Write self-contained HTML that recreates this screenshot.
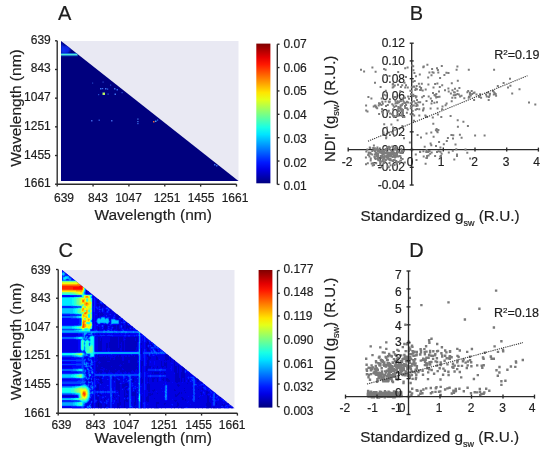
<!DOCTYPE html><html><head><meta charset="utf-8"><style>html,body{margin:0;padding:0;background:#fff;width:550px;height:452px;overflow:hidden}svg{display:block;filter:blur(0.4px)}text{font-family:"Liberation Sans",sans-serif;fill:#1e1e1e;stroke:#1e1e1e;stroke-width:0.2px}</style></head><body>
<svg width="550" height="452" viewBox="0 0 550 452">
<defs><linearGradient id="jet" x1="0" y1="0" x2="0" y2="1"><stop offset="0.00" stop-color="#7f0000"/><stop offset="0.05" stop-color="#b20000"/><stop offset="0.10" stop-color="#e50000"/><stop offset="0.15" stop-color="#ff1900"/><stop offset="0.20" stop-color="#ff4c00"/><stop offset="0.25" stop-color="#ff7f00"/><stop offset="0.30" stop-color="#ffb200"/><stop offset="0.35" stop-color="#ffe500"/><stop offset="0.40" stop-color="#e5ff19"/><stop offset="0.45" stop-color="#b2ff4c"/><stop offset="0.50" stop-color="#7fff7f"/><stop offset="0.55" stop-color="#4cffb2"/><stop offset="0.60" stop-color="#19ffe5"/><stop offset="0.65" stop-color="#00e5ff"/><stop offset="0.70" stop-color="#00b2ff"/><stop offset="0.75" stop-color="#007fff"/><stop offset="0.80" stop-color="#004cff"/><stop offset="0.85" stop-color="#0019ff"/><stop offset="0.90" stop-color="#0000e5"/><stop offset="0.95" stop-color="#0000b2"/><stop offset="1.00" stop-color="#00007f"/></linearGradient><filter id="bl" x="-5%" y="-5%" width="110%" height="110%"><feGaussianBlur stdDeviation="1"/></filter></defs>
<rect x="61" y="41" width="177.5" height="140" fill="#e9e9f3"/>
<polygon points="61,41 61,181 238.5,181" fill="#00007e"/>
<defs><clipPath id="atri"><polygon points="61,41 61,181 238.5,181"/></clipPath></defs><g clip-path="url(#atri)">
<g filter="url(#bl)">
<ellipse cx="65.5" cy="49.5" rx="5" ry="4" fill="#0828e8"/>
<polygon points="61,42 61,53.5 67,53.5" fill="#0a30f0"/>
</g>
<rect x="61" y="53.8" width="16.5" height="1.8" fill="#50e8d8"/>
<rect x="61" y="53.2" width="17" height="0.6" fill="#1890ff"/><rect x="61" y="55.6" width="17" height="0.6" fill="#1070e0"/>
<g>
<rect x="102.5" y="92.5" width="2.5" height="2.5" fill="#a0f070"/>
<rect x="103.2" y="93.2" width="1.2" height="1.2" fill="#f0f040"/>
<rect x="100" y="88" width="1.5" height="1.5" fill="#3a70f0"/>
<rect x="102" y="88" width="1.2" height="1.2" fill="#3a70f0"/>
<rect x="105" y="88" width="1.5" height="1.5" fill="#3a70f0"/>
<rect x="107" y="88.5" width="1.2" height="1.2" fill="#3060f0"/>
<rect x="114" y="88" width="1.5" height="1.5" fill="#3a70f0"/>
<rect x="116.5" y="89" width="1.5" height="1.5" fill="#3060f0"/>
<rect x="110" y="84.5" width="1.2" height="1.2" fill="#2848d0"/>
<rect x="102.5" y="81.5" width="1.2" height="1.2" fill="#2848d0"/>
<rect x="92" y="82.5" width="1.2" height="1.2" fill="#2040c0"/>
<rect x="114.5" y="93.5" width="1.5" height="1.5" fill="#3a70f0"/>
<rect x="107.5" y="93.5" width="1.2" height="1.2" fill="#3060e0"/>
<rect x="121.5" y="92" width="1.2" height="1.2" fill="#2850d0"/>
<rect x="98" y="94" width="1.2" height="1.2" fill="#2850d0"/>
<rect x="91" y="120" width="1.5" height="1.5" fill="#3a60e0"/>
<rect x="98.5" y="119.5" width="1.5" height="1.5" fill="#2848d0"/>
<rect x="111" y="120" width="1.5" height="1.5" fill="#3a60e0"/>
<rect x="137.3" y="118.5" width="1.2" height="1.2" fill="#4a80f0"/>
<rect x="137.3" y="121" width="1.2" height="1.2" fill="#4a80f0"/>
<rect x="137.3" y="123" width="1.2" height="1.2" fill="#3a70f0"/>
<rect x="153" y="121" width="1.5" height="1.5" fill="#e06040"/>
<rect x="155" y="120.5" width="1.5" height="1.5" fill="#40a0f0"/>
<rect x="157" y="119.5" width="1.2" height="1.2" fill="#3070f0"/>
<rect x="214" y="164" width="1.5" height="1.5" fill="#3a70f0"/>
<rect x="216" y="165" width="1.5" height="1.5" fill="#3060e0"/>
</g></g>
<line x1="57.2" y1="40.8" x2="57.2" y2="184.2" stroke="#2a2a2a" stroke-width="1.35" />
<line x1="57.2" y1="184.2" x2="236.5" y2="184.2" stroke="#2a2a2a" stroke-width="1.35" />
<line x1="55.0" y1="40.8" x2="57.2" y2="40.8" stroke="#2a2a2a" stroke-width="1.35" />
<line x1="57.2" y1="184.2" x2="57.2" y2="186.6" stroke="#2a2a2a" stroke-width="1.35" />
<line x1="55.0" y1="69.47999999999999" x2="57.2" y2="69.47999999999999" stroke="#2a2a2a" stroke-width="1.35" />
<line x1="93.06" y1="184.2" x2="93.06" y2="186.6" stroke="#2a2a2a" stroke-width="1.35" />
<line x1="55.0" y1="98.16" x2="57.2" y2="98.16" stroke="#2a2a2a" stroke-width="1.35" />
<line x1="128.92000000000002" y1="184.2" x2="128.92000000000002" y2="186.6" stroke="#2a2a2a" stroke-width="1.35" />
<line x1="55.0" y1="126.83999999999999" x2="57.2" y2="126.83999999999999" stroke="#2a2a2a" stroke-width="1.35" />
<line x1="164.78000000000003" y1="184.2" x2="164.78000000000003" y2="186.6" stroke="#2a2a2a" stroke-width="1.35" />
<line x1="55.0" y1="155.51999999999998" x2="57.2" y2="155.51999999999998" stroke="#2a2a2a" stroke-width="1.35" />
<line x1="200.64" y1="184.2" x2="200.64" y2="186.6" stroke="#2a2a2a" stroke-width="1.35" />
<line x1="55.0" y1="184.2" x2="57.2" y2="184.2" stroke="#2a2a2a" stroke-width="1.35" />
<line x1="236.5" y1="184.2" x2="236.5" y2="186.6" stroke="#2a2a2a" stroke-width="1.35" />
<text x="50.8" y="43.6" font-size="12" text-anchor="end" >639</text>
<text x="64" y="202.1" font-size="12" text-anchor="middle" >639</text>
<text x="50.8" y="72.39999999999999" font-size="12" text-anchor="end" >843</text>
<text x="98" y="202.1" font-size="12" text-anchor="middle" >843</text>
<text x="50.8" y="101.1" font-size="12" text-anchor="end" >1047</text>
<text x="128.5" y="202.1" font-size="12" text-anchor="middle" >1047</text>
<text x="50.8" y="129.8" font-size="12" text-anchor="end" >1251</text>
<text x="167" y="202.1" font-size="12" text-anchor="middle" >1251</text>
<text x="50.8" y="158.7" font-size="12" text-anchor="end" >1455</text>
<text x="201" y="202.1" font-size="12" text-anchor="middle" >1455</text>
<text x="50.8" y="187.1" font-size="12" text-anchor="end" >1661</text>
<text x="235" y="202.1" font-size="12" text-anchor="middle" >1661</text>
<text x="94.4" y="220" font-size="15.5" text-anchor="start" >Wavelength (nm)</text>
<text x="0" y="0" font-size="15.5" text-anchor="middle" transform="translate(21.3,108) rotate(-90)">Wavelength (nm)</text>
<text x="58" y="20.1" font-size="20" text-anchor="start" >A</text>
<rect x="256.3" y="43.6" width="14.099999999999966" height="139.70000000000002" fill="url(#jet)"/>
<line x1="277.3" y1="44.2" x2="277.3" y2="184.4" stroke="#2a2a2a" stroke-width="1.35" />
<line x1="277.3" y1="44.2" x2="279.5" y2="44.2" stroke="#2a2a2a" stroke-width="1.35" />
<text x="283.4" y="48.0" font-size="12" text-anchor="start" >0.07</text>
<line x1="277.3" y1="67.56666666666666" x2="279.5" y2="67.56666666666666" stroke="#2a2a2a" stroke-width="1.35" />
<text x="283.4" y="71.69999999999999" font-size="12" text-anchor="start" >0.06</text>
<line x1="277.3" y1="90.93333333333334" x2="279.5" y2="90.93333333333334" stroke="#2a2a2a" stroke-width="1.35" />
<text x="283.4" y="95.39999999999999" font-size="12" text-anchor="start" >0.05</text>
<line x1="277.3" y1="114.3" x2="279.5" y2="114.3" stroke="#2a2a2a" stroke-width="1.35" />
<text x="283.4" y="119.1" font-size="12" text-anchor="start" >0.04</text>
<line x1="277.3" y1="137.66666666666666" x2="279.5" y2="137.66666666666666" stroke="#2a2a2a" stroke-width="1.35" />
<text x="283.4" y="142.79999999999998" font-size="12" text-anchor="start" >0.03</text>
<line x1="277.3" y1="161.03333333333333" x2="279.5" y2="161.03333333333333" stroke="#2a2a2a" stroke-width="1.35" />
<text x="283.4" y="166.5" font-size="12" text-anchor="start" >0.02</text>
<line x1="277.3" y1="184.39999999999998" x2="279.5" y2="184.39999999999998" stroke="#2a2a2a" stroke-width="1.35" />
<text x="283.4" y="190.2" font-size="12" text-anchor="start" >0.01</text>
<rect x="62" y="270" width="172.5" height="138.2" fill="#e9e9f3"/>
<defs><clipPath id="ctri"><polygon points="62,270 62,408.2 234.5,408.2"/></clipPath></defs>
<g clip-path="url(#ctri)"><g>
<rect x="62" y="270" width="173" height="139" fill="#0000e2"/><path fill="#0004ff" d="M62 270h14v1h-14zM84 270h1v1h-1zM128 270h1v1h-1zM197 270h1v1h-1zM221 270h1v1h-1zM62 271h1v1h-1zM64 271h12v1h-12zM84 271h1v1h-1zM200 271h1v1h-1zM65 272h11v1h-11zM84 272h1v1h-1zM146 272h1v1h-1zM155 272h1v1h-1zM172 272h1v1h-1zM66 273h10v1h-10zM84 273h1v1h-1zM103 273h1v1h-1zM172 273h1v1h-1zM200 273h1v1h-1zM218 273h2v1h-2zM66 274h10v1h-10zM84 274h1v1h-1zM111 274h1v1h-1zM145 274h1v1h-1zM171 274h2v1h-2zM200 274h1v1h-1zM69 275h7v1h-7zM84 275h1v1h-1zM132 275h1v1h-1zM209 275h1v1h-1zM229 275h1v1h-1zM70 276h6v1h-6zM84 276h1v1h-1zM123 276h1v1h-1zM172 276h1v1h-1zM220 276h1v1h-1zM225 276h1v1h-1zM71 277h5v1h-5zM84 277h1v1h-1zM101 277h1v1h-1zM110 277h1v1h-1zM118 277h1v1h-1zM141 277h2v1h-2zM146 277h1v1h-1zM171 277h2v1h-2zM72 278h4v1h-4zM84 278h1v1h-1zM146 278h1v1h-1zM171 278h2v1h-2zM176 278h1v1h-1zM203 278h2v1h-2zM72 279h4v1h-4zM84 279h1v1h-1zM95 279h1v1h-1zM142 279h1v1h-1zM171 279h2v1h-2zM142 280h1v1h-1zM146 280h1v1h-1zM171 280h2v1h-2zM142 281h1v1h-1zM171 281h2v1h-2zM196 281h2v1h-2zM142 282h1v1h-1zM160 282h1v1h-1zM170 282h2v1h-2zM197 282h1v1h-1zM210 282h1v1h-1zM142 283h1v1h-1zM160 283h1v1h-1zM171 283h1v1h-1zM210 283h1v1h-1zM229 283h1v1h-1zM142 284h1v1h-1zM160 284h1v1h-1zM210 284h1v1h-1zM86 285h1v1h-1zM160 285h1v1h-1zM199 285h2v1h-2zM86 286h1v1h-1zM160 286h1v1h-1zM200 286h2v1h-2zM142 287h2v1h-2zM160 287h1v1h-1zM171 287h1v1h-1zM220 287h1v1h-1zM88 288h1v1h-1zM135 288h1v1h-1zM142 288h1v1h-1zM171 288h1v1h-1zM190 288h1v1h-1zM88 289h1v1h-1zM144 289h1v1h-1zM155 289h1v1h-1zM171 289h1v1h-1zM190 289h1v1h-1zM204 289h1v1h-1zM234 289h1v1h-1zM88 290h1v1h-1zM190 290h1v1h-1zM204 290h1v1h-1zM233 290h2v1h-2zM88 291h1v1h-1zM158 291h1v1h-1zM190 291h1v1h-1zM204 291h1v1h-1zM234 291h1v1h-1zM88 292h1v1h-1zM185 292h1v1h-1zM190 292h1v1h-1zM204 292h1v1h-1zM173 293h1v1h-1zM190 293h1v1h-1zM234 293h1v1h-1zM190 294h1v1h-1zM193 294h1v1h-1zM233 294h2v1h-2zM62 295h8v1h-8zM138 295h2v1h-2zM190 295h1v1h-1zM234 295h1v1h-1zM62 296h12v1h-12zM92 296h1v1h-1zM97 296h1v1h-1zM99 296h1v1h-1zM115 296h1v1h-1zM134 296h1v1h-1zM190 296h1v1h-1zM217 296h1v1h-1zM92 297h1v1h-1zM94 297h1v1h-1zM97 297h1v1h-1zM190 297h1v1h-1zM192 297h1v1h-1zM226 297h1v1h-1zM111 298h1v1h-1zM134 298h1v1h-1zM190 298h1v1h-1zM95 299h1v1h-1zM115 299h1v1h-1zM190 299h1v1h-1zM95 300h1v1h-1zM100 300h1v1h-1zM103 300h2v1h-2zM111 300h1v1h-1zM95 301h1v1h-1zM101 301h2v1h-2zM105 301h1v1h-1zM108 301h3v1h-3zM124 301h1v1h-1zM138 301h1v1h-1zM95 302h1v1h-1zM102 302h2v1h-2zM108 302h1v1h-1zM110 302h2v1h-2zM137 302h1v1h-1zM139 302h1v1h-1zM196 302h1v1h-1zM210 302h1v1h-1zM95 303h1v1h-1zM100 303h1v1h-1zM102 303h1v1h-1zM108 303h1v1h-1zM110 303h2v1h-2zM121 303h1v1h-1zM126 303h1v1h-1zM138 303h1v1h-1zM196 303h2v1h-2zM95 304h1v1h-1zM108 304h1v1h-1zM110 304h1v1h-1zM114 304h1v1h-1zM127 304h1v1h-1zM130 304h1v1h-1zM196 304h1v1h-1zM95 305h1v1h-1zM109 305h1v1h-1zM113 305h1v1h-1zM122 305h1v1h-1zM134 305h1v1h-1zM169 305h1v1h-1zM93 306h1v1h-1zM95 306h2v1h-2zM115 306h1v1h-1zM135 306h1v1h-1zM137 306h1v1h-1zM209 306h1v1h-1zM93 307h1v1h-1zM95 307h1v1h-1zM97 307h2v1h-2zM106 307h2v1h-2zM117 307h1v1h-1zM123 307h1v1h-1zM133 307h2v1h-2zM172 307h1v1h-1zM93 308h1v1h-1zM96 308h1v1h-1zM98 308h2v1h-2zM103 308h1v1h-1zM105 308h1v1h-1zM108 308h1v1h-1zM123 308h1v1h-1zM129 308h1v1h-1zM132 308h1v1h-1zM134 308h1v1h-1zM172 308h1v1h-1zM189 308h2v1h-2zM93 309h1v1h-1zM97 309h2v1h-2zM101 309h1v1h-1zM103 309h1v1h-1zM106 309h2v1h-2zM109 309h1v1h-1zM118 309h1v1h-1zM129 309h1v1h-1zM132 309h3v1h-3zM160 309h1v1h-1zM172 309h2v1h-2zM180 309h1v1h-1zM93 310h1v1h-1zM99 310h1v1h-1zM103 310h1v1h-1zM107 310h1v1h-1zM109 310h1v1h-1zM128 310h1v1h-1zM133 310h2v1h-2zM172 310h1v1h-1zM232 310h1v1h-1zM234 310h1v1h-1zM93 311h1v1h-1zM103 311h1v1h-1zM106 311h1v1h-1zM108 311h1v1h-1zM132 311h1v1h-1zM138 311h1v1h-1zM172 311h1v1h-1zM189 311h2v1h-2zM232 311h1v1h-1zM94 312h1v1h-1zM106 312h1v1h-1zM108 312h1v1h-1zM129 312h1v1h-1zM154 312h2v1h-2zM94 313h1v1h-1zM129 313h1v1h-1zM134 313h1v1h-1zM138 313h1v1h-1zM190 313h1v1h-1zM94 314h3v1h-3zM109 314h1v1h-1zM114 314h1v1h-1zM184 314h1v1h-1zM190 314h1v1h-1zM205 314h1v1h-1zM209 314h1v1h-1zM62 315h8v1h-8zM94 315h1v1h-1zM125 315h1v1h-1zM138 315h2v1h-2zM176 315h1v1h-1zM190 315h1v1h-1zM94 316h1v1h-1zM102 316h3v1h-3zM106 316h1v1h-1zM113 316h2v1h-2zM125 316h1v1h-1zM129 316h1v1h-1zM134 316h1v1h-1zM138 316h1v1h-1zM94 317h1v1h-1zM99 317h2v1h-2zM105 317h2v1h-2zM109 317h1v1h-1zM126 317h1v1h-1zM128 317h1v1h-1zM130 317h1v1h-1zM134 317h1v1h-1zM137 317h2v1h-2zM172 317h2v1h-2zM188 317h1v1h-1zM62 318h9v1h-9zM94 318h1v1h-1zM111 318h2v1h-2zM114 318h1v1h-1zM121 318h2v1h-2zM125 318h1v1h-1zM127 318h1v1h-1zM137 318h1v1h-1zM139 318h1v1h-1zM171 318h2v1h-2zM194 318h1v1h-1zM62 319h17v1h-17zM92 319h1v1h-1zM94 319h1v1h-1zM96 319h1v1h-1zM116 319h1v1h-1zM127 319h5v1h-5zM136 319h1v1h-1zM138 319h2v1h-2zM171 319h1v1h-1zM194 319h1v1h-1zM62 320h17v1h-17zM92 320h1v1h-1zM94 320h1v1h-1zM109 320h2v1h-2zM128 320h3v1h-3zM132 320h1v1h-1zM138 320h1v1h-1zM144 320h1v1h-1zM171 320h1v1h-1zM202 320h2v1h-2zM62 321h17v1h-17zM92 321h1v1h-1zM94 321h2v1h-2zM110 321h1v1h-1zM123 321h2v1h-2zM129 321h2v1h-2zM132 321h1v1h-1zM134 321h1v1h-1zM138 321h2v1h-2zM171 321h1v1h-1zM62 322h17v1h-17zM94 322h1v1h-1zM96 322h1v1h-1zM109 322h2v1h-2zM122 322h1v1h-1zM125 322h1v1h-1zM131 322h2v1h-2zM134 322h1v1h-1zM138 322h2v1h-2zM168 322h1v1h-1zM171 322h1v1h-1zM62 323h17v1h-17zM94 323h1v1h-1zM101 323h2v1h-2zM110 323h1v1h-1zM123 323h2v1h-2zM128 323h1v1h-1zM130 323h1v1h-1zM133 323h1v1h-1zM138 323h2v1h-2zM171 323h1v1h-1zM62 324h16v1h-16zM94 324h2v1h-2zM97 324h3v1h-3zM107 324h1v1h-1zM109 324h1v1h-1zM112 324h6v1h-6zM124 324h1v1h-1zM129 324h1v1h-1zM137 324h1v1h-1zM171 324h1v1h-1zM180 324h1v1h-1zM221 324h1v1h-1zM94 325h3v1h-3zM101 325h1v1h-1zM103 325h1v1h-1zM110 325h1v1h-1zM120 325h1v1h-1zM138 325h1v1h-1zM170 325h2v1h-2zM94 326h2v1h-2zM99 326h1v1h-1zM101 326h1v1h-1zM103 326h1v1h-1zM109 326h1v1h-1zM120 326h1v1h-1zM170 326h3v1h-3zM94 327h2v1h-2zM102 327h2v1h-2zM108 327h1v1h-1zM111 327h1v1h-1zM120 327h1v1h-1zM170 327h2v1h-2zM92 328h1v1h-1zM94 328h2v1h-2zM109 328h1v1h-1zM111 328h2v1h-2zM121 328h1v1h-1zM134 328h1v1h-1zM144 328h1v1h-1zM170 328h2v1h-2zM192 328h1v1h-1zM94 329h3v1h-3zM107 329h4v1h-4zM121 329h1v1h-1zM123 329h1v1h-1zM127 329h1v1h-1zM134 329h1v1h-1zM171 329h1v1h-1zM198 329h1v1h-1zM91 330h3v1h-3zM97 330h1v1h-1zM99 330h4v1h-4zM105 330h2v1h-2zM110 330h1v1h-1zM112 330h2v1h-2zM115 330h3v1h-3zM120 330h2v1h-2zM124 330h16v1h-16zM142 330h3v1h-3zM197 330h2v1h-2zM145 331h1v1h-1zM154 331h1v1h-1zM171 331h1v1h-1zM197 331h2v1h-2zM200 331h1v1h-1zM145 332h1v1h-1zM169 332h3v1h-3zM179 332h1v1h-1zM197 332h1v1h-1zM233 332h1v1h-1zM62 333h16v1h-16zM93 333h1v1h-1zM95 333h3v1h-3zM99 333h14v1h-14zM114 333h5v1h-5zM120 333h5v1h-5zM126 333h3v1h-3zM130 333h8v1h-8zM141 333h1v1h-1zM143 333h2v1h-2zM167 333h1v1h-1zM171 333h1v1h-1zM197 333h1v1h-1zM212 333h1v1h-1zM78 334h4v1h-4zM87 334h1v1h-1zM94 334h1v1h-1zM100 334h1v1h-1zM103 334h1v1h-1zM108 334h2v1h-2zM111 334h1v1h-1zM121 334h1v1h-1zM125 334h1v1h-1zM136 334h2v1h-2zM140 334h1v1h-1zM142 334h3v1h-3zM184 334h1v1h-1zM197 334h1v1h-1zM78 335h4v1h-4zM86 335h4v1h-4zM96 335h4v1h-4zM105 335h2v1h-2zM113 335h11v1h-11zM126 335h2v1h-2zM130 335h4v1h-4zM135 335h1v1h-1zM137 335h1v1h-1zM141 335h1v1h-1zM160 335h1v1h-1zM62 336h14v1h-14zM88 336h1v1h-1zM101 336h1v1h-1zM112 336h1v1h-1zM124 336h2v1h-2zM128 336h2v1h-2zM134 336h1v1h-1zM138 336h1v1h-1zM141 336h3v1h-3zM145 336h1v1h-1zM160 336h1v1h-1zM234 336h1v1h-1zM138 337h1v1h-1zM142 337h1v1h-1zM145 337h1v1h-1zM164 337h1v1h-1zM210 337h2v1h-2zM138 338h1v1h-1zM142 338h1v1h-1zM145 338h1v1h-1zM148 338h1v1h-1zM196 338h2v1h-2zM211 338h1v1h-1zM234 338h1v1h-1zM62 339h14v1h-14zM124 339h1v1h-1zM138 339h1v1h-1zM142 339h1v1h-1zM145 339h1v1h-1zM149 339h1v1h-1zM157 339h3v1h-3zM164 339h1v1h-1zM204 339h2v1h-2zM227 339h1v1h-1zM78 340h2v1h-2zM138 340h1v1h-1zM142 340h1v1h-1zM145 340h1v1h-1zM150 340h1v1h-1zM157 340h1v1h-1zM160 340h2v1h-2zM184 340h1v1h-1zM208 340h1v1h-1zM78 341h2v1h-2zM138 341h1v1h-1zM145 341h1v1h-1zM150 341h1v1h-1zM160 341h2v1h-2zM165 341h1v1h-1zM78 342h2v1h-2zM144 342h1v1h-1zM149 342h1v1h-1zM152 342h3v1h-3zM156 342h1v1h-1zM159 342h3v1h-3zM164 342h1v1h-1zM171 342h1v1h-1zM226 342h1v1h-1zM78 343h2v1h-2zM140 343h1v1h-1zM144 343h1v1h-1zM149 343h1v1h-1zM154 343h2v1h-2zM161 343h1v1h-1zM171 343h1v1h-1zM214 343h1v1h-1zM226 343h1v1h-1zM78 344h2v1h-2zM140 344h1v1h-1zM144 344h1v1h-1zM153 344h1v1h-1zM155 344h1v1h-1zM158 344h1v1h-1zM161 344h2v1h-2zM171 344h1v1h-1zM176 344h1v1h-1zM186 344h1v1h-1zM189 344h1v1h-1zM226 344h1v1h-1zM234 344h1v1h-1zM78 345h2v1h-2zM140 345h1v1h-1zM144 345h1v1h-1zM149 345h1v1h-1zM153 345h1v1h-1zM159 345h1v1h-1zM161 345h1v1h-1zM171 345h1v1h-1zM189 345h1v1h-1zM218 345h1v1h-1zM226 345h1v1h-1zM78 346h2v1h-2zM140 346h1v1h-1zM144 346h1v1h-1zM150 346h1v1h-1zM156 346h1v1h-1zM158 346h1v1h-1zM161 346h1v1h-1zM171 346h1v1h-1zM189 346h1v1h-1zM226 346h1v1h-1zM78 347h2v1h-2zM140 347h1v1h-1zM144 347h1v1h-1zM150 347h1v1h-1zM164 347h3v1h-3zM168 347h17v1h-17zM78 348h2v1h-2zM140 348h1v1h-1zM144 348h1v1h-1zM150 348h1v1h-1zM154 348h3v1h-3zM159 348h2v1h-2zM164 348h9v1h-9zM174 348h11v1h-11zM78 349h2v1h-2zM140 349h1v1h-1zM145 349h1v1h-1zM150 349h1v1h-1zM152 349h1v1h-1zM154 349h1v1h-1zM158 349h4v1h-4zM163 349h2v1h-2zM172 349h2v1h-2zM78 350h3v1h-3zM140 350h1v1h-1zM145 350h1v1h-1zM150 350h1v1h-1zM152 350h1v1h-1zM155 350h1v1h-1zM159 350h1v1h-1zM162 350h1v1h-1zM165 350h1v1h-1zM179 350h1v1h-1zM192 350h2v1h-2zM78 351h3v1h-3zM95 351h13v1h-13zM109 351h28v1h-28zM140 351h1v1h-1zM143 351h1v1h-1zM145 351h2v1h-2zM150 351h1v1h-1zM156 351h1v1h-1zM158 351h2v1h-2zM140 352h1v1h-1zM170 352h1v1h-1zM188 352h1v1h-1zM140 353h1v1h-1zM96 354h1v1h-1zM98 354h13v1h-13zM112 354h19v1h-19zM132 354h6v1h-6zM143 354h1v1h-1zM145 354h2v1h-2zM148 354h1v1h-1zM150 354h1v1h-1zM152 354h4v1h-4zM157 354h8v1h-8zM172 354h1v1h-1zM226 354h1v1h-1zM143 355h1v1h-1zM145 355h1v1h-1zM152 355h1v1h-1zM154 355h1v1h-1zM172 355h1v1h-1zM204 355h1v1h-1zM226 355h1v1h-1zM86 356h2v1h-2zM138 356h1v1h-1zM143 356h1v1h-1zM145 356h1v1h-1zM172 356h1v1h-1zM226 356h1v1h-1zM62 357h12v1h-12zM84 357h1v1h-1zM88 357h1v1h-1zM92 357h2v1h-2zM138 357h1v1h-1zM143 357h1v1h-1zM145 357h1v1h-1zM187 357h1v1h-1zM226 357h1v1h-1zM71 358h10v1h-10zM84 358h2v1h-2zM87 358h1v1h-1zM89 358h3v1h-3zM94 358h1v1h-1zM138 358h1v1h-1zM145 358h1v1h-1zM226 358h1v1h-1zM62 359h14v1h-14zM87 359h1v1h-1zM94 359h1v1h-1zM138 359h1v1h-1zM145 359h1v1h-1zM159 359h1v1h-1zM217 359h1v1h-1zM226 359h1v1h-1zM229 359h1v1h-1zM92 360h1v1h-1zM94 360h1v1h-1zM138 360h1v1h-1zM140 360h1v1h-1zM145 360h1v1h-1zM204 360h1v1h-1zM62 361h14v1h-14zM85 361h2v1h-2zM90 361h1v1h-1zM95 361h1v1h-1zM140 361h1v1h-1zM145 361h1v1h-1zM150 361h1v1h-1zM154 361h1v1h-1zM222 361h1v1h-1zM71 362h10v1h-10zM88 362h1v1h-1zM90 362h1v1h-1zM93 362h2v1h-2zM138 362h1v1h-1zM140 362h1v1h-1zM145 362h1v1h-1zM150 362h1v1h-1zM154 362h1v1h-1zM222 362h1v1h-1zM62 363h14v1h-14zM89 363h1v1h-1zM94 363h1v1h-1zM138 363h1v1h-1zM140 363h1v1h-1zM145 363h2v1h-2zM154 363h1v1h-1zM171 363h2v1h-2zM179 363h1v1h-1zM186 363h1v1h-1zM222 363h1v1h-1zM93 364h2v1h-2zM138 364h1v1h-1zM140 364h1v1h-1zM145 364h1v1h-1zM154 364h1v1h-1zM62 365h14v1h-14zM92 365h1v1h-1zM94 365h1v1h-1zM138 365h1v1h-1zM140 365h1v1h-1zM145 365h1v1h-1zM72 366h9v1h-9zM91 366h1v1h-1zM94 366h1v1h-1zM138 366h1v1h-1zM140 366h1v1h-1zM144 366h1v1h-1zM171 366h1v1h-1zM188 366h1v1h-1zM197 366h2v1h-2zM206 366h1v1h-1zM72 367h9v1h-9zM84 367h2v1h-2zM88 367h2v1h-2zM94 367h1v1h-1zM138 367h1v1h-1zM140 367h1v1h-1zM144 367h1v1h-1zM151 367h1v1h-1zM171 367h1v1h-1zM197 367h1v1h-1zM229 367h1v1h-1zM62 368h11v1h-11zM84 368h1v1h-1zM86 368h1v1h-1zM92 368h1v1h-1zM94 368h1v1h-1zM138 368h1v1h-1zM140 368h1v1h-1zM144 368h1v1h-1zM151 368h1v1h-1zM155 368h1v1h-1zM160 368h2v1h-2zM170 368h2v1h-2zM197 368h1v1h-1zM229 368h1v1h-1zM86 369h1v1h-1zM89 369h2v1h-2zM93 369h2v1h-2zM138 369h1v1h-1zM140 369h1v1h-1zM144 369h1v1h-1zM171 369h1v1h-1zM186 369h1v1h-1zM197 369h1v1h-1zM229 369h1v1h-1zM86 370h2v1h-2zM93 370h2v1h-2zM138 370h1v1h-1zM140 370h1v1h-1zM144 370h1v1h-1zM171 370h1v1h-1zM186 370h1v1h-1zM188 370h2v1h-2zM197 370h1v1h-1zM229 370h1v1h-1zM62 371h9v1h-9zM86 371h2v1h-2zM90 371h1v1h-1zM93 371h2v1h-2zM138 371h1v1h-1zM140 371h1v1h-1zM144 371h1v1h-1zM160 371h1v1h-1zM186 371h2v1h-2zM190 371h1v1h-1zM234 371h1v1h-1zM62 372h16v1h-16zM90 372h1v1h-1zM94 372h1v1h-1zM138 372h1v1h-1zM145 372h1v1h-1zM188 372h2v1h-2zM87 373h1v1h-1zM90 373h1v1h-1zM93 373h1v1h-1zM95 373h1v1h-1zM99 373h1v1h-1zM102 373h4v1h-4zM108 373h5v1h-5zM115 373h3v1h-3zM120 373h2v1h-2zM124 373h2v1h-2zM128 373h2v1h-2zM134 373h3v1h-3zM145 373h1v1h-1zM147 373h1v1h-1zM174 373h1v1h-1zM234 373h1v1h-1zM86 374h1v1h-1zM91 374h2v1h-2zM145 374h1v1h-1zM150 374h1v1h-1zM160 374h1v1h-1zM86 375h1v1h-1zM91 375h2v1h-2zM145 375h1v1h-1zM147 375h1v1h-1zM212 375h1v1h-1zM88 376h1v1h-1zM90 376h2v1h-2zM93 376h1v1h-1zM95 376h1v1h-1zM99 376h1v1h-1zM102 376h1v1h-1zM104 376h2v1h-2zM108 376h1v1h-1zM112 376h2v1h-2zM116 376h3v1h-3zM120 376h3v1h-3zM125 376h1v1h-1zM127 376h1v1h-1zM131 376h1v1h-1zM134 376h3v1h-3zM145 376h1v1h-1zM147 376h1v1h-1zM188 376h1v1h-1zM190 376h4v1h-4zM196 376h1v1h-1zM87 377h1v1h-1zM91 377h2v1h-2zM94 377h1v1h-1zM102 377h2v1h-2zM109 377h1v1h-1zM125 377h1v1h-1zM128 377h1v1h-1zM150 377h1v1h-1zM159 377h2v1h-2zM187 377h1v1h-1zM189 377h1v1h-1zM194 377h1v1h-1zM208 377h2v1h-2zM90 378h1v1h-1zM95 378h1v1h-1zM103 378h1v1h-1zM109 378h1v1h-1zM118 378h1v1h-1zM124 378h1v1h-1zM128 378h1v1h-1zM131 378h1v1h-1zM140 378h1v1h-1zM159 378h2v1h-2zM190 378h2v1h-2zM208 378h1v1h-1zM71 379h9v1h-9zM85 379h2v1h-2zM95 379h1v1h-1zM97 379h1v1h-1zM108 379h2v1h-2zM123 379h1v1h-1zM128 379h1v1h-1zM140 379h1v1h-1zM159 379h2v1h-2zM232 379h1v1h-1zM62 380h16v1h-16zM85 380h1v1h-1zM88 380h1v1h-1zM91 380h1v1h-1zM95 380h1v1h-1zM109 380h1v1h-1zM123 380h1v1h-1zM127 380h1v1h-1zM131 380h1v1h-1zM140 380h1v1h-1zM159 380h2v1h-2zM186 380h1v1h-1zM190 380h2v1h-2zM195 380h1v1h-1zM209 380h1v1h-1zM232 380h1v1h-1zM89 381h2v1h-2zM92 381h1v1h-1zM95 381h1v1h-1zM97 381h1v1h-1zM109 381h1v1h-1zM135 381h1v1h-1zM140 381h1v1h-1zM186 381h1v1h-1zM191 381h2v1h-2zM195 381h1v1h-1zM232 381h1v1h-1zM93 382h1v1h-1zM95 382h1v1h-1zM98 382h1v1h-1zM109 382h1v1h-1zM114 382h1v1h-1zM128 382h1v1h-1zM131 382h1v1h-1zM140 382h1v1h-1zM147 382h1v1h-1zM165 382h1v1h-1zM172 382h1v1h-1zM182 382h1v1h-1zM192 382h1v1h-1zM195 382h1v1h-1zM85 383h1v1h-1zM89 383h1v1h-1zM91 383h1v1h-1zM93 383h1v1h-1zM95 383h1v1h-1zM109 383h1v1h-1zM121 383h1v1h-1zM128 383h1v1h-1zM131 383h1v1h-1zM140 383h1v1h-1zM165 383h1v1h-1zM195 383h1v1h-1zM62 384h18v1h-18zM86 384h2v1h-2zM89 384h1v1h-1zM91 384h1v1h-1zM93 384h1v1h-1zM95 384h1v1h-1zM109 384h1v1h-1zM131 384h2v1h-2zM140 384h1v1h-1zM145 384h1v1h-1zM163 384h1v1h-1zM165 384h2v1h-2zM200 384h1v1h-1zM204 384h1v1h-1zM62 385h13v1h-13zM89 385h1v1h-1zM93 385h1v1h-1zM108 385h2v1h-2zM131 385h1v1h-1zM133 385h1v1h-1zM140 385h1v1h-1zM145 385h1v1h-1zM167 385h1v1h-1zM192 385h1v1h-1zM195 385h2v1h-2zM199 385h3v1h-3zM203 385h2v1h-2zM89 386h1v1h-1zM109 386h1v1h-1zM126 386h1v1h-1zM131 386h2v1h-2zM134 386h1v1h-1zM141 386h1v1h-1zM145 386h1v1h-1zM164 386h1v1h-1zM167 386h1v1h-1zM192 386h1v1h-1zM197 386h1v1h-1zM204 386h2v1h-2zM208 386h1v1h-1zM229 386h1v1h-1zM95 387h1v1h-1zM104 387h1v1h-1zM109 387h1v1h-1zM114 387h1v1h-1zM128 387h1v1h-1zM133 387h4v1h-4zM140 387h1v1h-1zM145 387h1v1h-1zM164 387h1v1h-1zM167 387h1v1h-1zM231 387h1v1h-1zM234 387h1v1h-1zM94 388h1v1h-1zM109 388h1v1h-1zM114 388h1v1h-1zM134 388h1v1h-1zM140 388h1v1h-1zM145 388h1v1h-1zM161 388h1v1h-1zM164 388h1v1h-1zM167 388h1v1h-1zM203 388h1v1h-1zM206 388h2v1h-2zM218 388h1v1h-1zM93 389h2v1h-2zM109 389h1v1h-1zM114 389h1v1h-1zM127 389h1v1h-1zM133 389h1v1h-1zM140 389h1v1h-1zM145 389h1v1h-1zM164 389h1v1h-1zM167 389h1v1h-1zM192 389h1v1h-1zM204 389h1v1h-1zM206 389h1v1h-1zM208 389h1v1h-1zM91 390h3v1h-3zM95 390h1v1h-1zM100 390h1v1h-1zM102 390h2v1h-2zM107 390h3v1h-3zM112 390h1v1h-1zM114 390h2v1h-2zM128 390h1v1h-1zM140 390h1v1h-1zM144 390h1v1h-1zM164 390h1v1h-1zM167 390h1v1h-1zM201 390h1v1h-1zM208 390h3v1h-3zM140 391h1v1h-1zM144 391h1v1h-1zM156 391h1v1h-1zM162 391h1v1h-1zM167 391h1v1h-1zM203 391h1v1h-1zM211 391h1v1h-1zM214 391h1v1h-1zM116 392h1v1h-1zM140 392h1v1h-1zM144 392h1v1h-1zM164 392h1v1h-1zM167 392h1v1h-1zM204 392h1v1h-1zM210 392h1v1h-1zM212 392h2v1h-2zM95 393h1v1h-1zM97 393h1v1h-1zM100 393h1v1h-1zM102 393h2v1h-2zM105 393h1v1h-1zM107 393h3v1h-3zM112 393h1v1h-1zM115 393h1v1h-1zM140 393h1v1h-1zM142 393h1v1h-1zM144 393h1v1h-1zM164 393h1v1h-1zM167 393h1v1h-1zM195 393h1v1h-1zM203 393h2v1h-2zM210 393h3v1h-3zM215 393h1v1h-1zM229 393h1v1h-1zM91 394h3v1h-3zM112 394h1v1h-1zM144 394h1v1h-1zM164 394h1v1h-1zM167 394h1v1h-1zM204 394h1v1h-1zM208 394h3v1h-3zM212 394h1v1h-1zM74 395h3v1h-3zM97 395h1v1h-1zM112 395h1v1h-1zM144 395h1v1h-1zM164 395h1v1h-1zM167 395h1v1h-1zM192 395h1v1h-1zM200 395h1v1h-1zM202 395h1v1h-1zM210 395h1v1h-1zM212 395h1v1h-1zM77 396h1v1h-1zM91 396h1v1h-1zM102 396h2v1h-2zM112 396h1v1h-1zM131 396h1v1h-1zM144 396h1v1h-1zM167 396h1v1h-1zM188 396h1v1h-1zM192 396h1v1h-1zM199 396h1v1h-1zM212 396h1v1h-1zM216 396h1v1h-1zM62 397h13v1h-13zM112 397h1v1h-1zM127 397h2v1h-2zM131 397h1v1h-1zM144 397h1v1h-1zM164 397h1v1h-1zM167 397h1v1h-1zM210 397h2v1h-2zM215 397h1v1h-1zM217 397h1v1h-1zM223 397h1v1h-1zM226 397h1v1h-1zM90 398h1v1h-1zM102 398h1v1h-1zM108 398h1v1h-1zM116 398h1v1h-1zM128 398h1v1h-1zM131 398h1v1h-1zM137 398h1v1h-1zM144 398h1v1h-1zM164 398h1v1h-1zM167 398h1v1h-1zM192 398h1v1h-1zM212 398h1v1h-1zM216 398h3v1h-3zM222 398h1v1h-1zM224 398h1v1h-1zM95 399h1v1h-1zM107 399h1v1h-1zM112 399h1v1h-1zM131 399h1v1h-1zM144 399h1v1h-1zM164 399h1v1h-1zM167 399h1v1h-1zM172 399h1v1h-1zM215 399h1v1h-1zM217 399h1v1h-1zM221 399h5v1h-5zM228 399h2v1h-2zM89 400h1v1h-1zM107 400h2v1h-2zM112 400h2v1h-2zM131 400h1v1h-1zM144 400h1v1h-1zM165 400h2v1h-2zM192 400h1v1h-1zM212 400h1v1h-1zM216 400h3v1h-3zM222 400h1v1h-1zM225 400h1v1h-1zM92 401h1v1h-1zM96 401h1v1h-1zM101 401h1v1h-1zM108 401h1v1h-1zM112 401h2v1h-2zM131 401h1v1h-1zM144 401h1v1h-1zM188 401h1v1h-1zM215 401h1v1h-1zM223 401h2v1h-2zM226 401h1v1h-1zM90 402h1v1h-1zM95 402h1v1h-1zM100 402h1v1h-1zM105 402h1v1h-1zM107 402h1v1h-1zM113 402h2v1h-2zM140 402h1v1h-1zM143 402h1v1h-1zM145 402h1v1h-1zM187 402h1v1h-1zM212 402h1v1h-1zM86 403h1v1h-1zM90 403h2v1h-2zM94 403h1v1h-1zM107 403h1v1h-1zM112 403h1v1h-1zM140 403h1v1h-1zM145 403h1v1h-1zM212 403h1v1h-1zM223 403h1v1h-1zM85 404h1v1h-1zM89 404h1v1h-1zM94 404h1v1h-1zM131 404h1v1h-1zM140 404h1v1h-1zM143 404h1v1h-1zM145 404h1v1h-1zM147 404h1v1h-1zM171 404h1v1h-1zM190 404h1v1h-1zM212 404h1v1h-1zM233 404h2v1h-2zM85 405h1v1h-1zM87 405h2v1h-2zM94 405h1v1h-1zM131 405h1v1h-1zM140 405h1v1h-1zM143 405h1v1h-1zM145 405h1v1h-1zM172 405h1v1h-1zM212 405h1v1h-1zM225 405h1v1h-1zM227 405h2v1h-2zM231 405h1v1h-1zM233 405h1v1h-1zM62 406h9v1h-9zM84 406h1v1h-1zM86 406h1v1h-1zM91 406h1v1h-1zM94 406h1v1h-1zM120 406h1v1h-1zM132 406h1v1h-1zM140 406h1v1h-1zM143 406h1v1h-1zM145 406h1v1h-1zM205 406h1v1h-1zM226 406h2v1h-2zM232 406h1v1h-1zM72 407h9v1h-9zM84 407h1v1h-1zM86 407h1v1h-1zM91 407h1v1h-1zM94 407h1v1h-1zM108 407h1v1h-1zM131 407h1v1h-1zM140 407h1v1h-1zM143 407h1v1h-1zM145 407h1v1h-1zM171 407h1v1h-1zM185 407h1v1h-1zM187 407h1v1h-1zM222 407h2v1h-2zM225 407h2v1h-2zM72 408h9v1h-9zM84 408h1v1h-1zM87 408h2v1h-2zM90 408h1v1h-1zM106 408h2v1h-2zM114 408h1v1h-1zM140 408h1v1h-1zM143 408h1v1h-1zM145 408h1v1h-1zM165 408h1v1h-1zM171 408h1v1h-1zM224 408h1v1h-1zM227 408h2v1h-2z"/><path fill="#0025ff" d="M76 270h6v1h-6zM83 270h1v1h-1zM63 271h1v1h-1zM76 271h6v1h-6zM83 271h1v1h-1zM76 272h6v1h-6zM83 272h1v1h-1zM65 273h1v1h-1zM76 273h6v1h-6zM83 273h1v1h-1zM65 274h1v1h-1zM76 274h6v1h-6zM83 274h1v1h-1zM65 275h4v1h-4zM76 275h6v1h-6zM83 275h1v1h-1zM62 276h1v1h-1zM69 276h1v1h-1zM76 276h6v1h-6zM83 276h1v1h-1zM62 277h1v1h-1zM70 277h1v1h-1zM76 277h6v1h-6zM83 277h1v1h-1zM62 278h1v1h-1zM71 278h1v1h-1zM76 278h6v1h-6zM83 278h1v1h-1zM62 279h1v1h-1zM67 279h1v1h-1zM71 279h1v1h-1zM76 279h5v1h-5zM84 280h1v1h-1zM85 281h1v1h-1zM85 282h1v1h-1zM85 283h1v1h-1zM85 292h1v1h-1zM85 293h1v1h-1zM70 295h7v1h-7zM92 295h1v1h-1zM74 296h5v1h-5zM116 296h1v1h-1zM99 297h1v1h-1zM129 297h1v1h-1zM134 297h1v1h-1zM92 298h1v1h-1zM94 298h1v1h-1zM110 298h1v1h-1zM123 298h1v1h-1zM92 299h1v1h-1zM94 299h1v1h-1zM116 299h1v1h-1zM126 299h2v1h-2zM132 299h1v1h-1zM92 300h1v1h-1zM94 300h1v1h-1zM101 300h1v1h-1zM105 300h1v1h-1zM92 301h1v1h-1zM94 301h1v1h-1zM100 301h1v1h-1zM103 301h2v1h-2zM111 301h1v1h-1zM120 301h1v1h-1zM92 302h1v1h-1zM94 302h1v1h-1zM138 302h1v1h-1zM92 303h1v1h-1zM94 303h1v1h-1zM101 303h1v1h-1zM103 303h1v1h-1zM127 303h1v1h-1zM92 304h1v1h-1zM94 304h1v1h-1zM113 304h1v1h-1zM126 304h1v1h-1zM134 304h1v1h-1zM92 305h1v1h-1zM94 305h1v1h-1zM62 306h9v1h-9zM92 306h1v1h-1zM94 306h1v1h-1zM99 306h1v1h-1zM114 306h1v1h-1zM136 306h1v1h-1zM62 307h11v1h-11zM92 307h1v1h-1zM94 307h1v1h-1zM96 307h1v1h-1zM99 307h1v1h-1zM122 307h1v1h-1zM138 307h1v1h-1zM92 308h1v1h-1zM94 308h1v1h-1zM97 308h1v1h-1zM102 308h1v1h-1zM130 308h1v1h-1zM133 308h1v1h-1zM92 309h1v1h-1zM94 309h1v1h-1zM100 309h1v1h-1zM111 309h1v1h-1zM115 309h1v1h-1zM120 309h1v1h-1zM123 309h1v1h-1zM127 309h1v1h-1zM92 310h1v1h-1zM94 310h1v1h-1zM129 310h1v1h-1zM132 310h1v1h-1zM138 310h2v1h-2zM92 311h1v1h-1zM94 311h1v1h-1zM99 311h1v1h-1zM102 311h1v1h-1zM129 311h1v1h-1zM92 312h1v1h-1zM107 312h1v1h-1zM116 312h1v1h-1zM132 312h1v1h-1zM138 312h1v1h-1zM92 313h1v1h-1zM119 313h1v1h-1zM130 313h1v1h-1zM62 314h13v1h-13zM92 314h1v1h-1zM110 314h1v1h-1zM119 314h1v1h-1zM133 314h1v1h-1zM70 315h7v1h-7zM92 315h1v1h-1zM106 315h1v1h-1zM114 315h1v1h-1zM124 315h1v1h-1zM133 315h1v1h-1zM92 316h1v1h-1zM126 316h1v1h-1zM137 316h1v1h-1zM92 317h1v1h-1zM107 317h2v1h-2zM113 317h2v1h-2zM129 317h1v1h-1zM133 317h1v1h-1zM71 318h6v1h-6zM92 318h1v1h-1zM97 318h1v1h-1zM113 318h1v1h-1zM119 318h2v1h-2zM126 318h1v1h-1zM128 318h3v1h-3zM136 318h1v1h-1zM138 318h1v1h-1zM79 319h2v1h-2zM115 319h1v1h-1zM79 320h2v1h-2zM96 320h1v1h-1zM123 320h1v1h-1zM127 320h1v1h-1zM131 320h1v1h-1zM79 321h2v1h-2zM125 321h1v1h-1zM79 322h2v1h-2zM92 322h1v1h-1zM121 322h1v1h-1zM123 322h1v1h-1zM129 322h2v1h-2zM133 322h1v1h-1zM79 323h2v1h-2zM92 323h1v1h-1zM97 323h1v1h-1zM100 323h1v1h-1zM103 323h1v1h-1zM105 323h1v1h-1zM108 323h1v1h-1zM129 323h1v1h-1zM78 324h3v1h-3zM110 324h2v1h-2zM128 324h1v1h-1zM134 324h1v1h-1zM138 324h1v1h-1zM62 325h12v1h-12zM97 325h1v1h-1zM121 325h1v1h-1zM137 325h1v1h-1zM92 326h1v1h-1zM108 326h1v1h-1zM92 327h1v1h-1zM112 327h1v1h-1zM121 327h1v1h-1zM102 328h1v1h-1zM108 328h1v1h-1zM130 328h1v1h-1zM133 328h1v1h-1zM91 329h1v1h-1zM111 329h1v1h-1zM122 329h1v1h-1zM135 329h1v1h-1zM94 330h2v1h-2zM103 330h1v1h-1zM109 330h1v1h-1zM111 330h1v1h-1zM114 330h1v1h-1zM122 330h1v1h-1zM78 333h4v1h-4zM87 333h3v1h-3zM92 333h1v1h-1zM94 333h1v1h-1zM125 333h1v1h-1zM138 333h1v1h-1zM140 333h1v1h-1zM142 333h1v1h-1zM82 334h1v1h-1zM86 334h1v1h-1zM92 334h1v1h-1zM138 334h1v1h-1zM82 335h1v1h-1zM85 335h1v1h-1zM90 335h1v1h-1zM93 335h3v1h-3zM100 335h5v1h-5zM107 335h6v1h-6zM124 335h2v1h-2zM128 335h2v1h-2zM134 335h1v1h-1zM136 335h1v1h-1zM142 335h3v1h-3zM76 336h4v1h-4zM85 336h1v1h-1zM89 336h1v1h-1zM140 336h1v1h-1zM144 336h1v1h-1zM87 337h2v1h-2zM140 337h1v1h-1zM144 337h1v1h-1zM234 337h1v1h-1zM140 338h1v1h-1zM144 338h1v1h-1zM76 339h4v1h-4zM140 339h1v1h-1zM144 339h1v1h-1zM80 340h1v1h-1zM140 340h1v1h-1zM144 340h1v1h-1zM159 340h1v1h-1zM162 340h2v1h-2zM165 340h1v1h-1zM140 341h1v1h-1zM144 341h1v1h-1zM149 341h1v1h-1zM152 341h2v1h-2zM163 341h1v1h-1zM138 342h1v1h-1zM140 342h1v1h-1zM155 342h1v1h-1zM158 342h1v1h-1zM162 342h2v1h-2zM138 343h1v1h-1zM152 343h2v1h-2zM158 343h2v1h-2zM162 343h2v1h-2zM138 344h1v1h-1zM159 344h1v1h-1zM163 344h1v1h-1zM138 345h1v1h-1zM148 345h1v1h-1zM150 345h1v1h-1zM138 346h1v1h-1zM148 346h1v1h-1zM154 346h1v1h-1zM159 346h2v1h-2zM138 347h1v1h-1zM153 347h4v1h-4zM159 347h3v1h-3zM163 347h1v1h-1zM167 347h1v1h-1zM138 348h1v1h-1zM151 348h3v1h-3zM157 348h2v1h-2zM161 348h1v1h-1zM163 348h1v1h-1zM173 348h1v1h-1zM80 349h1v1h-1zM138 349h1v1h-1zM144 349h1v1h-1zM138 350h1v1h-1zM144 350h1v1h-1zM151 350h1v1h-1zM158 350h1v1h-1zM160 350h2v1h-2zM163 350h2v1h-2zM81 351h1v1h-1zM83 351h2v1h-2zM108 351h1v1h-1zM137 351h1v1h-1zM144 351h1v1h-1zM152 351h2v1h-2zM160 351h2v1h-2zM163 351h3v1h-3zM62 352h14v1h-14zM84 352h1v1h-1zM143 352h1v1h-1zM165 353h1v1h-1zM88 354h1v1h-1zM95 354h1v1h-1zM97 354h1v1h-1zM111 354h1v1h-1zM131 354h1v1h-1zM140 354h1v1h-1zM144 354h1v1h-1zM156 354h1v1h-1zM88 355h2v1h-2zM138 355h1v1h-1zM140 355h1v1h-1zM144 355h1v1h-1zM149 355h1v1h-1zM153 355h1v1h-1zM84 356h2v1h-2zM88 356h1v1h-1zM140 356h1v1h-1zM144 356h1v1h-1zM74 357h5v1h-5zM89 357h1v1h-1zM94 357h1v1h-1zM140 357h1v1h-1zM144 357h1v1h-1zM81 358h1v1h-1zM83 358h1v1h-1zM140 358h1v1h-1zM144 358h1v1h-1zM76 359h6v1h-6zM83 359h1v1h-1zM89 359h1v1h-1zM91 359h1v1h-1zM140 359h1v1h-1zM144 359h1v1h-1zM85 360h1v1h-1zM88 360h1v1h-1zM90 360h1v1h-1zM144 360h1v1h-1zM76 361h6v1h-6zM92 361h1v1h-1zM94 361h1v1h-1zM138 361h1v1h-1zM144 361h1v1h-1zM81 362h1v1h-1zM85 362h1v1h-1zM87 362h1v1h-1zM144 362h1v1h-1zM76 363h6v1h-6zM92 363h1v1h-1zM144 363h1v1h-1zM87 364h2v1h-2zM90 364h1v1h-1zM144 364h1v1h-1zM76 365h6v1h-6zM83 365h2v1h-2zM87 365h1v1h-1zM89 365h1v1h-1zM91 365h1v1h-1zM144 365h1v1h-1zM81 366h1v1h-1zM83 366h2v1h-2zM81 367h1v1h-1zM83 367h1v1h-1zM86 367h2v1h-2zM73 368h5v1h-5zM88 368h1v1h-1zM90 368h1v1h-1zM84 369h2v1h-2zM91 369h1v1h-1zM148 369h7v1h-7zM156 369h3v1h-3zM162 369h4v1h-4zM90 370h1v1h-1zM92 370h1v1h-1zM148 370h7v1h-7zM156 370h3v1h-3zM161 370h5v1h-5zM185 370h1v1h-1zM71 371h6v1h-6zM89 371h1v1h-1zM188 371h2v1h-2zM78 372h4v1h-4zM85 372h1v1h-1zM93 372h1v1h-1zM140 372h1v1h-1zM144 372h1v1h-1zM185 372h1v1h-1zM234 372h1v1h-1zM62 373h12v1h-12zM85 373h1v1h-1zM89 373h1v1h-1zM91 373h1v1h-1zM94 373h1v1h-1zM138 373h1v1h-1zM140 373h1v1h-1zM144 373h1v1h-1zM88 374h1v1h-1zM94 374h1v1h-1zM140 374h1v1h-1zM144 374h1v1h-1zM88 375h1v1h-1zM94 375h1v1h-1zM140 375h1v1h-1zM144 375h1v1h-1zM148 375h2v1h-2zM151 375h8v1h-8zM161 375h2v1h-2zM164 375h2v1h-2zM86 376h1v1h-1zM92 376h1v1h-1zM94 376h1v1h-1zM109 376h1v1h-1zM114 376h2v1h-2zM124 376h1v1h-1zM138 376h1v1h-1zM140 376h1v1h-1zM144 376h1v1h-1zM148 376h2v1h-2zM151 376h8v1h-8zM161 376h5v1h-5zM195 376h1v1h-1zM88 377h2v1h-2zM123 377h2v1h-2zM138 377h1v1h-1zM140 377h1v1h-1zM144 377h1v1h-1zM188 377h1v1h-1zM190 377h1v1h-1zM62 378h14v1h-14zM84 378h2v1h-2zM87 378h1v1h-1zM94 378h1v1h-1zM102 378h1v1h-1zM117 378h1v1h-1zM123 378h1v1h-1zM137 378h2v1h-2zM144 378h1v1h-1zM188 378h1v1h-1zM192 378h1v1h-1zM194 378h1v1h-1zM80 379h2v1h-2zM83 379h2v1h-2zM88 379h1v1h-1zM94 379h1v1h-1zM96 379h1v1h-1zM98 379h1v1h-1zM107 379h1v1h-1zM111 379h1v1h-1zM118 379h2v1h-2zM126 379h1v1h-1zM138 379h1v1h-1zM144 379h1v1h-1zM191 379h2v1h-2zM78 380h4v1h-4zM84 380h1v1h-1zM94 380h1v1h-1zM111 380h1v1h-1zM138 380h1v1h-1zM144 380h1v1h-1zM62 381h15v1h-15zM94 381h1v1h-1zM111 381h1v1h-1zM114 381h1v1h-1zM123 381h1v1h-1zM127 381h2v1h-2zM138 381h1v1h-1zM144 381h1v1h-1zM190 381h1v1h-1zM85 382h1v1h-1zM91 382h1v1h-1zM94 382h1v1h-1zM111 382h1v1h-1zM138 382h1v1h-1zM144 382h1v1h-1zM88 383h1v1h-1zM94 383h1v1h-1zM111 383h1v1h-1zM120 383h1v1h-1zM132 383h1v1h-1zM144 383h1v1h-1zM80 384h2v1h-2zM94 384h1v1h-1zM100 384h1v1h-1zM111 384h1v1h-1zM138 384h1v1h-1zM144 384h1v1h-1zM196 384h1v1h-1zM201 384h3v1h-3zM75 385h5v1h-5zM90 385h1v1h-1zM92 385h1v1h-1zM94 385h1v1h-1zM107 385h1v1h-1zM111 385h1v1h-1zM132 385h1v1h-1zM138 385h1v1h-1zM144 385h1v1h-1zM93 386h2v1h-2zM111 386h1v1h-1zM135 386h1v1h-1zM138 386h1v1h-1zM140 386h1v1h-1zM144 386h1v1h-1zM194 386h1v1h-1zM89 387h2v1h-2zM93 387h2v1h-2zM111 387h1v1h-1zM137 387h2v1h-2zM144 387h1v1h-1zM194 387h1v1h-1zM203 387h3v1h-3zM90 388h2v1h-2zM93 388h1v1h-1zM128 388h1v1h-1zM133 388h1v1h-1zM135 388h1v1h-1zM138 388h1v1h-1zM144 388h1v1h-1zM194 388h1v1h-1zM204 388h2v1h-2zM91 389h1v1h-1zM122 389h1v1h-1zM128 389h1v1h-1zM138 389h1v1h-1zM144 389h1v1h-1zM205 389h1v1h-1zM209 389h1v1h-1zM90 390h1v1h-1zM94 390h1v1h-1zM133 390h1v1h-1zM90 391h2v1h-2zM93 391h4v1h-4zM98 391h2v1h-2zM104 391h1v1h-1zM106 391h1v1h-1zM113 391h1v1h-1zM115 391h1v1h-1zM138 391h1v1h-1zM164 391h1v1h-1zM194 391h1v1h-1zM210 391h1v1h-1zM93 392h4v1h-4zM98 392h2v1h-2zM104 392h1v1h-1zM106 392h1v1h-1zM113 392h1v1h-1zM115 392h1v1h-1zM117 392h1v1h-1zM137 392h2v1h-2zM203 392h1v1h-1zM211 392h1v1h-1zM215 392h1v1h-1zM93 393h2v1h-2zM101 393h1v1h-1zM138 393h1v1h-1zM213 393h1v1h-1zM90 394h1v1h-1zM94 394h1v1h-1zM138 394h1v1h-1zM140 394h1v1h-1zM193 394h1v1h-1zM77 395h1v1h-1zM90 395h2v1h-2zM94 395h1v1h-1zM98 395h1v1h-1zM118 395h1v1h-1zM138 395h1v1h-1zM140 395h1v1h-1zM194 395h1v1h-1zM90 396h1v1h-1zM94 396h1v1h-1zM105 396h1v1h-1zM140 396h1v1h-1zM164 396h1v1h-1zM210 396h1v1h-1zM217 396h1v1h-1zM75 397h3v1h-3zM94 397h1v1h-1zM102 397h2v1h-2zM110 397h1v1h-1zM140 397h1v1h-1zM212 397h1v1h-1zM216 397h1v1h-1zM94 398h1v1h-1zM110 398h1v1h-1zM124 398h1v1h-1zM127 398h1v1h-1zM140 398h1v1h-1zM214 398h1v1h-1zM223 398h1v1h-1zM94 399h1v1h-1zM108 399h1v1h-1zM110 399h1v1h-1zM140 399h1v1h-1zM192 399h1v1h-1zM212 399h1v1h-1zM218 399h1v1h-1zM62 400h9v1h-9zM94 400h3v1h-3zM106 400h1v1h-1zM110 400h1v1h-1zM114 400h1v1h-1zM140 400h1v1h-1zM194 400h1v1h-1zM215 400h1v1h-1zM223 400h2v1h-2zM62 401h12v1h-12zM88 401h1v1h-1zM94 401h2v1h-2zM100 401h1v1h-1zM106 401h2v1h-2zM110 401h1v1h-1zM114 401h1v1h-1zM138 401h1v1h-1zM140 401h1v1h-1zM193 401h2v1h-2zM213 401h1v1h-1zM87 402h1v1h-1zM94 402h1v1h-1zM101 402h1v1h-1zM104 402h1v1h-1zM106 402h1v1h-1zM110 402h2v1h-2zM138 402h1v1h-1zM144 402h1v1h-1zM226 402h1v1h-1zM85 403h1v1h-1zM106 403h1v1h-1zM110 403h2v1h-2zM113 403h1v1h-1zM138 403h1v1h-1zM143 403h2v1h-2zM110 404h2v1h-2zM138 404h1v1h-1zM144 404h1v1h-1zM172 404h1v1h-1zM90 405h1v1h-1zM110 405h2v1h-2zM138 405h1v1h-1zM144 405h1v1h-1zM213 405h2v1h-2zM226 405h1v1h-1zM229 405h1v1h-1zM232 405h1v1h-1zM71 406h6v1h-6zM110 406h2v1h-2zM138 406h1v1h-1zM144 406h1v1h-1zM221 406h2v1h-2zM225 406h1v1h-1zM231 406h1v1h-1zM81 407h1v1h-1zM83 407h1v1h-1zM89 407h1v1h-1zM106 407h2v1h-2zM110 407h2v1h-2zM129 407h2v1h-2zM132 407h1v1h-1zM138 407h1v1h-1zM144 407h1v1h-1zM186 407h1v1h-1zM227 407h1v1h-1zM81 408h1v1h-1zM83 408h1v1h-1zM94 408h1v1h-1zM138 408h1v1h-1zM144 408h1v1h-1z"/><path fill="#0045ff" d="M82 270h1v1h-1zM82 271h1v1h-1zM62 272h1v1h-1zM64 272h1v1h-1zM82 272h1v1h-1zM82 273h1v1h-1zM82 274h1v1h-1zM62 275h1v1h-1zM64 275h1v1h-1zM82 275h1v1h-1zM63 276h2v1h-2zM82 276h1v1h-1zM69 277h1v1h-1zM82 277h1v1h-1zM82 278h1v1h-1zM66 279h1v1h-1zM68 279h1v1h-1zM81 279h3v1h-3zM85 284h1v1h-1zM85 285h1v1h-1zM85 286h1v1h-1zM85 287h1v1h-1zM85 290h1v1h-1zM85 291h1v1h-1zM86 294h6v1h-6zM77 295h4v1h-4zM79 296h2v1h-2zM98 296h1v1h-1zM98 297h1v1h-1zM100 302h2v1h-2zM109 302h1v1h-1zM109 303h1v1h-1zM109 304h1v1h-1zM114 305h1v1h-1zM71 306h6v1h-6zM73 307h5v1h-5zM106 308h2v1h-2zM99 309h1v1h-1zM102 309h1v1h-1zM108 309h1v1h-1zM128 309h1v1h-1zM102 310h1v1h-1zM108 310h1v1h-1zM107 311h1v1h-1zM75 314h4v1h-4zM134 314h1v1h-1zM77 315h4v1h-4zM134 315h1v1h-1zM133 316h1v1h-1zM77 318h4v1h-4zM100 318h1v1h-1zM105 318h1v1h-1zM108 318h1v1h-1zM96 321h1v1h-1zM109 321h1v1h-1zM131 321h1v1h-1zM124 322h1v1h-1zM104 323h1v1h-1zM134 323h1v1h-1zM92 324h1v1h-1zM74 325h5v1h-5zM92 325h1v1h-1zM102 325h1v1h-1zM102 326h1v1h-1zM121 326h1v1h-1zM62 329h12v1h-12zM90 330h1v1h-1zM96 330h1v1h-1zM104 330h1v1h-1zM107 330h1v1h-1zM123 330h1v1h-1zM82 333h2v1h-2zM90 333h1v1h-1zM83 334h1v1h-1zM88 334h1v1h-1zM83 335h1v1h-1zM91 335h1v1h-1zM138 335h1v1h-1zM140 335h1v1h-1zM80 336h4v1h-4zM94 336h1v1h-1zM85 337h1v1h-1zM94 337h1v1h-1zM87 338h1v1h-1zM94 338h1v1h-1zM80 339h1v1h-1zM84 339h1v1h-1zM88 339h2v1h-2zM94 339h1v1h-1zM94 340h1v1h-1zM149 340h1v1h-1zM158 340h1v1h-1zM164 340h1v1h-1zM80 341h1v1h-1zM94 341h1v1h-1zM157 341h1v1h-1zM159 341h1v1h-1zM162 341h1v1h-1zM164 341h1v1h-1zM80 342h1v1h-1zM94 342h1v1h-1zM157 342h1v1h-1zM80 343h1v1h-1zM94 343h1v1h-1zM160 343h1v1h-1zM80 344h1v1h-1zM94 344h1v1h-1zM154 344h1v1h-1zM160 344h1v1h-1zM80 345h1v1h-1zM94 345h1v1h-1zM154 345h2v1h-2zM160 345h1v1h-1zM80 346h1v1h-1zM94 346h1v1h-1zM155 346h1v1h-1zM80 347h1v1h-1zM94 347h1v1h-1zM151 347h2v1h-2zM157 347h2v1h-2zM162 347h1v1h-1zM80 348h1v1h-1zM94 348h1v1h-1zM162 348h1v1h-1zM94 349h1v1h-1zM153 349h1v1h-1zM84 350h1v1h-1zM94 350h1v1h-1zM153 350h2v1h-2zM82 351h1v1h-1zM138 351h1v1h-1zM151 351h1v1h-1zM155 351h1v1h-1zM162 351h1v1h-1zM76 352h4v1h-4zM83 352h1v1h-1zM85 352h1v1h-1zM144 352h7v1h-7zM152 352h2v1h-2zM157 352h3v1h-3zM163 352h3v1h-3zM85 353h1v1h-1zM143 353h6v1h-6zM150 353h2v1h-2zM153 353h3v1h-3zM157 353h1v1h-1zM159 353h2v1h-2zM162 353h1v1h-1zM164 353h1v1h-1zM87 354h1v1h-1zM89 354h1v1h-1zM138 354h1v1h-1zM149 354h1v1h-1zM94 355h1v1h-1zM62 356h10v1h-10zM94 356h1v1h-1zM79 357h5v1h-5zM91 357h1v1h-1zM82 358h1v1h-1zM88 358h1v1h-1zM82 359h1v1h-1zM84 359h2v1h-2zM88 359h1v1h-1zM90 359h1v1h-1zM62 360h22v1h-22zM89 360h1v1h-1zM82 361h3v1h-3zM82 362h2v1h-2zM92 362h1v1h-1zM82 363h2v1h-2zM85 363h1v1h-1zM88 363h1v1h-1zM90 363h2v1h-2zM62 364h22v1h-22zM92 364h1v1h-1zM82 365h1v1h-1zM85 365h1v1h-1zM88 365h1v1h-1zM90 365h1v1h-1zM82 366h1v1h-1zM88 366h3v1h-3zM82 367h1v1h-1zM78 368h6v1h-6zM92 369h1v1h-1zM155 369h1v1h-1zM159 369h3v1h-3zM84 370h1v1h-1zM88 370h2v1h-2zM91 370h1v1h-1zM155 370h1v1h-1zM159 370h2v1h-2zM77 371h4v1h-4zM83 371h2v1h-2zM88 371h1v1h-1zM91 371h1v1h-1zM185 371h1v1h-1zM82 372h2v1h-2zM88 372h2v1h-2zM74 373h5v1h-5zM83 373h2v1h-2zM88 373h1v1h-1zM95 374h43v1h-43zM85 375h1v1h-1zM95 375h8v1h-8zM104 375h6v1h-6zM112 375h2v1h-2zM115 375h8v1h-8zM124 375h4v1h-4zM131 375h7v1h-7zM150 375h1v1h-1zM159 375h2v1h-2zM163 375h1v1h-1zM103 376h1v1h-1zM111 376h1v1h-1zM123 376h1v1h-1zM128 376h1v1h-1zM130 376h1v1h-1zM150 376h1v1h-1zM159 376h2v1h-2zM85 377h1v1h-1zM110 377h2v1h-2zM129 377h2v1h-2zM191 377h3v1h-3zM76 378h4v1h-4zM83 378h1v1h-1zM89 378h1v1h-1zM91 378h1v1h-1zM110 378h2v1h-2zM129 378h2v1h-2zM193 378h1v1h-1zM82 379h1v1h-1zM87 379h1v1h-1zM91 379h1v1h-1zM110 379h1v1h-1zM129 379h1v1h-1zM131 379h1v1h-1zM193 379h2v1h-2zM82 380h2v1h-2zM110 380h1v1h-1zM128 380h1v1h-1zM130 380h1v1h-1zM192 380h3v1h-3zM77 381h5v1h-5zM83 381h3v1h-3zM88 381h1v1h-1zM91 381h1v1h-1zM110 381h1v1h-1zM129 381h2v1h-2zM193 381h2v1h-2zM62 382h19v1h-19zM90 382h1v1h-1zM92 382h1v1h-1zM110 382h1v1h-1zM129 382h2v1h-2zM193 382h2v1h-2zM62 383h18v1h-18zM81 383h4v1h-4zM110 383h1v1h-1zM129 383h2v1h-2zM193 383h2v1h-2zM82 384h1v1h-1zM88 384h1v1h-1zM92 384h1v1h-1zM110 384h1v1h-1zM129 384h2v1h-2zM193 384h1v1h-1zM195 384h1v1h-1zM80 385h1v1h-1zM87 385h1v1h-1zM91 385h1v1h-1zM95 385h1v1h-1zM110 385h1v1h-1zM129 385h2v1h-2zM165 385h1v1h-1zM193 385h2v1h-2zM88 386h1v1h-1zM90 386h2v1h-2zM95 386h1v1h-1zM110 386h1v1h-1zM129 386h2v1h-2zM193 386h1v1h-1zM110 387h1v1h-1zM129 387h2v1h-2zM193 387h1v1h-1zM110 388h2v1h-2zM130 388h1v1h-1zM193 388h1v1h-1zM92 389h1v1h-1zM110 389h2v1h-2zM129 389h2v1h-2zM193 389h2v1h-2zM110 390h2v1h-2zM129 390h2v1h-2zM138 390h1v1h-1zM193 390h2v1h-2zM97 391h1v1h-1zM100 391h4v1h-4zM105 391h1v1h-1zM107 391h6v1h-6zM114 391h1v1h-1zM129 391h2v1h-2zM193 391h1v1h-1zM90 392h1v1h-1zM97 392h1v1h-1zM100 392h4v1h-4zM105 392h1v1h-1zM107 392h6v1h-6zM114 392h1v1h-1zM129 392h2v1h-2zM193 392h2v1h-2zM214 392h1v1h-1zM91 393h1v1h-1zM110 393h2v1h-2zM129 393h2v1h-2zM193 393h2v1h-2zM214 393h1v1h-1zM62 394h10v1h-10zM110 394h2v1h-2zM129 394h2v1h-2zM194 394h1v1h-1zM213 394h2v1h-2zM110 395h1v1h-1zM129 395h2v1h-2zM193 395h1v1h-1zM213 395h2v1h-2zM110 396h2v1h-2zM129 396h2v1h-2zM138 396h1v1h-1zM193 396h2v1h-2zM213 396h2v1h-2zM90 397h1v1h-1zM111 397h1v1h-1zM129 397h2v1h-2zM138 397h1v1h-1zM193 397h2v1h-2zM213 397h2v1h-2zM89 398h1v1h-1zM111 398h1v1h-1zM129 398h2v1h-2zM193 398h2v1h-2zM213 398h1v1h-1zM89 399h1v1h-1zM111 399h1v1h-1zM129 399h1v1h-1zM138 399h1v1h-1zM193 399h2v1h-2zM213 399h2v1h-2zM71 400h6v1h-6zM111 400h1v1h-1zM129 400h2v1h-2zM138 400h1v1h-1zM193 400h1v1h-1zM213 400h2v1h-2zM74 401h5v1h-5zM91 401h1v1h-1zM111 401h1v1h-1zM129 401h2v1h-2zM214 401h1v1h-1zM91 402h1v1h-1zM129 402h2v1h-2zM213 402h2v1h-2zM129 403h2v1h-2zM213 403h2v1h-2zM84 404h1v1h-1zM90 404h1v1h-1zM129 404h2v1h-2zM213 404h2v1h-2zM84 405h1v1h-1zM129 405h2v1h-2zM77 406h4v1h-4zM83 406h1v1h-1zM88 406h1v1h-1zM129 406h1v1h-1zM131 406h1v1h-1zM82 407h1v1h-1zM82 408h1v1h-1zM225 408h2v1h-2z"/><path fill="#0000c1" d="M92 270h2v1h-2zM95 270h1v1h-1zM98 270h1v1h-1zM100 270h3v1h-3zM105 270h3v1h-3zM109 270h2v1h-2zM114 270h1v1h-1zM116 270h9v1h-9zM126 270h2v1h-2zM130 270h1v1h-1zM148 270h2v1h-2zM151 270h1v1h-1zM157 270h1v1h-1zM174 270h1v1h-1zM177 270h3v1h-3zM182 270h1v1h-1zM187 270h2v1h-2zM193 270h3v1h-3zM201 270h2v1h-2zM207 270h2v1h-2zM211 270h5v1h-5zM225 270h2v1h-2zM228 270h1v1h-1zM230 270h2v1h-2zM92 271h2v1h-2zM95 271h1v1h-1zM98 271h1v1h-1zM100 271h3v1h-3zM105 271h3v1h-3zM109 271h2v1h-2zM114 271h1v1h-1zM116 271h9v1h-9zM126 271h2v1h-2zM148 271h2v1h-2zM157 271h1v1h-1zM174 271h1v1h-1zM177 271h3v1h-3zM182 271h1v1h-1zM187 271h2v1h-2zM193 271h3v1h-3zM201 271h2v1h-2zM207 271h2v1h-2zM211 271h5v1h-5zM220 271h1v1h-1zM226 271h1v1h-1zM228 271h1v1h-1zM92 272h2v1h-2zM95 272h1v1h-1zM98 272h1v1h-1zM100 272h2v1h-2zM105 272h3v1h-3zM109 272h2v1h-2zM114 272h1v1h-1zM119 272h6v1h-6zM149 272h1v1h-1zM151 272h1v1h-1zM157 272h1v1h-1zM174 272h1v1h-1zM178 272h1v1h-1zM182 272h1v1h-1zM187 272h2v1h-2zM193 272h3v1h-3zM201 272h2v1h-2zM207 272h2v1h-2zM211 272h5v1h-5zM220 272h1v1h-1zM228 272h1v1h-1zM92 273h2v1h-2zM95 273h1v1h-1zM98 273h1v1h-1zM100 273h2v1h-2zM105 273h3v1h-3zM109 273h1v1h-1zM114 273h1v1h-1zM119 273h6v1h-6zM126 273h2v1h-2zM133 273h1v1h-1zM148 273h4v1h-4zM157 273h1v1h-1zM174 273h1v1h-1zM182 273h1v1h-1zM187 273h2v1h-2zM193 273h3v1h-3zM201 273h2v1h-2zM207 273h2v1h-2zM211 273h5v1h-5zM226 273h1v1h-1zM228 273h1v1h-1zM92 274h2v1h-2zM95 274h1v1h-1zM98 274h1v1h-1zM100 274h2v1h-2zM105 274h1v1h-1zM109 274h1v1h-1zM114 274h1v1h-1zM119 274h4v1h-4zM126 274h2v1h-2zM130 274h1v1h-1zM133 274h1v1h-1zM148 274h4v1h-4zM157 274h1v1h-1zM174 274h1v1h-1zM178 274h1v1h-1zM182 274h1v1h-1zM187 274h2v1h-2zM193 274h3v1h-3zM201 274h2v1h-2zM207 274h2v1h-2zM211 274h5v1h-5zM220 274h1v1h-1zM225 274h2v1h-2zM228 274h1v1h-1zM231 274h1v1h-1zM92 275h2v1h-2zM98 275h1v1h-1zM100 275h2v1h-2zM104 275h1v1h-1zM109 275h1v1h-1zM114 275h1v1h-1zM116 275h2v1h-2zM119 275h2v1h-2zM122 275h1v1h-1zM126 275h2v1h-2zM130 275h1v1h-1zM148 275h2v1h-2zM151 275h1v1h-1zM156 275h2v1h-2zM174 275h1v1h-1zM178 275h2v1h-2zM182 275h1v1h-1zM187 275h1v1h-1zM193 275h3v1h-3zM201 275h2v1h-2zM207 275h1v1h-1zM211 275h5v1h-5zM226 275h1v1h-1zM231 275h1v1h-1zM92 276h1v1h-1zM98 276h1v1h-1zM104 276h2v1h-2zM116 276h2v1h-2zM119 276h1v1h-1zM126 276h2v1h-2zM148 276h2v1h-2zM156 276h3v1h-3zM162 276h1v1h-1zM174 276h1v1h-1zM178 276h1v1h-1zM181 276h2v1h-2zM187 276h1v1h-1zM193 276h3v1h-3zM198 276h2v1h-2zM201 276h2v1h-2zM214 276h2v1h-2zM98 277h1v1h-1zM104 277h2v1h-2zM112 277h1v1h-1zM116 277h1v1h-1zM132 277h1v1h-1zM148 277h2v1h-2zM156 277h3v1h-3zM162 277h1v1h-1zM174 277h1v1h-1zM181 277h2v1h-2zM187 277h1v1h-1zM193 277h3v1h-3zM198 277h2v1h-2zM201 277h2v1h-2zM214 277h2v1h-2zM98 278h1v1h-1zM104 278h2v1h-2zM112 278h1v1h-1zM116 278h1v1h-1zM119 278h1v1h-1zM132 278h1v1h-1zM148 278h1v1h-1zM151 278h2v1h-2zM156 278h3v1h-3zM162 278h1v1h-1zM174 278h1v1h-1zM181 278h2v1h-2zM187 278h1v1h-1zM193 278h3v1h-3zM198 278h2v1h-2zM201 278h2v1h-2zM214 278h2v1h-2zM98 279h1v1h-1zM104 279h2v1h-2zM112 279h1v1h-1zM116 279h2v1h-2zM119 279h1v1h-1zM132 279h1v1h-1zM140 279h1v1h-1zM148 279h2v1h-2zM151 279h2v1h-2zM156 279h3v1h-3zM162 279h1v1h-1zM174 279h1v1h-1zM181 279h2v1h-2zM187 279h1v1h-1zM193 279h3v1h-3zM198 279h2v1h-2zM201 279h2v1h-2zM214 279h2v1h-2zM98 280h1v1h-1zM104 280h2v1h-2zM112 280h1v1h-1zM116 280h2v1h-2zM119 280h1v1h-1zM132 280h1v1h-1zM140 280h1v1h-1zM147 280h6v1h-6zM156 280h3v1h-3zM162 280h1v1h-1zM174 280h2v1h-2zM181 280h2v1h-2zM187 280h1v1h-1zM193 280h3v1h-3zM198 280h2v1h-2zM201 280h2v1h-2zM214 280h2v1h-2zM98 281h1v1h-1zM104 281h3v1h-3zM112 281h1v1h-1zM116 281h2v1h-2zM119 281h1v1h-1zM132 281h1v1h-1zM140 281h1v1h-1zM147 281h3v1h-3zM151 281h2v1h-2zM156 281h3v1h-3zM162 281h1v1h-1zM166 281h1v1h-1zM174 281h1v1h-1zM181 281h1v1h-1zM187 281h1v1h-1zM193 281h2v1h-2zM198 281h2v1h-2zM202 281h1v1h-1zM207 281h1v1h-1zM96 282h1v1h-1zM98 282h1v1h-1zM101 282h1v1h-1zM105 282h3v1h-3zM112 282h1v1h-1zM117 282h1v1h-1zM119 282h1v1h-1zM122 282h3v1h-3zM130 282h2v1h-2zM148 282h1v1h-1zM151 282h2v1h-2zM155 282h2v1h-2zM162 282h1v1h-1zM166 282h1v1h-1zM174 282h1v1h-1zM178 282h1v1h-1zM192 282h4v1h-4zM205 282h4v1h-4zM228 282h1v1h-1zM231 282h1v1h-1zM93 283h1v1h-1zM96 283h1v1h-1zM98 283h1v1h-1zM101 283h1v1h-1zM105 283h1v1h-1zM107 283h1v1h-1zM112 283h1v1h-1zM117 283h1v1h-1zM119 283h1v1h-1zM122 283h3v1h-3zM130 283h2v1h-2zM148 283h1v1h-1zM151 283h2v1h-2zM155 283h1v1h-1zM162 283h1v1h-1zM165 283h2v1h-2zM174 283h1v1h-1zM178 283h1v1h-1zM181 283h1v1h-1zM183 283h1v1h-1zM192 283h3v1h-3zM205 283h4v1h-4zM231 283h2v1h-2zM93 284h1v1h-1zM96 284h1v1h-1zM98 284h1v1h-1zM101 284h1v1h-1zM105 284h1v1h-1zM107 284h1v1h-1zM112 284h1v1h-1zM117 284h1v1h-1zM119 284h1v1h-1zM122 284h3v1h-3zM130 284h2v1h-2zM148 284h1v1h-1zM151 284h2v1h-2zM155 284h1v1h-1zM162 284h1v1h-1zM165 284h2v1h-2zM174 284h1v1h-1zM178 284h1v1h-1zM181 284h3v1h-3zM192 284h2v1h-2zM206 284h3v1h-3zM214 284h2v1h-2zM227 284h2v1h-2zM231 284h2v1h-2zM93 285h1v1h-1zM96 285h1v1h-1zM98 285h1v1h-1zM101 285h1v1h-1zM105 285h1v1h-1zM107 285h1v1h-1zM112 285h1v1h-1zM117 285h1v1h-1zM119 285h1v1h-1zM122 285h3v1h-3zM130 285h2v1h-2zM148 285h1v1h-1zM151 285h2v1h-2zM155 285h1v1h-1zM162 285h1v1h-1zM165 285h2v1h-2zM174 285h1v1h-1zM178 285h1v1h-1zM181 285h3v1h-3zM192 285h3v1h-3zM206 285h3v1h-3zM214 285h2v1h-2zM227 285h2v1h-2zM231 285h2v1h-2zM93 286h1v1h-1zM96 286h1v1h-1zM98 286h1v1h-1zM101 286h1v1h-1zM105 286h1v1h-1zM107 286h1v1h-1zM112 286h1v1h-1zM117 286h1v1h-1zM119 286h1v1h-1zM122 286h3v1h-3zM130 286h2v1h-2zM148 286h1v1h-1zM151 286h2v1h-2zM155 286h1v1h-1zM162 286h1v1h-1zM165 286h2v1h-2zM174 286h1v1h-1zM178 286h1v1h-1zM181 286h3v1h-3zM192 286h4v1h-4zM206 286h3v1h-3zM214 286h2v1h-2zM231 286h2v1h-2zM93 287h1v1h-1zM96 287h1v1h-1zM98 287h1v1h-1zM101 287h1v1h-1zM106 287h2v1h-2zM112 287h1v1h-1zM117 287h3v1h-3zM122 287h3v1h-3zM130 287h2v1h-2zM147 287h2v1h-2zM151 287h3v1h-3zM155 287h1v1h-1zM162 287h1v1h-1zM165 287h4v1h-4zM174 287h1v1h-1zM178 287h1v1h-1zM181 287h3v1h-3zM193 287h3v1h-3zM205 287h4v1h-4zM231 287h1v1h-1zM93 288h1v1h-1zM96 288h1v1h-1zM98 288h1v1h-1zM101 288h1v1h-1zM105 288h2v1h-2zM112 288h1v1h-1zM117 288h7v1h-7zM126 288h1v1h-1zM130 288h2v1h-2zM139 288h2v1h-2zM147 288h2v1h-2zM151 288h3v1h-3zM156 288h2v1h-2zM165 288h4v1h-4zM175 288h1v1h-1zM181 288h4v1h-4zM199 288h4v1h-4zM206 288h4v1h-4zM212 288h1v1h-1zM223 288h2v1h-2zM228 288h1v1h-1zM231 288h1v1h-1zM93 289h1v1h-1zM98 289h1v1h-1zM100 289h2v1h-2zM104 289h3v1h-3zM112 289h1v1h-1zM117 289h7v1h-7zM126 289h1v1h-1zM130 289h2v1h-2zM137 289h1v1h-1zM139 289h3v1h-3zM146 289h3v1h-3zM151 289h3v1h-3zM156 289h2v1h-2zM164 289h2v1h-2zM167 289h2v1h-2zM175 289h1v1h-1zM181 289h4v1h-4zM199 289h4v1h-4zM206 289h4v1h-4zM212 289h1v1h-1zM219 289h1v1h-1zM221 289h1v1h-1zM223 289h2v1h-2zM228 289h1v1h-1zM231 289h1v1h-1zM86 290h1v1h-1zM93 290h1v1h-1zM98 290h4v1h-4zM104 290h3v1h-3zM112 290h1v1h-1zM117 290h7v1h-7zM126 290h1v1h-1zM130 290h2v1h-2zM137 290h1v1h-1zM139 290h3v1h-3zM146 290h3v1h-3zM151 290h3v1h-3zM156 290h2v1h-2zM164 290h2v1h-2zM167 290h2v1h-2zM175 290h1v1h-1zM181 290h4v1h-4zM199 290h4v1h-4zM206 290h4v1h-4zM212 290h1v1h-1zM223 290h2v1h-2zM228 290h1v1h-1zM231 290h1v1h-1zM86 291h1v1h-1zM93 291h1v1h-1zM98 291h4v1h-4zM104 291h3v1h-3zM112 291h1v1h-1zM117 291h7v1h-7zM126 291h1v1h-1zM130 291h2v1h-2zM137 291h1v1h-1zM139 291h3v1h-3zM146 291h3v1h-3zM151 291h3v1h-3zM156 291h1v1h-1zM165 291h4v1h-4zM175 291h1v1h-1zM181 291h4v1h-4zM199 291h4v1h-4zM206 291h4v1h-4zM212 291h1v1h-1zM219 291h1v1h-1zM221 291h1v1h-1zM224 291h1v1h-1zM228 291h1v1h-1zM231 291h1v1h-1zM86 292h1v1h-1zM93 292h1v1h-1zM98 292h4v1h-4zM104 292h3v1h-3zM112 292h1v1h-1zM117 292h7v1h-7zM126 292h1v1h-1zM130 292h2v1h-2zM137 292h1v1h-1zM139 292h3v1h-3zM146 292h3v1h-3zM151 292h3v1h-3zM156 292h1v1h-1zM167 292h2v1h-2zM175 292h1v1h-1zM181 292h3v1h-3zM199 292h4v1h-4zM206 292h4v1h-4zM212 292h1v1h-1zM219 292h3v1h-3zM231 292h1v1h-1zM93 293h1v1h-1zM98 293h4v1h-4zM104 293h3v1h-3zM112 293h1v1h-1zM117 293h7v1h-7zM126 293h1v1h-1zM130 293h2v1h-2zM139 293h3v1h-3zM146 293h3v1h-3zM151 293h3v1h-3zM156 293h2v1h-2zM166 293h3v1h-3zM175 293h1v1h-1zM182 293h3v1h-3zM199 293h3v1h-3zM206 293h4v1h-4zM219 293h3v1h-3zM228 293h1v1h-1zM98 294h5v1h-5zM104 294h3v1h-3zM117 294h6v1h-6zM125 294h3v1h-3zM130 294h2v1h-2zM140 294h2v1h-2zM147 294h1v1h-1zM151 294h3v1h-3zM156 294h2v1h-2zM166 294h1v1h-1zM174 294h2v1h-2zM178 294h1v1h-1zM182 294h3v1h-3zM196 294h1v1h-1zM199 294h3v1h-3zM208 294h1v1h-1zM215 294h2v1h-2zM218 294h4v1h-4zM227 294h3v1h-3zM100 295h3v1h-3zM104 295h3v1h-3zM118 295h5v1h-5zM125 295h3v1h-3zM130 295h2v1h-2zM141 295h1v1h-1zM147 295h1v1h-1zM152 295h3v1h-3zM174 295h2v1h-2zM178 295h1v1h-1zM184 295h1v1h-1zM199 295h3v1h-3zM206 295h3v1h-3zM215 295h2v1h-2zM221 295h1v1h-1zM227 295h3v1h-3zM101 296h2v1h-2zM104 296h3v1h-3zM118 296h5v1h-5zM125 296h3v1h-3zM130 296h2v1h-2zM141 296h1v1h-1zM147 296h1v1h-1zM153 296h2v1h-2zM156 296h2v1h-2zM174 296h2v1h-2zM178 296h1v1h-1zM184 296h1v1h-1zM196 296h2v1h-2zM199 296h3v1h-3zM206 296h3v1h-3zM215 296h2v1h-2zM221 296h1v1h-1zM227 296h2v1h-2zM101 297h2v1h-2zM104 297h3v1h-3zM118 297h5v1h-5zM125 297h3v1h-3zM131 297h1v1h-1zM140 297h2v1h-2zM147 297h1v1h-1zM152 297h3v1h-3zM156 297h2v1h-2zM174 297h2v1h-2zM178 297h1v1h-1zM184 297h1v1h-1zM196 297h2v1h-2zM199 297h3v1h-3zM206 297h3v1h-3zM215 297h2v1h-2zM221 297h1v1h-1zM101 298h2v1h-2zM104 298h3v1h-3zM118 298h4v1h-4zM130 298h1v1h-1zM140 298h2v1h-2zM151 298h4v1h-4zM156 298h2v1h-2zM174 298h1v1h-1zM178 298h1v1h-1zM184 298h1v1h-1zM199 298h2v1h-2zM206 298h2v1h-2zM215 298h2v1h-2zM218 298h2v1h-2zM221 298h1v1h-1zM227 298h2v1h-2zM98 299h1v1h-1zM102 299h1v1h-1zM119 299h4v1h-4zM130 299h1v1h-1zM141 299h1v1h-1zM151 299h4v1h-4zM156 299h2v1h-2zM178 299h1v1h-1zM182 299h1v1h-1zM184 299h1v1h-1zM199 299h3v1h-3zM206 299h3v1h-3zM215 299h2v1h-2zM218 299h2v1h-2zM221 299h1v1h-1zM227 299h2v1h-2zM97 300h2v1h-2zM128 300h4v1h-4zM135 300h1v1h-1zM151 300h2v1h-2zM155 300h4v1h-4zM174 300h1v1h-1zM177 300h2v1h-2zM181 300h3v1h-3zM198 300h1v1h-1zM201 300h1v1h-1zM206 300h3v1h-3zM215 300h5v1h-5zM228 300h1v1h-1zM97 301h2v1h-2zM127 301h5v1h-5zM135 301h1v1h-1zM151 301h2v1h-2zM155 301h4v1h-4zM165 301h1v1h-1zM174 301h2v1h-2zM177 301h2v1h-2zM181 301h3v1h-3zM198 301h1v1h-1zM202 301h1v1h-1zM207 301h2v1h-2zM215 301h6v1h-6zM228 301h1v1h-1zM97 302h2v1h-2zM128 302h4v1h-4zM135 302h1v1h-1zM151 302h2v1h-2zM155 302h4v1h-4zM164 302h2v1h-2zM174 302h2v1h-2zM177 302h2v1h-2zM181 302h3v1h-3zM198 302h1v1h-1zM202 302h1v1h-1zM207 302h2v1h-2zM215 302h6v1h-6zM228 302h1v1h-1zM105 303h1v1h-1zM117 303h1v1h-1zM124 303h1v1h-1zM129 303h1v1h-1zM131 303h1v1h-1zM135 303h1v1h-1zM151 303h1v1h-1zM155 303h4v1h-4zM164 303h2v1h-2zM174 303h2v1h-2zM177 303h2v1h-2zM181 303h3v1h-3zM202 303h1v1h-1zM207 303h2v1h-2zM215 303h3v1h-3zM228 303h1v1h-1zM97 304h2v1h-2zM100 304h1v1h-1zM104 304h2v1h-2zM117 304h1v1h-1zM124 304h1v1h-1zM128 304h1v1h-1zM151 304h1v1h-1zM155 304h3v1h-3zM164 304h2v1h-2zM174 304h2v1h-2zM177 304h2v1h-2zM181 304h3v1h-3zM198 304h1v1h-1zM202 304h1v1h-1zM207 304h2v1h-2zM215 304h6v1h-6zM228 304h1v1h-1zM97 305h2v1h-2zM100 305h3v1h-3zM104 305h2v1h-2zM117 305h1v1h-1zM119 305h1v1h-1zM128 305h1v1h-1zM131 305h1v1h-1zM151 305h1v1h-1zM155 305h3v1h-3zM164 305h2v1h-2zM174 305h1v1h-1zM177 305h2v1h-2zM181 305h3v1h-3zM198 305h1v1h-1zM201 305h2v1h-2zM206 305h3v1h-3zM215 305h6v1h-6zM228 305h1v1h-1zM101 306h2v1h-2zM105 306h1v1h-1zM110 306h1v1h-1zM118 306h2v1h-2zM126 306h3v1h-3zM130 306h2v1h-2zM141 306h1v1h-1zM149 306h1v1h-1zM151 306h1v1h-1zM156 306h2v1h-2zM166 306h1v1h-1zM177 306h2v1h-2zM181 306h3v1h-3zM195 306h1v1h-1zM201 306h2v1h-2zM206 306h3v1h-3zM212 306h1v1h-1zM215 306h2v1h-2zM218 306h3v1h-3zM228 306h1v1h-1zM101 307h1v1h-1zM110 307h1v1h-1zM119 307h1v1h-1zM126 307h2v1h-2zM141 307h1v1h-1zM149 307h3v1h-3zM156 307h2v1h-2zM162 307h1v1h-1zM166 307h1v1h-1zM177 307h2v1h-2zM181 307h3v1h-3zM193 307h1v1h-1zM195 307h1v1h-1zM201 307h2v1h-2zM206 307h3v1h-3zM212 307h1v1h-1zM215 307h2v1h-2zM218 307h4v1h-4zM223 307h1v1h-1zM228 307h1v1h-1zM110 308h1v1h-1zM119 308h1v1h-1zM126 308h1v1h-1zM136 308h1v1h-1zM140 308h2v1h-2zM149 308h3v1h-3zM156 308h2v1h-2zM162 308h1v1h-1zM166 308h1v1h-1zM177 308h2v1h-2zM182 308h2v1h-2zM193 308h1v1h-1zM195 308h1v1h-1zM201 308h2v1h-2zM206 308h3v1h-3zM212 308h1v1h-1zM215 308h2v1h-2zM218 308h4v1h-4zM223 308h1v1h-1zM228 308h1v1h-1zM136 309h1v1h-1zM141 309h1v1h-1zM149 309h3v1h-3zM156 309h2v1h-2zM162 309h1v1h-1zM166 309h1v1h-1zM177 309h2v1h-2zM183 309h1v1h-1zM193 309h1v1h-1zM195 309h1v1h-1zM201 309h2v1h-2zM206 309h3v1h-3zM215 309h2v1h-2zM218 309h4v1h-4zM223 309h1v1h-1zM228 309h1v1h-1zM105 310h1v1h-1zM110 310h1v1h-1zM117 310h1v1h-1zM119 310h1v1h-1zM122 310h1v1h-1zM126 310h1v1h-1zM136 310h1v1h-1zM141 310h1v1h-1zM149 310h3v1h-3zM156 310h2v1h-2zM162 310h1v1h-1zM166 310h1v1h-1zM177 310h2v1h-2zM182 310h2v1h-2zM193 310h1v1h-1zM195 310h1v1h-1zM201 310h2v1h-2zM206 310h3v1h-3zM215 310h2v1h-2zM218 310h1v1h-1zM221 310h1v1h-1zM228 310h1v1h-1zM105 311h1v1h-1zM110 311h1v1h-1zM118 311h2v1h-2zM121 311h2v1h-2zM126 311h2v1h-2zM136 311h1v1h-1zM141 311h1v1h-1zM148 311h4v1h-4zM157 311h1v1h-1zM166 311h1v1h-1zM178 311h1v1h-1zM181 311h3v1h-3zM193 311h1v1h-1zM195 311h1v1h-1zM202 311h1v1h-1zM206 311h3v1h-3zM215 311h2v1h-2zM221 311h1v1h-1zM228 311h1v1h-1zM101 312h1v1h-1zM118 312h1v1h-1zM121 312h3v1h-3zM126 312h2v1h-2zM136 312h1v1h-1zM141 312h1v1h-1zM148 312h2v1h-2zM151 312h2v1h-2zM157 312h1v1h-1zM174 312h1v1h-1zM178 312h1v1h-1zM181 312h2v1h-2zM185 312h1v1h-1zM206 312h3v1h-3zM215 312h2v1h-2zM221 312h2v1h-2zM224 312h1v1h-1zM98 313h1v1h-1zM100 313h3v1h-3zM121 313h3v1h-3zM126 313h2v1h-2zM136 313h1v1h-1zM141 313h1v1h-1zM147 313h2v1h-2zM151 313h3v1h-3zM157 313h1v1h-1zM174 313h2v1h-2zM178 313h1v1h-1zM181 313h2v1h-2zM185 313h1v1h-1zM199 313h1v1h-1zM206 313h3v1h-3zM215 313h2v1h-2zM220 313h5v1h-5zM98 314h1v1h-1zM100 314h4v1h-4zM116 314h2v1h-2zM121 314h2v1h-2zM126 314h2v1h-2zM131 314h1v1h-1zM136 314h1v1h-1zM141 314h1v1h-1zM147 314h2v1h-2zM151 314h3v1h-3zM174 314h1v1h-1zM178 314h1v1h-1zM181 314h2v1h-2zM199 314h1v1h-1zM207 314h1v1h-1zM215 314h2v1h-2zM220 314h5v1h-5zM98 315h1v1h-1zM100 315h3v1h-3zM116 315h3v1h-3zM120 315h3v1h-3zM130 315h2v1h-2zM141 315h1v1h-1zM147 315h2v1h-2zM151 315h3v1h-3zM156 315h2v1h-2zM174 315h1v1h-1zM178 315h1v1h-1zM181 315h2v1h-2zM185 315h1v1h-1zM199 315h1v1h-1zM206 315h3v1h-3zM215 315h2v1h-2zM220 315h5v1h-5zM98 316h1v1h-1zM116 316h7v1h-7zM131 316h1v1h-1zM141 316h1v1h-1zM147 316h2v1h-2zM151 316h3v1h-3zM156 316h2v1h-2zM174 316h1v1h-1zM178 316h1v1h-1zM181 316h2v1h-2zM185 316h1v1h-1zM199 316h1v1h-1zM206 316h3v1h-3zM215 316h2v1h-2zM220 316h5v1h-5zM116 317h3v1h-3zM141 317h1v1h-1zM147 317h2v1h-2zM151 317h4v1h-4zM157 317h1v1h-1zM175 317h1v1h-1zM178 317h2v1h-2zM181 317h2v1h-2zM185 317h1v1h-1zM206 317h3v1h-3zM215 317h2v1h-2zM220 317h3v1h-3zM224 317h1v1h-1zM116 318h2v1h-2zM147 318h2v1h-2zM152 318h3v1h-3zM161 318h1v1h-1zM166 318h1v1h-1zM178 318h3v1h-3zM183 318h1v1h-1zM207 318h2v1h-2zM213 318h10v1h-10zM228 318h1v1h-1zM146 319h3v1h-3zM153 319h2v1h-2zM161 319h1v1h-1zM164 319h1v1h-1zM166 319h1v1h-1zM178 319h2v1h-2zM183 319h1v1h-1zM189 319h2v1h-2zM207 319h2v1h-2zM213 319h3v1h-3zM217 319h6v1h-6zM225 319h1v1h-1zM228 319h3v1h-3zM121 320h1v1h-1zM146 320h3v1h-3zM153 320h2v1h-2zM156 320h2v1h-2zM161 320h1v1h-1zM164 320h1v1h-1zM166 320h1v1h-1zM178 320h2v1h-2zM183 320h1v1h-1zM189 320h2v1h-2zM207 320h2v1h-2zM213 320h10v1h-10zM225 320h1v1h-1zM228 320h3v1h-3zM146 321h3v1h-3zM153 321h2v1h-2zM161 321h1v1h-1zM164 321h1v1h-1zM166 321h1v1h-1zM178 321h2v1h-2zM183 321h1v1h-1zM189 321h2v1h-2zM194 321h1v1h-1zM207 321h2v1h-2zM213 321h10v1h-10zM225 321h1v1h-1zM228 321h3v1h-3zM126 322h1v1h-1zM146 322h3v1h-3zM153 322h2v1h-2zM161 322h1v1h-1zM164 322h1v1h-1zM178 322h3v1h-3zM183 322h1v1h-1zM189 322h2v1h-2zM194 322h1v1h-1zM207 322h2v1h-2zM213 322h10v1h-10zM225 322h1v1h-1zM228 322h3v1h-3zM126 323h1v1h-1zM146 323h3v1h-3zM153 323h2v1h-2zM157 323h1v1h-1zM161 323h1v1h-1zM164 323h1v1h-1zM166 323h1v1h-1zM178 323h2v1h-2zM183 323h1v1h-1zM189 323h2v1h-2zM194 323h1v1h-1zM207 323h2v1h-2zM213 323h8v1h-8zM222 323h1v1h-1zM228 323h3v1h-3zM122 324h1v1h-1zM126 324h1v1h-1zM132 324h1v1h-1zM140 324h2v1h-2zM147 324h2v1h-2zM156 324h3v1h-3zM161 324h1v1h-1zM164 324h4v1h-4zM177 324h2v1h-2zM183 324h1v1h-1zM189 324h1v1h-1zM193 324h1v1h-1zM195 324h1v1h-1zM207 324h2v1h-2zM211 324h1v1h-1zM213 324h4v1h-4zM220 324h1v1h-1zM223 324h2v1h-2zM228 324h1v1h-1zM230 324h1v1h-1zM105 325h2v1h-2zM113 325h3v1h-3zM117 325h2v1h-2zM126 325h2v1h-2zM132 325h2v1h-2zM140 325h3v1h-3zM148 325h1v1h-1zM156 325h3v1h-3zM164 325h5v1h-5zM177 325h2v1h-2zM181 325h1v1h-1zM183 325h2v1h-2zM188 325h1v1h-1zM193 325h1v1h-1zM195 325h1v1h-1zM200 325h2v1h-2zM207 325h3v1h-3zM211 325h3v1h-3zM215 325h1v1h-1zM220 325h1v1h-1zM223 325h2v1h-2zM228 325h1v1h-1zM104 326h3v1h-3zM113 326h3v1h-3zM117 326h2v1h-2zM123 326h1v1h-1zM126 326h4v1h-4zM132 326h2v1h-2zM135 326h1v1h-1zM140 326h2v1h-2zM148 326h1v1h-1zM156 326h3v1h-3zM164 326h5v1h-5zM178 326h1v1h-1zM181 326h1v1h-1zM183 326h2v1h-2zM188 326h1v1h-1zM193 326h1v1h-1zM195 326h1v1h-1zM200 326h4v1h-4zM207 326h3v1h-3zM211 326h5v1h-5zM220 326h1v1h-1zM223 326h2v1h-2zM228 326h1v1h-1zM98 327h1v1h-1zM104 327h3v1h-3zM114 327h2v1h-2zM117 327h2v1h-2zM123 327h1v1h-1zM126 327h3v1h-3zM132 327h1v1h-1zM135 327h1v1h-1zM137 327h1v1h-1zM140 327h2v1h-2zM148 327h1v1h-1zM156 327h3v1h-3zM164 327h5v1h-5zM178 327h1v1h-1zM181 327h1v1h-1zM183 327h2v1h-2zM188 327h1v1h-1zM193 327h1v1h-1zM195 327h1v1h-1zM200 327h4v1h-4zM207 327h3v1h-3zM211 327h5v1h-5zM219 327h2v1h-2zM223 327h2v1h-2zM228 327h1v1h-1zM98 328h1v1h-1zM104 328h3v1h-3zM113 328h3v1h-3zM117 328h2v1h-2zM126 328h1v1h-1zM128 328h1v1h-1zM137 328h1v1h-1zM140 328h2v1h-2zM148 328h1v1h-1zM156 328h3v1h-3zM164 328h5v1h-5zM178 328h1v1h-1zM181 328h1v1h-1zM183 328h2v1h-2zM188 328h1v1h-1zM195 328h1v1h-1zM200 328h4v1h-4zM207 328h3v1h-3zM211 328h5v1h-5zM219 328h2v1h-2zM223 328h2v1h-2zM228 328h1v1h-1zM230 328h1v1h-1zM98 329h1v1h-1zM105 329h1v1h-1zM113 329h1v1h-1zM117 329h3v1h-3zM132 329h1v1h-1zM137 329h1v1h-1zM140 329h2v1h-2zM147 329h2v1h-2zM156 329h3v1h-3zM166 329h2v1h-2zM177 329h2v1h-2zM181 329h1v1h-1zM183 329h1v1h-1zM193 329h1v1h-1zM195 329h1v1h-1zM201 329h2v1h-2zM207 329h2v1h-2zM211 329h1v1h-1zM213 329h3v1h-3zM219 329h2v1h-2zM223 329h2v1h-2zM228 329h1v1h-1zM230 329h1v1h-1zM147 330h2v1h-2zM151 330h2v1h-2zM156 330h3v1h-3zM163 330h1v1h-1zM166 330h1v1h-1zM174 330h1v1h-1zM177 330h2v1h-2zM181 330h3v1h-3zM215 330h1v1h-1zM218 330h1v1h-1zM220 330h1v1h-1zM223 330h2v1h-2zM228 330h1v1h-1zM230 330h1v1h-1zM147 331h2v1h-2zM151 331h2v1h-2zM156 331h3v1h-3zM163 331h1v1h-1zM166 331h1v1h-1zM174 331h2v1h-2zM177 331h2v1h-2zM181 331h2v1h-2zM215 331h1v1h-1zM218 331h1v1h-1zM220 331h2v1h-2zM223 331h2v1h-2zM228 331h1v1h-1zM230 331h1v1h-1zM147 332h2v1h-2zM151 332h3v1h-3zM156 332h3v1h-3zM163 332h1v1h-1zM166 332h1v1h-1zM174 332h2v1h-2zM177 332h2v1h-2zM181 332h2v1h-2zM207 332h2v1h-2zM214 332h2v1h-2zM218 332h1v1h-1zM220 332h2v1h-2zM223 332h2v1h-2zM228 332h1v1h-1zM230 332h1v1h-1zM147 333h2v1h-2zM151 333h3v1h-3zM156 333h3v1h-3zM163 333h1v1h-1zM174 333h2v1h-2zM177 333h2v1h-2zM181 333h2v1h-2zM207 333h2v1h-2zM214 333h2v1h-2zM218 333h1v1h-1zM220 333h2v1h-2zM223 333h2v1h-2zM228 333h1v1h-1zM230 333h1v1h-1zM98 334h1v1h-1zM147 334h2v1h-2zM151 334h3v1h-3zM156 334h3v1h-3zM163 334h1v1h-1zM166 334h1v1h-1zM174 334h2v1h-2zM177 334h2v1h-2zM181 334h2v1h-2zM207 334h2v1h-2zM214 334h2v1h-2zM218 334h1v1h-1zM220 334h2v1h-2zM223 334h2v1h-2zM228 334h1v1h-1zM230 334h1v1h-1zM147 335h2v1h-2zM151 335h3v1h-3zM156 335h3v1h-3zM163 335h1v1h-1zM166 335h1v1h-1zM174 335h2v1h-2zM177 335h2v1h-2zM181 335h2v1h-2zM193 335h1v1h-1zM207 335h2v1h-2zM215 335h1v1h-1zM218 335h1v1h-1zM220 335h2v1h-2zM223 335h1v1h-1zM228 335h1v1h-1zM147 336h1v1h-1zM151 336h3v1h-3zM156 336h2v1h-2zM162 336h1v1h-1zM166 336h3v1h-3zM174 336h2v1h-2zM178 336h1v1h-1zM182 336h2v1h-2zM193 336h2v1h-2zM198 336h4v1h-4zM215 336h2v1h-2zM220 336h2v1h-2zM223 336h1v1h-1zM228 336h1v1h-1zM98 337h2v1h-2zM110 337h8v1h-8zM119 337h4v1h-4zM126 337h12v1h-12zM152 337h2v1h-2zM156 337h2v1h-2zM162 337h1v1h-1zM166 337h3v1h-3zM174 337h2v1h-2zM178 337h1v1h-1zM182 337h2v1h-2zM193 337h2v1h-2zM198 337h4v1h-4zM203 337h1v1h-1zM215 337h2v1h-2zM220 337h2v1h-2zM98 338h2v1h-2zM101 338h1v1h-1zM110 338h8v1h-8zM119 338h4v1h-4zM125 338h10v1h-10zM136 338h2v1h-2zM152 338h2v1h-2zM162 338h1v1h-1zM166 338h3v1h-3zM174 338h2v1h-2zM178 338h1v1h-1zM182 338h2v1h-2zM193 338h2v1h-2zM199 338h3v1h-3zM203 338h1v1h-1zM215 338h2v1h-2zM220 338h2v1h-2zM98 339h2v1h-2zM101 339h1v1h-1zM110 339h8v1h-8zM119 339h4v1h-4zM126 339h9v1h-9zM136 339h2v1h-2zM152 339h2v1h-2zM166 339h3v1h-3zM174 339h2v1h-2zM178 339h1v1h-1zM182 339h2v1h-2zM193 339h2v1h-2zM198 339h4v1h-4zM215 339h2v1h-2zM220 339h2v1h-2zM98 340h2v1h-2zM101 340h1v1h-1zM110 340h8v1h-8zM119 340h4v1h-4zM125 340h10v1h-10zM136 340h2v1h-2zM155 340h1v1h-1zM167 340h2v1h-2zM174 340h2v1h-2zM178 340h1v1h-1zM182 340h2v1h-2zM193 340h2v1h-2zM198 340h4v1h-4zM203 340h1v1h-1zM215 340h2v1h-2zM220 340h2v1h-2zM98 341h4v1h-4zM110 341h8v1h-8zM119 341h5v1h-5zM125 341h13v1h-13zM147 341h1v1h-1zM166 341h3v1h-3zM174 341h2v1h-2zM178 341h1v1h-1zM182 341h2v1h-2zM193 341h2v1h-2zM198 341h6v1h-6zM215 341h2v1h-2zM220 341h2v1h-2zM228 341h1v1h-1zM98 342h4v1h-4zM109 342h9v1h-9zM119 342h2v1h-2zM122 342h2v1h-2zM125 342h12v1h-12zM147 342h2v1h-2zM166 342h1v1h-1zM168 342h1v1h-1zM174 342h1v1h-1zM178 342h1v1h-1zM182 342h1v1h-1zM185 342h1v1h-1zM193 342h3v1h-3zM199 342h5v1h-5zM208 342h2v1h-2zM215 342h2v1h-2zM221 342h4v1h-4zM228 342h1v1h-1zM231 342h1v1h-1zM98 343h4v1h-4zM106 343h2v1h-2zM109 343h9v1h-9zM119 343h2v1h-2zM122 343h2v1h-2zM125 343h12v1h-12zM141 343h1v1h-1zM146 343h3v1h-3zM165 343h2v1h-2zM168 343h1v1h-1zM174 343h1v1h-1zM178 343h1v1h-1zM182 343h1v1h-1zM184 343h2v1h-2zM193 343h3v1h-3zM199 343h1v1h-1zM202 343h2v1h-2zM208 343h2v1h-2zM216 343h1v1h-1zM220 343h5v1h-5zM228 343h2v1h-2zM231 343h1v1h-1zM98 344h4v1h-4zM106 344h2v1h-2zM109 344h9v1h-9zM119 344h1v1h-1zM122 344h2v1h-2zM125 344h12v1h-12zM141 344h1v1h-1zM146 344h2v1h-2zM151 344h1v1h-1zM157 344h1v1h-1zM166 344h1v1h-1zM168 344h1v1h-1zM174 344h1v1h-1zM178 344h1v1h-1zM182 344h1v1h-1zM193 344h3v1h-3zM202 344h2v1h-2zM215 344h2v1h-2zM220 344h5v1h-5zM228 344h2v1h-2zM231 344h1v1h-1zM98 345h4v1h-4zM106 345h2v1h-2zM109 345h9v1h-9zM119 345h2v1h-2zM122 345h2v1h-2zM125 345h12v1h-12zM146 345h1v1h-1zM152 345h1v1h-1zM157 345h1v1h-1zM168 345h1v1h-1zM174 345h1v1h-1zM182 345h1v1h-1zM193 345h3v1h-3zM199 345h1v1h-1zM202 345h2v1h-2zM208 345h2v1h-2zM215 345h2v1h-2zM220 345h2v1h-2zM223 345h2v1h-2zM228 345h2v1h-2zM231 345h1v1h-1zM98 346h4v1h-4zM106 346h2v1h-2zM109 346h9v1h-9zM119 346h2v1h-2zM122 346h2v1h-2zM125 346h12v1h-12zM146 346h1v1h-1zM185 346h1v1h-1zM193 346h3v1h-3zM199 346h1v1h-1zM201 346h3v1h-3zM208 346h2v1h-2zM215 346h2v1h-2zM223 346h2v1h-2zM228 346h2v1h-2zM231 346h1v1h-1zM98 347h4v1h-4zM106 347h2v1h-2zM109 347h9v1h-9zM119 347h2v1h-2zM122 347h2v1h-2zM125 347h11v1h-11zM146 347h2v1h-2zM194 347h2v1h-2zM201 347h3v1h-3zM208 347h2v1h-2zM215 347h2v1h-2zM219 347h3v1h-3zM223 347h2v1h-2zM228 347h2v1h-2zM231 347h1v1h-1zM98 348h4v1h-4zM106 348h1v1h-1zM110 348h10v1h-10zM122 348h2v1h-2zM125 348h11v1h-11zM141 348h1v1h-1zM147 348h2v1h-2zM195 348h1v1h-1zM202 348h2v1h-2zM207 348h2v1h-2zM215 348h7v1h-7zM223 348h2v1h-2zM228 348h1v1h-1zM232 348h1v1h-1zM98 349h4v1h-4zM106 349h1v1h-1zM110 349h10v1h-10zM122 349h2v1h-2zM125 349h11v1h-11zM141 349h1v1h-1zM147 349h2v1h-2zM156 349h1v1h-1zM195 349h1v1h-1zM202 349h2v1h-2zM206 349h2v1h-2zM212 349h1v1h-1zM215 349h7v1h-7zM223 349h2v1h-2zM227 349h2v1h-2zM232 349h2v1h-2zM98 350h4v1h-4zM106 350h1v1h-1zM110 350h10v1h-10zM122 350h2v1h-2zM125 350h10v1h-10zM141 350h1v1h-1zM147 350h3v1h-3zM156 350h1v1h-1zM167 350h1v1h-1zM177 350h2v1h-2zM195 350h1v1h-1zM202 350h2v1h-2zM206 350h3v1h-3zM212 350h1v1h-1zM215 350h7v1h-7zM223 350h2v1h-2zM227 350h2v1h-2zM232 350h2v1h-2zM141 351h1v1h-1zM167 351h1v1h-1zM177 351h2v1h-2zM181 351h1v1h-1zM195 351h1v1h-1zM202 351h2v1h-2zM206 351h4v1h-4zM212 351h1v1h-1zM215 351h7v1h-7zM223 351h2v1h-2zM227 351h2v1h-2zM232 351h2v1h-2zM141 352h1v1h-1zM167 352h1v1h-1zM177 352h2v1h-2zM181 352h1v1h-1zM195 352h1v1h-1zM202 352h2v1h-2zM206 352h4v1h-4zM212 352h1v1h-1zM215 352h7v1h-7zM223 352h2v1h-2zM227 352h2v1h-2zM232 352h2v1h-2zM141 353h1v1h-1zM167 353h1v1h-1zM177 353h2v1h-2zM181 353h1v1h-1zM195 353h1v1h-1zM202 353h2v1h-2zM206 353h4v1h-4zM215 353h7v1h-7zM223 353h2v1h-2zM228 353h1v1h-1zM232 353h2v1h-2zM166 354h3v1h-3zM170 354h1v1h-1zM174 354h1v1h-1zM177 354h2v1h-2zM181 354h4v1h-4zM194 354h2v1h-2zM201 354h2v1h-2zM206 354h5v1h-5zM215 354h2v1h-2zM219 354h3v1h-3zM223 354h1v1h-1zM228 354h1v1h-1zM234 354h1v1h-1zM98 355h1v1h-1zM107 355h1v1h-1zM117 355h1v1h-1zM119 355h2v1h-2zM127 355h1v1h-1zM130 355h1v1h-1zM133 355h1v1h-1zM135 355h3v1h-3zM147 355h1v1h-1zM165 355h4v1h-4zM170 355h1v1h-1zM174 355h1v1h-1zM177 355h2v1h-2zM181 355h5v1h-5zM194 355h2v1h-2zM201 355h2v1h-2zM206 355h3v1h-3zM210 355h1v1h-1zM215 355h2v1h-2zM219 355h3v1h-3zM223 355h1v1h-1zM228 355h1v1h-1zM234 355h1v1h-1zM98 356h1v1h-1zM103 356h1v1h-1zM105 356h1v1h-1zM107 356h1v1h-1zM113 356h1v1h-1zM116 356h2v1h-2zM119 356h2v1h-2zM124 356h1v1h-1zM127 356h1v1h-1zM130 356h4v1h-4zM135 356h3v1h-3zM147 356h2v1h-2zM156 356h1v1h-1zM165 356h4v1h-4zM170 356h1v1h-1zM174 356h1v1h-1zM177 356h2v1h-2zM181 356h5v1h-5zM194 356h2v1h-2zM201 356h2v1h-2zM206 356h3v1h-3zM210 356h1v1h-1zM215 356h2v1h-2zM219 356h3v1h-3zM223 356h1v1h-1zM228 356h1v1h-1zM234 356h1v1h-1zM98 357h8v1h-8zM107 357h3v1h-3zM115 357h7v1h-7zM124 357h14v1h-14zM148 357h3v1h-3zM156 357h2v1h-2zM165 357h4v1h-4zM170 357h1v1h-1zM174 357h1v1h-1zM177 357h1v1h-1zM181 357h5v1h-5zM194 357h2v1h-2zM201 357h2v1h-2zM206 357h3v1h-3zM210 357h1v1h-1zM215 357h2v1h-2zM219 357h3v1h-3zM223 357h1v1h-1zM228 357h1v1h-1zM234 357h1v1h-1zM97 358h13v1h-13zM111 358h3v1h-3zM115 358h7v1h-7zM124 358h14v1h-14zM148 358h3v1h-3zM156 358h2v1h-2zM165 358h4v1h-4zM170 358h1v1h-1zM174 358h1v1h-1zM177 358h2v1h-2zM181 358h5v1h-5zM194 358h2v1h-2zM201 358h2v1h-2zM206 358h3v1h-3zM210 358h1v1h-1zM215 358h1v1h-1zM219 358h3v1h-3zM223 358h1v1h-1zM228 358h1v1h-1zM234 358h1v1h-1zM98 359h12v1h-12zM111 359h2v1h-2zM115 359h7v1h-7zM124 359h14v1h-14zM148 359h2v1h-2zM156 359h2v1h-2zM165 359h4v1h-4zM170 359h1v1h-1zM174 359h1v1h-1zM177 359h2v1h-2zM181 359h5v1h-5zM195 359h1v1h-1zM201 359h2v1h-2zM206 359h3v1h-3zM215 359h1v1h-1zM219 359h3v1h-3zM223 359h1v1h-1zM234 359h1v1h-1zM98 360h24v1h-24zM124 360h4v1h-4zM130 360h7v1h-7zM147 360h2v1h-2zM164 360h1v1h-1zM166 360h1v1h-1zM170 360h1v1h-1zM174 360h1v1h-1zM178 360h1v1h-1zM182 360h4v1h-4zM199 360h2v1h-2zM202 360h1v1h-1zM206 360h3v1h-3zM219 360h2v1h-2zM228 360h1v1h-1zM97 361h2v1h-2zM100 361h7v1h-7zM110 361h18v1h-18zM130 361h7v1h-7zM141 361h2v1h-2zM147 361h2v1h-2zM161 361h1v1h-1zM170 361h1v1h-1zM174 361h1v1h-1zM178 361h1v1h-1zM182 361h4v1h-4zM199 361h2v1h-2zM207 361h2v1h-2zM218 361h3v1h-3zM228 361h1v1h-1zM96 362h2v1h-2zM101 362h27v1h-27zM130 362h7v1h-7zM141 362h2v1h-2zM147 362h2v1h-2zM161 362h1v1h-1zM164 362h1v1h-1zM166 362h1v1h-1zM174 362h1v1h-1zM182 362h4v1h-4zM199 362h2v1h-2zM205 362h1v1h-1zM207 362h2v1h-2zM218 362h3v1h-3zM96 363h3v1h-3zM100 363h23v1h-23zM124 363h14v1h-14zM141 363h2v1h-2zM147 363h2v1h-2zM161 363h1v1h-1zM164 363h3v1h-3zM174 363h1v1h-1zM182 363h3v1h-3zM199 363h2v1h-2zM205 363h1v1h-1zM207 363h2v1h-2zM216 363h1v1h-1zM218 363h3v1h-3zM228 363h1v1h-1zM96 364h24v1h-24zM121 364h17v1h-17zM141 364h2v1h-2zM147 364h2v1h-2zM161 364h1v1h-1zM164 364h3v1h-3zM174 364h1v1h-1zM182 364h4v1h-4zM199 364h2v1h-2zM205 364h1v1h-1zM207 364h2v1h-2zM216 364h1v1h-1zM218 364h3v1h-3zM228 364h1v1h-1zM96 365h1v1h-1zM98 365h21v1h-21zM122 365h16v1h-16zM141 365h2v1h-2zM147 365h2v1h-2zM161 365h1v1h-1zM164 365h3v1h-3zM174 365h1v1h-1zM178 365h1v1h-1zM182 365h4v1h-4zM200 365h1v1h-1zM202 365h1v1h-1zM207 365h2v1h-2zM216 365h1v1h-1zM218 365h3v1h-3zM228 365h1v1h-1zM92 366h1v1h-1zM96 366h1v1h-1zM98 366h13v1h-13zM112 366h8v1h-8zM121 366h16v1h-16zM141 366h1v1h-1zM146 366h5v1h-5zM157 366h1v1h-1zM161 366h3v1h-3zM166 366h1v1h-1zM174 366h3v1h-3zM178 366h1v1h-1zM182 366h3v1h-3zM193 366h1v1h-1zM195 366h1v1h-1zM201 366h3v1h-3zM215 366h2v1h-2zM220 366h2v1h-2zM223 366h2v1h-2zM96 367h5v1h-5zM103 367h35v1h-35zM141 367h1v1h-1zM146 367h5v1h-5zM153 367h1v1h-1zM157 367h1v1h-1zM162 367h1v1h-1zM166 367h1v1h-1zM174 367h3v1h-3zM178 367h1v1h-1zM182 367h3v1h-3zM193 367h3v1h-3zM202 367h4v1h-4zM215 367h2v1h-2zM220 367h2v1h-2zM223 367h2v1h-2zM96 368h7v1h-7zM105 368h17v1h-17zM123 368h15v1h-15zM141 368h1v1h-1zM146 368h2v1h-2zM174 368h3v1h-3zM178 368h1v1h-1zM182 368h3v1h-3zM193 368h3v1h-3zM202 368h4v1h-4zM215 368h2v1h-2zM220 368h2v1h-2zM223 368h2v1h-2zM96 369h4v1h-4zM105 369h1v1h-1zM107 369h8v1h-8zM116 369h6v1h-6zM124 369h12v1h-12zM137 369h1v1h-1zM141 369h1v1h-1zM146 369h1v1h-1zM174 369h3v1h-3zM178 369h1v1h-1zM182 369h3v1h-3zM193 369h3v1h-3zM202 369h4v1h-4zM215 369h2v1h-2zM220 369h2v1h-2zM223 369h2v1h-2zM96 370h6v1h-6zM104 370h5v1h-5zM110 370h8v1h-8zM120 370h12v1h-12zM133 370h2v1h-2zM141 370h1v1h-1zM146 370h1v1h-1zM174 370h3v1h-3zM178 370h1v1h-1zM182 370h2v1h-2zM193 370h3v1h-3zM201 370h5v1h-5zM215 370h2v1h-2zM220 370h2v1h-2zM223 370h2v1h-2zM97 371h6v1h-6zM104 371h5v1h-5zM110 371h7v1h-7zM120 371h5v1h-5zM126 371h5v1h-5zM134 371h1v1h-1zM141 371h1v1h-1zM174 371h3v1h-3zM178 371h1v1h-1zM182 371h2v1h-2zM193 371h3v1h-3zM200 371h4v1h-4zM205 371h3v1h-3zM215 371h3v1h-3zM220 371h2v1h-2zM223 371h2v1h-2zM97 372h2v1h-2zM100 372h2v1h-2zM106 372h2v1h-2zM112 372h3v1h-3zM122 372h1v1h-1zM127 372h1v1h-1zM130 372h1v1h-1zM141 372h1v1h-1zM152 372h1v1h-1zM154 372h5v1h-5zM161 372h1v1h-1zM164 372h1v1h-1zM175 372h2v1h-2zM178 372h1v1h-1zM181 372h3v1h-3zM199 372h2v1h-2zM206 372h3v1h-3zM215 372h1v1h-1zM217 372h1v1h-1zM223 372h1v1h-1zM228 372h1v1h-1zM152 373h1v1h-1zM154 373h5v1h-5zM164 373h2v1h-2zM175 373h4v1h-4zM181 373h4v1h-4zM198 373h3v1h-3zM206 373h3v1h-3zM214 373h2v1h-2zM217 373h1v1h-1zM223 373h1v1h-1zM228 373h1v1h-1zM175 374h4v1h-4zM181 374h4v1h-4zM198 374h3v1h-3zM207 374h2v1h-2zM214 374h2v1h-2zM217 374h1v1h-1zM223 374h1v1h-1zM175 375h4v1h-4zM181 375h4v1h-4zM198 375h3v1h-3zM206 375h3v1h-3zM214 375h2v1h-2zM223 375h1v1h-1zM228 375h1v1h-1zM175 376h4v1h-4zM181 376h4v1h-4zM198 376h3v1h-3zM206 376h2v1h-2zM214 376h2v1h-2zM223 376h1v1h-1zM227 376h2v1h-2zM97 377h2v1h-2zM100 377h2v1h-2zM113 377h1v1h-1zM141 377h1v1h-1zM175 377h4v1h-4zM181 377h4v1h-4zM198 377h3v1h-3zM206 377h2v1h-2zM214 377h2v1h-2zM223 377h1v1h-1zM228 377h1v1h-1zM99 378h2v1h-2zM113 378h1v1h-1zM133 378h1v1h-1zM141 378h1v1h-1zM148 378h1v1h-1zM152 378h3v1h-3zM157 378h1v1h-1zM163 378h1v1h-1zM166 378h2v1h-2zM175 378h5v1h-5zM181 378h1v1h-1zM184 378h1v1h-1zM197 378h2v1h-2zM202 378h1v1h-1zM206 378h1v1h-1zM217 378h4v1h-4zM228 378h1v1h-1zM234 378h1v1h-1zM100 379h2v1h-2zM113 379h1v1h-1zM116 379h1v1h-1zM133 379h1v1h-1zM141 379h2v1h-2zM148 379h1v1h-1zM152 379h2v1h-2zM157 379h1v1h-1zM162 379h2v1h-2zM166 379h3v1h-3zM175 379h5v1h-5zM181 379h1v1h-1zM184 379h1v1h-1zM197 379h2v1h-2zM201 379h2v1h-2zM206 379h2v1h-2zM211 379h1v1h-1zM218 379h3v1h-3zM228 379h1v1h-1zM234 379h1v1h-1zM90 380h1v1h-1zM92 380h1v1h-1zM100 380h2v1h-2zM116 380h2v1h-2zM133 380h1v1h-1zM141 380h2v1h-2zM148 380h1v1h-1zM152 380h2v1h-2zM157 380h1v1h-1zM163 380h1v1h-1zM166 380h4v1h-4zM175 380h5v1h-5zM181 380h1v1h-1zM184 380h1v1h-1zM188 380h1v1h-1zM197 380h2v1h-2zM201 380h2v1h-2zM206 380h2v1h-2zM211 380h1v1h-1zM218 380h3v1h-3zM228 380h1v1h-1zM234 380h1v1h-1zM99 381h3v1h-3zM116 381h4v1h-4zM132 381h2v1h-2zM141 381h2v1h-2zM148 381h1v1h-1zM152 381h2v1h-2zM157 381h1v1h-1zM167 381h3v1h-3zM175 381h5v1h-5zM181 381h1v1h-1zM184 381h1v1h-1zM188 381h1v1h-1zM197 381h2v1h-2zM201 381h2v1h-2zM206 381h3v1h-3zM211 381h1v1h-1zM218 381h3v1h-3zM228 381h1v1h-1zM234 381h1v1h-1zM100 382h3v1h-3zM116 382h4v1h-4zM141 382h2v1h-2zM176 382h2v1h-2zM201 382h2v1h-2zM206 382h3v1h-3zM211 382h1v1h-1zM218 382h3v1h-3zM228 382h1v1h-1zM234 382h1v1h-1zM101 383h1v1h-1zM116 383h3v1h-3zM125 383h3v1h-3zM141 383h1v1h-1zM148 383h1v1h-1zM187 383h1v1h-1zM206 383h3v1h-3zM211 383h1v1h-1zM218 383h3v1h-3zM228 383h1v1h-1zM234 383h1v1h-1zM97 384h2v1h-2zM116 384h4v1h-4zM122 384h6v1h-6zM147 384h3v1h-3zM177 384h2v1h-2zM207 384h3v1h-3zM211 384h1v1h-1zM219 384h2v1h-2zM224 384h1v1h-1zM228 384h1v1h-1zM97 385h2v1h-2zM116 385h4v1h-4zM122 385h6v1h-6zM147 385h3v1h-3zM177 385h3v1h-3zM210 385h1v1h-1zM219 385h2v1h-2zM224 385h1v1h-1zM228 385h1v1h-1zM97 386h2v1h-2zM116 386h4v1h-4zM122 386h3v1h-3zM147 386h3v1h-3zM178 386h1v1h-1zM202 386h1v1h-1zM210 386h1v1h-1zM219 386h2v1h-2zM224 386h1v1h-1zM228 386h1v1h-1zM97 387h2v1h-2zM116 387h4v1h-4zM122 387h2v1h-2zM126 387h2v1h-2zM147 387h3v1h-3zM210 387h1v1h-1zM219 387h2v1h-2zM224 387h1v1h-1zM228 387h1v1h-1zM96 388h3v1h-3zM116 388h4v1h-4zM125 388h2v1h-2zM147 388h3v1h-3zM184 388h1v1h-1zM202 388h1v1h-1zM219 388h2v1h-2zM224 388h1v1h-1zM228 388h1v1h-1zM96 389h3v1h-3zM116 389h4v1h-4zM125 389h1v1h-1zM147 389h3v1h-3zM154 389h1v1h-1zM174 389h1v1h-1zM198 389h1v1h-1zM202 389h1v1h-1zM219 389h2v1h-2zM224 389h1v1h-1zM226 389h1v1h-1zM228 389h1v1h-1zM118 390h2v1h-2zM124 390h1v1h-1zM126 390h1v1h-1zM135 390h1v1h-1zM148 390h2v1h-2zM152 390h3v1h-3zM174 390h2v1h-2zM184 390h1v1h-1zM215 390h1v1h-1zM220 390h2v1h-2zM226 390h3v1h-3zM119 391h1v1h-1zM124 391h1v1h-1zM126 391h2v1h-2zM135 391h1v1h-1zM148 391h2v1h-2zM153 391h1v1h-1zM206 391h2v1h-2zM220 391h2v1h-2zM226 391h3v1h-3zM119 392h1v1h-1zM124 392h1v1h-1zM126 392h2v1h-2zM132 392h4v1h-4zM179 392h1v1h-1zM181 392h1v1h-1zM185 392h1v1h-1zM200 392h2v1h-2zM206 392h3v1h-3zM220 392h2v1h-2zM226 392h2v1h-2zM98 393h1v1h-1zM119 393h1v1h-1zM124 393h1v1h-1zM127 393h1v1h-1zM132 393h4v1h-4zM148 393h3v1h-3zM152 393h1v1h-1zM157 393h1v1h-1zM178 393h2v1h-2zM181 393h1v1h-1zM201 393h1v1h-1zM206 393h2v1h-2zM220 393h2v1h-2zM223 393h1v1h-1zM226 393h2v1h-2zM98 394h3v1h-3zM113 394h1v1h-1zM119 394h1v1h-1zM124 394h1v1h-1zM132 394h4v1h-4zM137 394h1v1h-1zM148 394h5v1h-5zM175 394h1v1h-1zM177 394h2v1h-2zM201 394h1v1h-1zM206 394h1v1h-1zM220 394h2v1h-2zM223 394h2v1h-2zM226 394h2v1h-2zM96 395h1v1h-1zM100 395h2v1h-2zM113 395h1v1h-1zM124 395h1v1h-1zM126 395h2v1h-2zM132 395h4v1h-4zM148 395h3v1h-3zM175 395h3v1h-3zM207 395h1v1h-1zM220 395h2v1h-2zM227 395h2v1h-2zM62 396h12v1h-12zM96 396h1v1h-1zM113 396h1v1h-1zM116 396h1v1h-1zM124 396h4v1h-4zM135 396h1v1h-1zM141 396h1v1h-1zM147 396h2v1h-2zM175 396h2v1h-2zM207 396h2v1h-2zM220 396h2v1h-2zM228 396h1v1h-1zM96 397h3v1h-3zM114 397h1v1h-1zM119 397h1v1h-1zM126 397h1v1h-1zM135 397h1v1h-1zM141 397h1v1h-1zM146 397h3v1h-3zM181 397h2v1h-2zM207 397h2v1h-2zM220 397h2v1h-2zM228 397h1v1h-1zM96 398h3v1h-3zM105 398h1v1h-1zM119 398h1v1h-1zM135 398h1v1h-1zM141 398h1v1h-1zM146 398h3v1h-3zM154 398h1v1h-1zM182 398h2v1h-2zM198 398h1v1h-1zM207 398h2v1h-2zM91 399h1v1h-1zM97 399h2v1h-2zM101 399h1v1h-1zM104 399h1v1h-1zM119 399h1v1h-1zM126 399h1v1h-1zM135 399h1v1h-1zM141 399h1v1h-1zM146 399h3v1h-3zM182 399h2v1h-2zM185 399h1v1h-1zM207 399h2v1h-2zM98 400h1v1h-1zM104 400h1v1h-1zM116 400h1v1h-1zM119 400h1v1h-1zM124 400h4v1h-4zM135 400h1v1h-1zM141 400h1v1h-1zM146 400h3v1h-3zM174 400h3v1h-3zM185 400h1v1h-1zM207 400h2v1h-2zM97 401h2v1h-2zM119 401h1v1h-1zM124 401h1v1h-1zM126 401h2v1h-2zM135 401h1v1h-1zM141 401h1v1h-1zM147 401h2v1h-2zM175 401h1v1h-1zM207 401h2v1h-2zM228 401h1v1h-1zM97 402h3v1h-3zM119 402h2v1h-2zM124 402h1v1h-1zM134 402h2v1h-2zM141 402h1v1h-1zM156 402h3v1h-3zM177 402h1v1h-1zM207 402h3v1h-3zM228 402h1v1h-1zM92 403h1v1h-1zM96 403h2v1h-2zM99 403h2v1h-2zM117 403h4v1h-4zM124 403h1v1h-1zM134 403h2v1h-2zM141 403h1v1h-1zM156 403h3v1h-3zM164 403h2v1h-2zM177 403h2v1h-2zM206 403h5v1h-5zM216 403h1v1h-1zM228 403h2v1h-2zM92 404h1v1h-1zM96 404h2v1h-2zM99 404h3v1h-3zM105 404h1v1h-1zM117 404h4v1h-4zM124 404h1v1h-1zM134 404h2v1h-2zM141 404h1v1h-1zM156 404h1v1h-1zM164 404h1v1h-1zM177 404h2v1h-2zM206 404h5v1h-5zM216 404h1v1h-1zM222 404h1v1h-1zM224 404h1v1h-1zM92 405h1v1h-1zM96 405h2v1h-2zM99 405h3v1h-3zM105 405h2v1h-2zM117 405h3v1h-3zM124 405h1v1h-1zM134 405h1v1h-1zM141 405h1v1h-1zM156 405h1v1h-1zM177 405h2v1h-2zM206 405h5v1h-5zM223 405h2v1h-2zM92 406h1v1h-1zM96 406h2v1h-2zM99 406h3v1h-3zM105 406h1v1h-1zM117 406h2v1h-2zM124 406h1v1h-1zM141 406h1v1h-1zM156 406h1v1h-1zM176 406h2v1h-2zM207 406h4v1h-4zM92 407h1v1h-1zM98 407h4v1h-4zM104 407h1v1h-1zM117 407h3v1h-3zM124 407h1v1h-1zM134 407h1v1h-1zM141 407h1v1h-1zM156 407h2v1h-2zM174 407h1v1h-1zM181 407h1v1h-1zM206 407h5v1h-5zM213 407h2v1h-2zM92 408h1v1h-1zM98 408h1v1h-1zM100 408h2v1h-2zM104 408h1v1h-1zM117 408h1v1h-1zM119 408h1v1h-1zM126 408h2v1h-2zM135 408h1v1h-1zM141 408h1v1h-1zM147 408h2v1h-2zM151 408h1v1h-1zM154 408h5v1h-5zM161 408h1v1h-1zM174 408h1v1h-1zM178 408h1v1h-1zM181 408h3v1h-3zM195 408h1v1h-1zM198 408h1v1h-1zM202 408h1v1h-1zM206 408h3v1h-3zM211 408h1v1h-1zM213 408h4v1h-4zM218 408h3v1h-3zM231 408h2v1h-2z"/><path fill="#0087ff" d="M63 272h1v1h-1zM64 273h1v1h-1zM64 274h1v1h-1zM63 275h1v1h-1zM68 276h1v1h-1zM69 278h1v1h-1zM69 279h2v1h-2zM63 280h3v1h-3zM69 280h2v1h-2zM79 280h4v1h-4zM84 281h1v1h-1zM84 292h1v1h-1zM84 293h1v1h-1zM85 294h1v1h-1zM81 295h1v1h-1zM91 297h1v1h-1zM62 313h8v1h-8zM73 316h3v1h-3zM73 317h3v1h-3zM102 317h2v1h-2zM98 318h2v1h-2zM106 318h2v1h-2zM81 319h1v1h-1zM97 319h1v1h-1zM108 319h1v1h-1zM112 319h3v1h-3zM81 320h1v1h-1zM91 320h1v1h-1zM111 320h1v1h-1zM116 320h2v1h-2zM81 321h1v1h-1zM91 321h1v1h-1zM111 321h1v1h-1zM118 321h1v1h-1zM97 322h1v1h-1zM108 322h1v1h-1zM111 322h1v1h-1zM118 322h1v1h-1zM98 323h2v1h-2zM107 323h1v1h-1zM111 323h1v1h-1zM113 323h5v1h-5zM77 329h3v1h-3zM62 330h12v1h-12zM90 331h8v1h-8zM103 331h10v1h-10zM114 331h3v1h-3zM121 331h6v1h-6zM133 331h1v1h-1zM138 331h2v1h-2zM142 331h2v1h-2zM62 332h22v1h-22zM87 332h4v1h-4zM93 332h3v1h-3zM103 332h2v1h-2zM107 332h6v1h-6zM116 332h1v1h-1zM121 332h2v1h-2zM125 332h2v1h-2zM133 332h1v1h-1zM137 332h2v1h-2zM140 332h4v1h-4zM86 333h1v1h-1zM91 333h1v1h-1zM85 334h1v1h-1zM139 334h1v1h-1zM84 335h1v1h-1zM84 336h1v1h-1zM139 336h1v1h-1zM74 337h2v1h-2zM83 337h2v1h-2zM86 337h1v1h-1zM89 337h1v1h-1zM139 337h1v1h-1zM74 338h2v1h-2zM83 338h1v1h-1zM85 338h2v1h-2zM139 338h1v1h-1zM81 339h1v1h-1zM83 339h1v1h-1zM87 339h1v1h-1zM139 339h1v1h-1zM139 340h1v1h-1zM139 341h1v1h-1zM84 343h1v1h-1zM139 343h1v1h-1zM139 344h1v1h-1zM89 345h1v1h-1zM139 345h1v1h-1zM139 346h1v1h-1zM84 347h1v1h-1zM139 347h1v1h-1zM84 348h1v1h-1zM139 348h1v1h-1zM84 349h1v1h-1zM84 354h1v1h-1zM86 354h1v1h-1zM62 355h10v1h-10zM83 355h1v1h-1zM86 355h1v1h-1zM139 355h1v1h-1zM74 356h3v1h-3zM139 356h1v1h-1zM139 357h1v1h-1zM139 358h1v1h-1zM139 359h1v1h-1zM139 360h1v1h-1zM139 361h1v1h-1zM139 362h1v1h-1zM84 363h1v1h-1zM86 363h1v1h-1zM139 363h1v1h-1zM84 364h3v1h-3zM139 364h1v1h-1zM86 365h1v1h-1zM139 365h1v1h-1zM86 366h1v1h-1zM139 366h1v1h-1zM139 367h1v1h-1zM139 368h1v1h-1zM73 369h3v1h-3zM139 369h1v1h-1zM73 370h3v1h-3zM139 370h1v1h-1zM139 371h1v1h-1zM92 372h1v1h-1zM139 372h1v1h-1zM89 374h1v1h-1zM84 375h1v1h-1zM89 375h2v1h-2zM139 377h1v1h-1zM139 378h1v1h-1zM139 379h1v1h-1zM139 380h1v1h-1zM139 381h1v1h-1zM139 382h1v1h-1zM84 384h1v1h-1zM81 385h1v1h-1zM86 385h1v1h-1zM139 385h1v1h-1zM72 386h3v1h-3zM87 386h1v1h-1zM139 386h1v1h-1zM166 386h1v1h-1zM88 387h1v1h-1zM92 387h1v1h-1zM139 387h1v1h-1zM166 387h1v1h-1zM89 388h1v1h-1zM139 388h1v1h-1zM89 389h1v1h-1zM166 389h1v1h-1zM89 390h1v1h-1zM166 390h1v1h-1zM139 391h1v1h-1zM165 391h1v1h-1zM92 392h1v1h-1zM139 392h1v1h-1zM165 392h2v1h-2zM62 393h10v1h-10zM75 394h2v1h-2zM165 394h1v1h-1zM78 395h1v1h-1zM165 395h2v1h-2zM165 396h2v1h-2zM89 397h1v1h-1zM165 397h1v1h-1zM138 398h1v1h-1zM79 400h1v1h-1zM88 400h1v1h-1zM80 401h1v1h-1zM87 401h1v1h-1zM62 402h11v1h-11zM86 402h1v1h-1zM139 402h1v1h-1zM84 403h1v1h-1zM139 403h1v1h-1zM83 404h1v1h-1zM139 404h1v1h-1zM62 405h11v1h-11zM83 405h1v1h-1zM139 405h1v1h-1zM89 406h1v1h-1zM139 406h1v1h-1zM139 407h1v1h-1zM139 408h1v1h-1z"/><path fill="#00a8ff" d="M62 273h1v1h-1zM62 274h1v1h-1zM65 276h3v1h-3zM63 277h1v1h-1zM68 277h1v1h-1zM67 278h2v1h-2zM63 279h1v1h-1zM65 279h1v1h-1zM91 296h1v1h-1zM62 297h8v1h-8zM62 308h12v1h-12zM70 313h4v1h-4zM76 316h1v1h-1zM76 317h1v1h-1zM81 318h1v1h-1zM101 318h1v1h-1zM104 318h1v1h-1zM100 319h1v1h-1zM105 319h1v1h-1zM97 320h1v1h-1zM108 320h1v1h-1zM115 320h1v1h-1zM97 321h1v1h-1zM108 321h1v1h-1zM81 322h1v1h-1zM100 322h6v1h-6zM81 323h1v1h-1zM112 323h1v1h-1zM81 324h1v1h-1zM62 326h10v1h-10zM62 328h10v1h-10zM80 329h1v1h-1zM74 330h2v1h-2zM62 331h17v1h-17zM84 332h3v1h-3zM91 332h2v1h-2zM84 333h2v1h-2zM139 333h1v1h-1zM84 334h1v1h-1zM139 335h1v1h-1zM90 336h1v1h-1zM93 336h1v1h-1zM76 337h2v1h-2zM82 337h1v1h-1zM76 338h2v1h-2zM89 338h1v1h-1zM84 340h1v1h-1zM88 340h1v1h-1zM84 342h1v1h-1zM139 342h1v1h-1zM84 344h1v1h-1zM84 346h1v1h-1zM139 349h1v1h-1zM139 350h1v1h-1zM85 351h1v1h-1zM139 351h1v1h-1zM95 352h45v1h-45zM86 353h1v1h-1zM95 353h45v1h-45zM139 354h1v1h-1zM72 355h2v1h-2zM77 356h1v1h-1zM82 356h1v1h-1zM93 356h1v1h-1zM76 369h2v1h-2zM82 369h1v1h-1zM76 370h1v1h-1zM82 370h1v1h-1zM139 373h1v1h-1zM62 374h10v1h-10zM83 374h1v1h-1zM139 374h1v1h-1zM139 375h1v1h-1zM84 376h1v1h-1zM139 376h1v1h-1zM62 377h11v1h-11zM83 377h1v1h-1zM139 383h1v1h-1zM139 384h1v1h-1zM82 385h1v1h-1zM85 385h1v1h-1zM75 386h2v1h-2zM62 387h10v1h-10zM139 389h1v1h-1zM139 390h1v1h-1zM89 391h1v1h-1zM89 392h1v1h-1zM72 393h3v1h-3zM139 393h1v1h-1zM77 394h1v1h-1zM89 394h1v1h-1zM89 395h1v1h-1zM89 396h1v1h-1zM62 398h9v1h-9zM88 399h1v1h-1zM139 401h1v1h-1zM73 402h2v1h-2zM84 402h2v1h-2zM62 403h11v1h-11zM83 403h1v1h-1zM62 404h11v1h-11zM73 405h3v1h-3z"/><path fill="#00c9ff" d="M63 273h1v1h-1zM63 274h1v1h-1zM64 277h1v1h-1zM67 277h1v1h-1zM63 278h1v1h-1zM66 278h1v1h-1zM64 279h1v1h-1zM84 282h1v1h-1zM84 283h1v1h-1zM84 291h1v1h-1zM84 294h1v1h-1zM70 297h4v1h-4zM62 305h11v1h-11zM81 306h1v1h-1zM81 307h1v1h-1zM74 308h2v1h-2zM62 309h11v1h-11zM62 310h11v1h-11zM62 311h11v1h-11zM62 312h11v1h-11zM74 313h2v1h-2zM81 314h1v1h-1zM81 315h1v1h-1zM77 316h2v1h-2zM77 317h2v1h-2zM102 318h2v1h-2zM98 319h2v1h-2zM101 319h4v1h-4zM106 319h2v1h-2zM98 320h10v1h-10zM112 320h3v1h-3zM98 321h10v1h-10zM112 321h6v1h-6zM98 322h2v1h-2zM106 322h2v1h-2zM112 322h6v1h-6zM72 326h3v1h-3zM62 327h10v1h-10zM72 328h3v1h-3zM81 329h1v1h-1zM76 330h3v1h-3zM79 331h11v1h-11zM139 332h1v1h-1zM91 336h1v1h-1zM78 337h1v1h-1zM78 338h1v1h-1zM82 338h1v1h-1zM90 339h1v1h-1zM86 340h1v1h-1zM90 340h1v1h-1zM84 341h1v1h-1zM89 341h1v1h-1zM89 342h1v1h-1zM90 343h1v1h-1zM84 345h1v1h-1zM82 350h1v1h-1zM94 352h1v1h-1zM83 353h1v1h-1zM87 353h3v1h-3zM94 353h1v1h-1zM83 354h1v1h-1zM90 354h1v1h-1zM74 355h2v1h-2zM82 355h1v1h-1zM90 355h1v1h-1zM78 356h2v1h-2zM90 356h3v1h-3zM78 369h1v1h-1zM77 370h2v1h-2zM72 374h3v1h-3zM62 375h9v1h-9zM83 375h1v1h-1zM62 376h9v1h-9zM83 376h1v1h-1zM73 377h2v1h-2zM83 385h2v1h-2zM77 386h2v1h-2zM86 386h1v1h-1zM72 387h3v1h-3zM88 388h1v1h-1zM75 393h1v1h-1zM89 393h1v1h-1zM78 394h1v1h-1zM71 398h3v1h-3zM88 398h1v1h-1zM62 399h11v1h-11zM80 400h1v1h-1zM87 400h1v1h-1zM81 401h1v1h-1zM86 401h1v1h-1zM75 402h2v1h-2zM83 402h1v1h-1zM73 403h2v1h-2zM73 404h2v1h-2zM76 405h1v1h-1zM82 405h1v1h-1z"/><path fill="#00eaff" d="M65 277h2v1h-2zM64 278h2v1h-2zM84 284h1v1h-1zM84 290h1v1h-1zM74 297h2v1h-2zM62 298h10v1h-10zM62 299h10v1h-10zM62 300h10v1h-10zM62 301h10v1h-10zM62 302h10v1h-10zM62 303h10v1h-10zM62 304h10v1h-10zM73 305h2v1h-2zM76 308h2v1h-2zM73 309h2v1h-2zM73 310h2v1h-2zM73 311h2v1h-2zM73 312h2v1h-2zM76 313h2v1h-2zM79 316h2v1h-2zM79 317h2v1h-2zM81 325h1v1h-1zM75 326h2v1h-2zM72 327h2v1h-2zM75 328h2v1h-2zM91 328h1v1h-1zM85 329h2v1h-2zM79 330h2v1h-2zM92 336h1v1h-1zM79 337h3v1h-3zM90 337h1v1h-1zM93 337h1v1h-1zM79 338h3v1h-3zM90 338h1v1h-1zM93 338h1v1h-1zM82 339h1v1h-1zM93 339h1v1h-1zM81 340h1v1h-1zM87 340h1v1h-1zM93 340h1v1h-1zM85 341h1v1h-1zM90 341h1v1h-1zM93 341h1v1h-1zM90 342h1v1h-1zM93 342h1v1h-1zM85 343h1v1h-1zM88 343h1v1h-1zM93 343h1v1h-1zM88 344h1v1h-1zM90 344h1v1h-1zM93 344h1v1h-1zM93 345h1v1h-1zM93 346h1v1h-1zM85 347h1v1h-1zM93 347h1v1h-1zM85 348h1v1h-1zM93 348h1v1h-1zM81 349h1v1h-1zM83 349h1v1h-1zM85 349h1v1h-1zM93 349h1v1h-1zM85 350h1v1h-1zM93 350h1v1h-1zM93 351h1v1h-1zM93 352h1v1h-1zM62 353h10v1h-10zM93 353h1v1h-1zM93 354h1v1h-1zM76 355h2v1h-2zM93 355h1v1h-1zM80 356h2v1h-2zM79 369h3v1h-3zM79 370h3v1h-3zM75 374h2v1h-2zM82 374h1v1h-1zM71 375h3v1h-3zM71 376h3v1h-3zM75 377h2v1h-2zM82 377h1v1h-1zM79 386h1v1h-1zM75 387h1v1h-1zM87 387h1v1h-1zM88 389h1v1h-1zM62 392h9v1h-9zM76 393h2v1h-2zM139 394h1v1h-1zM79 395h1v1h-1zM139 395h1v1h-1zM79 396h1v1h-1zM79 397h1v1h-1zM88 397h1v1h-1zM74 398h2v1h-2zM73 399h2v1h-2zM87 399h1v1h-1zM139 400h1v1h-1zM82 401h4v1h-4zM77 402h2v1h-2zM82 402h1v1h-1zM75 403h2v1h-2zM82 403h1v1h-1zM75 404h2v1h-2zM82 404h1v1h-1zM77 405h2v1h-2z"/><path fill="#0066ff" d="M70 278h1v1h-1zM62 280h1v1h-1zM66 280h3v1h-3zM71 280h8v1h-8zM83 280h1v1h-1zM85 288h1v1h-1zM85 289h1v1h-1zM81 296h1v1h-1zM77 306h4v1h-4zM78 307h3v1h-3zM79 314h2v1h-2zM62 316h11v1h-11zM62 317h11v1h-11zM101 317h1v1h-1zM104 317h1v1h-1zM111 319h1v1h-1zM118 320h1v1h-1zM106 323h1v1h-1zM118 323h1v1h-1zM79 325h2v1h-2zM74 329h3v1h-3zM90 329h1v1h-1zM108 330h1v1h-1zM98 331h5v1h-5zM113 331h1v1h-1zM117 331h4v1h-4zM127 331h6v1h-6zM134 331h4v1h-4zM140 331h2v1h-2zM144 331h1v1h-1zM96 332h7v1h-7zM105 332h2v1h-2zM113 332h3v1h-3zM117 332h4v1h-4zM123 332h2v1h-2zM127 332h6v1h-6zM134 332h3v1h-3zM144 332h1v1h-1zM89 334h3v1h-3zM92 335h1v1h-1zM86 336h2v1h-2zM62 337h12v1h-12zM62 338h12v1h-12zM84 338h1v1h-1zM88 338h1v1h-1zM85 339h2v1h-2zM85 340h1v1h-1zM89 340h1v1h-1zM158 341h1v1h-1zM89 343h1v1h-1zM89 344h1v1h-1zM81 350h1v1h-1zM83 350h1v1h-1zM94 351h1v1h-1zM154 351h1v1h-1zM80 352h3v1h-3zM151 352h1v1h-1zM154 352h3v1h-3zM160 352h3v1h-3zM84 353h1v1h-1zM149 353h1v1h-1zM152 353h1v1h-1zM156 353h1v1h-1zM158 353h1v1h-1zM161 353h1v1h-1zM163 353h1v1h-1zM85 354h1v1h-1zM94 354h1v1h-1zM84 355h2v1h-2zM87 355h1v1h-1zM72 356h2v1h-2zM83 356h1v1h-1zM89 356h1v1h-1zM90 357h1v1h-1zM84 360h1v1h-1zM91 360h1v1h-1zM91 361h1v1h-1zM84 362h1v1h-1zM86 362h1v1h-1zM91 362h1v1h-1zM87 363h1v1h-1zM91 364h1v1h-1zM85 366h1v1h-1zM87 366h1v1h-1zM90 367h2v1h-2zM87 368h1v1h-1zM91 368h1v1h-1zM62 369h11v1h-11zM83 369h1v1h-1zM87 369h2v1h-2zM62 370h11v1h-11zM83 370h1v1h-1zM85 370h1v1h-1zM81 371h2v1h-2zM85 371h1v1h-1zM92 371h1v1h-1zM84 372h1v1h-1zM91 372h1v1h-1zM79 373h4v1h-4zM92 373h1v1h-1zM84 374h2v1h-2zM90 374h1v1h-1zM138 374h1v1h-1zM103 375h1v1h-1zM110 375h2v1h-2zM114 375h1v1h-1zM123 375h1v1h-1zM128 375h3v1h-3zM138 375h1v1h-1zM85 376h1v1h-1zM89 376h1v1h-1zM110 376h1v1h-1zM129 376h1v1h-1zM84 377h1v1h-1zM86 377h1v1h-1zM80 378h3v1h-3zM86 378h1v1h-1zM88 378h1v1h-1zM130 379h1v1h-1zM129 380h1v1h-1zM82 381h1v1h-1zM81 382h4v1h-4zM88 382h2v1h-2zM80 383h1v1h-1zM92 383h1v1h-1zM138 383h1v1h-1zM83 384h1v1h-1zM85 384h1v1h-1zM194 384h1v1h-1zM88 385h1v1h-1zM166 385h1v1h-1zM62 386h10v1h-10zM92 386h1v1h-1zM165 386h1v1h-1zM91 387h1v1h-1zM165 387h1v1h-1zM92 388h1v1h-1zM129 388h1v1h-1zM165 388h2v1h-2zM90 389h1v1h-1zM165 389h1v1h-1zM165 390h1v1h-1zM92 391h1v1h-1zM166 391h1v1h-1zM91 392h1v1h-1zM90 393h1v1h-1zM92 393h1v1h-1zM165 393h2v1h-2zM72 394h3v1h-3zM166 394h1v1h-1zM111 395h1v1h-1zM78 396h1v1h-1zM78 397h1v1h-1zM166 397h1v1h-1zM165 398h2v1h-2zM130 399h1v1h-1zM165 399h2v1h-2zM77 400h2v1h-2zM79 401h1v1h-1zM89 405h1v1h-1zM81 406h2v1h-2zM87 406h1v1h-1zM90 406h1v1h-1zM130 406h1v1h-1zM87 407h2v1h-2zM90 407h1v1h-1z"/><path fill="#6fff8f" d="M62 281h12v1h-12zM83 283h1v1h-1zM83 291h1v1h-1zM62 292h9v1h-9zM72 293h3v1h-3zM77 294h2v1h-2zM82 294h1v1h-1zM89 295h2v1h-2zM81 297h1v1h-1zM83 297h1v1h-1zM78 298h1v1h-1zM87 298h1v1h-1zM90 298h1v1h-1zM77 299h2v1h-2zM77 300h2v1h-2zM77 301h2v1h-2zM87 301h1v1h-1zM77 302h2v1h-2zM77 303h2v1h-2zM78 304h1v1h-1zM82 304h1v1h-1zM91 304h1v1h-1zM81 305h1v1h-1zM91 305h1v1h-1zM91 306h1v1h-1zM85 307h1v1h-1zM91 307h1v1h-1zM81 308h1v1h-1zM80 309h1v1h-1zM80 310h1v1h-1zM80 311h1v1h-1zM80 312h1v1h-1zM82 312h1v1h-1zM82 313h1v1h-1zM91 314h1v1h-1zM91 315h1v1h-1zM91 316h1v1h-1zM91 317h1v1h-1zM84 318h2v1h-2zM86 322h1v1h-1zM86 323h1v1h-1zM91 323h1v1h-1zM79 327h1v1h-1zM81 328h1v1h-1zM84 328h1v1h-1zM83 329h1v1h-1zM90 347h2v1h-2zM90 348h2v1h-2zM90 349h2v1h-2zM90 350h2v1h-2zM90 351h1v1h-1zM79 353h1v1h-1zM77 354h1v1h-1zM79 375h1v1h-1zM81 375h1v1h-1zM79 376h1v1h-1zM81 376h1v1h-1zM81 387h1v1h-1zM77 388h1v1h-1zM75 389h2v1h-2zM75 390h2v1h-2zM87 390h1v1h-1zM76 391h1v1h-1zM77 392h2v1h-2zM80 394h1v1h-1zM80 395h1v1h-1zM87 396h1v1h-1zM79 398h1v1h-1zM86 398h1v1h-1zM80 399h1v1h-1zM82 399h2v1h-2zM85 399h1v1h-1z"/><path fill="#8fff6f" d="M74 281h9v1h-9zM71 292h3v1h-3zM75 293h1v1h-1zM82 293h1v1h-1zM79 294h3v1h-3zM88 295h1v1h-1zM79 298h1v1h-1zM86 298h1v1h-1zM79 299h1v1h-1zM79 300h1v1h-1zM90 300h1v1h-1zM79 301h1v1h-1zM86 301h1v1h-1zM79 302h1v1h-1zM91 302h1v1h-1zM79 303h1v1h-1zM91 303h1v1h-1zM79 304h1v1h-1zM83 304h1v1h-1zM83 305h1v1h-1zM84 306h2v1h-2zM84 307h1v1h-1zM89 309h1v1h-1zM84 310h2v1h-2zM91 310h1v1h-1zM84 311h1v1h-1zM91 311h1v1h-1zM81 312h1v1h-1zM83 312h1v1h-1zM89 312h1v1h-1zM89 313h2v1h-2zM84 319h2v1h-2zM90 319h1v1h-1zM90 322h1v1h-1zM91 325h1v1h-1zM81 326h1v1h-1zM80 327h1v1h-1zM89 328h1v1h-1zM80 353h2v1h-2zM78 354h1v1h-1zM80 375h1v1h-1zM80 376h1v1h-1zM78 388h2v1h-2zM82 388h4v1h-4zM77 389h2v1h-2zM86 389h1v1h-1zM77 390h2v1h-2zM77 391h2v1h-2zM87 391h1v1h-1zM79 392h1v1h-1zM87 392h1v1h-1zM80 393h1v1h-1zM87 394h1v1h-1zM87 395h1v1h-1zM81 397h1v1h-1zM80 398h1v1h-1zM81 399h1v1h-1zM84 399h1v1h-1z"/><path fill="#2dffd1" d="M83 281h1v1h-1zM84 286h1v1h-1zM84 287h1v1h-1zM84 288h1v1h-1zM83 292h1v1h-1zM73 294h3v1h-3zM78 297h2v1h-2zM74 298h2v1h-2zM74 299h2v1h-2zM87 299h1v1h-1zM91 299h1v1h-1zM74 300h2v1h-2zM87 300h1v1h-1zM91 300h1v1h-1zM74 301h2v1h-2zM74 302h2v1h-2zM74 303h2v1h-2zM74 304h2v1h-2zM77 305h2v1h-2zM79 308h2v1h-2zM91 308h1v1h-1zM77 309h1v1h-1zM77 310h1v1h-1zM89 310h1v1h-1zM77 311h1v1h-1zM89 311h1v1h-1zM77 312h1v1h-1zM79 313h2v1h-2zM91 313h1v1h-1zM88 314h2v1h-2zM89 317h1v1h-1zM91 318h1v1h-1zM87 322h3v1h-3zM91 322h1v1h-1zM87 323h1v1h-1zM89 323h1v1h-1zM79 326h1v1h-1zM76 327h1v1h-1zM91 327h1v1h-1zM79 328h1v1h-1zM86 328h1v1h-1zM89 329h1v1h-1zM84 330h1v1h-1zM87 330h2v1h-2zM82 340h1v1h-1zM83 341h1v1h-1zM86 341h2v1h-2zM86 342h2v1h-2zM86 343h2v1h-2zM86 344h2v1h-2zM83 345h1v1h-1zM86 345h2v1h-2zM92 345h1v1h-1zM86 346h4v1h-4zM86 347h3v1h-3zM86 348h3v1h-3zM82 349h1v1h-1zM86 349h3v1h-3zM86 350h2v1h-2zM86 351h1v1h-1zM92 352h1v1h-1zM75 353h2v1h-2zM82 353h1v1h-1zM73 354h2v1h-2zM79 355h1v1h-1zM81 355h1v1h-1zM79 374h1v1h-1zM76 375h1v1h-1zM76 376h1v1h-1zM79 377h1v1h-1zM81 377h1v1h-1zM81 386h1v1h-1zM78 387h1v1h-1zM73 388h2v1h-2zM71 389h3v1h-3zM87 389h1v1h-1zM71 390h3v1h-3zM71 391h3v1h-3zM74 392h2v1h-2zM88 392h1v1h-1zM79 393h1v1h-1zM88 393h1v1h-1zM88 394h1v1h-1zM88 395h1v1h-1zM78 398h1v1h-1zM87 398h1v1h-1zM77 399h2v1h-2zM86 399h1v1h-1zM82 400h4v1h-4zM80 402h2v1h-2zM78 403h2v1h-2zM78 404h2v1h-2z"/><path fill="#d1ff2d" d="M62 282h15v1h-15zM82 282h1v1h-1zM83 285h1v1h-1zM76 292h2v1h-2zM78 293h1v1h-1zM89 296h1v1h-1zM89 297h1v1h-1zM81 298h1v1h-1zM81 299h1v1h-1zM88 299h1v1h-1zM89 300h1v1h-1zM88 301h2v1h-2zM81 302h1v1h-1zM81 303h1v1h-1zM83 306h1v1h-1zM89 306h2v1h-2zM82 307h1v1h-1zM88 307h3v1h-3zM88 308h1v1h-1zM90 310h1v1h-1zM90 311h1v1h-1zM82 314h1v1h-1zM87 314h1v1h-1zM87 315h1v1h-1zM82 318h1v1h-1zM82 319h1v1h-1zM87 321h1v1h-1zM89 321h1v1h-1zM87 324h1v1h-1zM88 325h2v1h-2zM81 327h1v1h-1zM87 327h1v1h-1zM80 389h6v1h-6zM80 390h1v1h-1zM80 391h1v1h-1zM86 391h1v1h-1zM81 394h1v1h-1zM81 395h1v1h-1zM86 396h1v1h-1zM82 397h1v1h-1zM84 398h1v1h-1z"/><path fill="#f2ff0c" d="M77 282h5v1h-5zM62 283h15v1h-15zM82 283h1v1h-1zM83 286h1v1h-1zM83 288h1v1h-1zM83 289h1v1h-1zM78 292h2v1h-2zM79 293h3v1h-3zM84 296h1v1h-1zM84 297h1v1h-1zM82 298h2v1h-2zM85 298h1v1h-1zM88 298h2v1h-2zM85 299h1v1h-1zM89 299h1v1h-1zM81 300h1v1h-1zM85 300h1v1h-1zM81 301h1v1h-1zM85 301h1v1h-1zM82 303h2v1h-2zM90 304h1v1h-1zM89 305h2v1h-2zM86 306h1v1h-1zM88 306h1v1h-1zM86 307h2v1h-2zM85 308h1v1h-1zM87 308h1v1h-1zM85 309h1v1h-1zM82 315h1v1h-1zM82 316h1v1h-1zM87 316h1v1h-1zM82 317h1v1h-1zM84 317h1v1h-1zM83 318h1v1h-1zM86 318h1v1h-1zM89 318h1v1h-1zM86 319h1v1h-1zM82 320h1v1h-1zM86 321h1v1h-1zM86 324h1v1h-1zM90 324h1v1h-1zM87 325h1v1h-1zM90 325h1v1h-1zM87 326h1v1h-1zM89 326h1v1h-1zM86 327h1v1h-1zM88 327h2v1h-2zM82 328h2v1h-2zM81 390h2v1h-2zM85 390h1v1h-1zM81 391h1v1h-1zM81 392h1v1h-1zM86 392h1v1h-1zM81 393h1v1h-1zM86 395h1v1h-1zM83 397h1v1h-1zM85 397h1v1h-1z"/><path fill="#4effb0" d="M83 282h1v1h-1zM62 293h10v1h-10zM76 294h1v1h-1zM83 295h1v1h-1zM83 296h1v1h-1zM80 297h1v1h-1zM82 297h1v1h-1zM76 298h2v1h-2zM76 299h1v1h-1zM86 299h1v1h-1zM76 300h1v1h-1zM86 300h1v1h-1zM76 301h1v1h-1zM91 301h1v1h-1zM76 302h1v1h-1zM76 303h1v1h-1zM76 304h2v1h-2zM79 305h2v1h-2zM82 305h1v1h-1zM78 309h2v1h-2zM91 309h1v1h-1zM78 310h2v1h-2zM88 310h1v1h-1zM78 311h2v1h-2zM88 311h1v1h-1zM78 312h2v1h-2zM91 312h1v1h-1zM81 313h1v1h-1zM81 316h1v1h-1zM81 317h1v1h-1zM88 317h1v1h-1zM80 326h1v1h-1zM91 326h1v1h-1zM77 327h2v1h-2zM80 328h1v1h-1zM85 328h1v1h-1zM87 328h1v1h-1zM90 328h1v1h-1zM82 329h1v1h-1zM88 329h1v1h-1zM82 330h2v1h-2zM82 341h1v1h-1zM82 342h1v1h-1zM82 343h1v1h-1zM82 344h1v1h-1zM82 345h1v1h-1zM91 345h1v1h-1zM82 346h1v1h-1zM90 346h3v1h-3zM82 347h1v1h-1zM89 347h1v1h-1zM92 347h1v1h-1zM82 348h1v1h-1zM89 348h1v1h-1zM92 348h1v1h-1zM89 349h1v1h-1zM92 349h1v1h-1zM88 350h2v1h-2zM92 350h1v1h-1zM87 351h3v1h-3zM91 351h2v1h-2zM87 352h5v1h-5zM77 353h2v1h-2zM75 354h2v1h-2zM82 354h1v1h-1zM80 355h1v1h-1zM80 374h2v1h-2zM77 375h2v1h-2zM77 376h2v1h-2zM80 377h1v1h-1zM79 387h2v1h-2zM82 387h4v1h-4zM75 388h2v1h-2zM86 388h1v1h-1zM74 389h1v1h-1zM74 390h1v1h-1zM74 391h2v1h-2zM76 392h1v1h-1zM80 396h1v1h-1zM80 397h1v1h-1zM87 397h1v1h-1zM79 399h1v1h-1zM80 403h2v1h-2zM80 404h2v1h-2z"/><path fill="#ffea00" d="M77 283h5v1h-5zM83 287h1v1h-1zM62 291h14v1h-14zM82 291h1v1h-1zM80 292h2v1h-2zM88 296h1v1h-1zM84 298h1v1h-1zM88 302h3v1h-3zM89 303h2v1h-2zM89 304h1v1h-1zM84 305h1v1h-1zM88 305h1v1h-1zM87 306h1v1h-1zM83 307h1v1h-1zM84 308h1v1h-1zM86 308h1v1h-1zM84 309h1v1h-1zM86 309h2v1h-2zM82 311h2v1h-2zM87 313h1v1h-1zM86 314h1v1h-1zM85 315h2v1h-2zM83 317h1v1h-1zM85 317h1v1h-1zM87 317h1v1h-1zM87 318h2v1h-2zM83 319h1v1h-1zM87 319h1v1h-1zM86 320h2v1h-2zM89 320h1v1h-1zM82 321h1v1h-1zM88 321h1v1h-1zM85 322h1v1h-1zM85 323h1v1h-1zM86 325h1v1h-1zM86 326h1v1h-1zM88 326h1v1h-1zM85 327h1v1h-1zM83 390h2v1h-2zM82 391h1v1h-1zM86 393h1v1h-1zM86 394h1v1h-1zM82 396h1v1h-1zM85 396h1v1h-1zM84 397h1v1h-1z"/><path fill="#0000a0" d="M106 283h1v1h-1zM106 284h1v1h-1zM106 285h1v1h-1zM106 286h1v1h-1zM166 289h1v1h-1zM166 290h1v1h-1zM98 403h1v1h-1zM98 404h1v1h-1zM98 405h1v1h-1zM98 406h1v1h-1z"/><path fill="#ffa800" d="M62 284h15v1h-15zM62 290h14v1h-14zM80 291h2v1h-2zM86 297h2v1h-2zM86 302h1v1h-1zM85 303h1v1h-1zM85 304h1v1h-1zM87 304h1v1h-1zM86 305h1v1h-1zM83 308h1v1h-1zM82 309h2v1h-2zM82 310h1v1h-1zM86 310h1v1h-1zM86 311h1v1h-1zM86 313h1v1h-1zM83 315h1v1h-1zM88 319h1v1h-1zM83 320h1v1h-1zM88 320h1v1h-1zM85 321h1v1h-1zM84 322h1v1h-1zM84 323h1v1h-1zM85 324h1v1h-1zM82 325h1v1h-1zM85 325h1v1h-1zM85 326h1v1h-1zM84 327h1v1h-1zM83 391h2v1h-2zM85 392h1v1h-1zM82 393h1v1h-1zM82 394h1v1h-1zM85 395h1v1h-1zM84 396h1v1h-1z"/><path fill="#ff8700" d="M77 284h5v1h-5zM82 285h1v1h-1zM76 290h6v1h-6zM86 296h2v1h-2zM82 300h1v1h-1zM82 301h1v1h-1zM87 303h1v1h-1zM86 304h1v1h-1zM85 312h2v1h-2zM84 313h1v1h-1zM83 321h2v1h-2zM84 324h1v1h-1zM84 325h1v1h-1zM82 326h1v1h-1zM84 326h1v1h-1zM82 327h1v1h-1zM85 393h1v1h-1zM85 394h1v1h-1zM83 395h1v1h-1z"/><path fill="#ffc900" d="M82 284h1v1h-1zM82 290h1v1h-1zM76 291h4v1h-4zM85 296h1v1h-1zM85 297h1v1h-1zM88 297h1v1h-1zM82 299h3v1h-3zM84 300h1v1h-1zM84 301h1v1h-1zM82 302h4v1h-4zM87 302h1v1h-1zM84 303h1v1h-1zM88 303h1v1h-1zM84 304h1v1h-1zM88 304h1v1h-1zM85 305h1v1h-1zM87 305h1v1h-1zM82 308h1v1h-1zM83 310h1v1h-1zM87 310h1v1h-1zM87 311h1v1h-1zM84 312h1v1h-1zM87 312h1v1h-1zM83 314h3v1h-3zM84 315h1v1h-1zM83 316h4v1h-4zM86 317h1v1h-1zM89 319h1v1h-1zM84 320h2v1h-2zM82 322h1v1h-1zM82 323h1v1h-1zM82 324h1v1h-1zM85 391h1v1h-1zM82 392h1v1h-1zM82 395h1v1h-1zM83 396h1v1h-1z"/><path fill="#b0ff4e" d="M83 284h1v1h-1zM83 290h1v1h-1zM74 292h2v1h-2zM82 292h1v1h-1zM76 293h2v1h-2zM84 295h4v1h-4zM80 298h1v1h-1zM80 299h1v1h-1zM90 299h1v1h-1zM80 300h1v1h-1zM88 300h1v1h-1zM80 301h1v1h-1zM90 301h1v1h-1zM80 302h1v1h-1zM80 303h1v1h-1zM80 304h2v1h-2zM82 306h1v1h-1zM89 308h2v1h-2zM81 309h1v1h-1zM88 309h1v1h-1zM90 309h1v1h-1zM81 310h1v1h-1zM81 311h1v1h-1zM85 311h1v1h-1zM88 312h1v1h-1zM90 312h1v1h-1zM83 313h1v1h-1zM88 313h1v1h-1zM90 314h1v1h-1zM90 315h1v1h-1zM90 316h1v1h-1zM90 317h1v1h-1zM90 318h1v1h-1zM90 323h1v1h-1zM88 324h2v1h-2zM91 324h1v1h-1zM90 326h1v1h-1zM90 327h1v1h-1zM88 328h1v1h-1zM79 354h3v1h-3zM80 388h2v1h-2zM79 389h1v1h-1zM79 390h1v1h-1zM86 390h1v1h-1zM79 391h1v1h-1zM80 392h1v1h-1zM87 393h1v1h-1zM81 396h1v1h-1zM86 397h1v1h-1zM81 398h3v1h-3zM85 398h1v1h-1z"/><path fill="#ff6600" d="M62 285h18v1h-18zM81 285h1v1h-1zM82 289h1v1h-1zM83 300h1v1h-1zM83 301h1v1h-1zM86 303h1v1h-1zM85 313h1v1h-1zM83 322h1v1h-1zM83 323h1v1h-1zM83 327h1v1h-1zM83 392h2v1h-2zM83 394h1v1h-1zM84 395h1v1h-1z"/><path fill="#ff4500" d="M80 285h1v1h-1zM82 286h1v1h-1zM82 287h1v1h-1zM82 288h1v1h-1zM62 289h11v1h-11zM83 324h1v1h-1zM83 325h1v1h-1zM83 326h1v1h-1zM83 393h2v1h-2zM84 394h1v1h-1z"/><path fill="#0cfff2" d="M84 285h1v1h-1zM84 289h1v1h-1zM83 293h1v1h-1zM62 294h11v1h-11zM83 294h1v1h-1zM82 295h1v1h-1zM91 295h1v1h-1zM82 296h1v1h-1zM90 296h1v1h-1zM76 297h2v1h-2zM90 297h1v1h-1zM72 298h2v1h-2zM91 298h1v1h-1zM72 299h2v1h-2zM72 300h2v1h-2zM72 301h2v1h-2zM72 302h2v1h-2zM72 303h2v1h-2zM72 304h2v1h-2zM75 305h2v1h-2zM78 308h1v1h-1zM75 309h2v1h-2zM75 310h2v1h-2zM75 311h2v1h-2zM75 312h2v1h-2zM78 313h1v1h-1zM88 315h2v1h-2zM88 316h2v1h-2zM91 319h1v1h-1zM90 320h1v1h-1zM90 321h1v1h-1zM88 323h1v1h-1zM77 326h2v1h-2zM74 327h2v1h-2zM77 328h2v1h-2zM84 329h1v1h-1zM87 329h1v1h-1zM81 330h1v1h-1zM85 330h2v1h-2zM89 330h1v1h-1zM91 337h2v1h-2zM91 338h2v1h-2zM91 339h2v1h-2zM83 340h1v1h-1zM91 340h2v1h-2zM81 341h1v1h-1zM88 341h1v1h-1zM91 341h2v1h-2zM81 342h1v1h-1zM83 342h1v1h-1zM85 342h1v1h-1zM88 342h1v1h-1zM91 342h2v1h-2zM81 343h1v1h-1zM83 343h1v1h-1zM91 343h2v1h-2zM81 344h1v1h-1zM83 344h1v1h-1zM85 344h1v1h-1zM91 344h2v1h-2zM81 345h1v1h-1zM85 345h1v1h-1zM88 345h1v1h-1zM90 345h1v1h-1zM81 346h1v1h-1zM83 346h1v1h-1zM85 346h1v1h-1zM81 347h1v1h-1zM83 347h1v1h-1zM81 348h1v1h-1zM83 348h1v1h-1zM86 352h1v1h-1zM72 353h3v1h-3zM90 353h3v1h-3zM62 354h11v1h-11zM91 354h2v1h-2zM78 355h1v1h-1zM91 355h2v1h-2zM77 374h2v1h-2zM74 375h2v1h-2zM82 375h1v1h-1zM74 376h2v1h-2zM82 376h1v1h-1zM77 377h2v1h-2zM80 386h1v1h-1zM82 386h4v1h-4zM76 387h2v1h-2zM86 387h1v1h-1zM62 388h11v1h-11zM87 388h1v1h-1zM62 389h9v1h-9zM62 390h9v1h-9zM88 390h1v1h-1zM62 391h9v1h-9zM88 391h1v1h-1zM71 392h3v1h-3zM78 393h1v1h-1zM79 394h1v1h-1zM88 396h1v1h-1zM139 396h1v1h-1zM139 397h1v1h-1zM76 398h2v1h-2zM139 398h1v1h-1zM75 399h2v1h-2zM139 399h1v1h-1zM81 400h1v1h-1zM86 400h1v1h-1zM79 402h1v1h-1zM77 403h1v1h-1zM77 404h1v1h-1zM79 405h3v1h-3z"/><path fill="#ff2500" d="M62 286h17v1h-17zM62 287h11v1h-11zM62 288h11v1h-11zM73 289h9v1h-9z"/><path fill="#ff0400" d="M79 286h3v1h-3zM73 287h9v1h-9zM73 288h9v1h-9z"/>
</g></g>
<line x1="58.2" y1="269.5" x2="58.2" y2="413.2" stroke="#2a2a2a" stroke-width="1.35" />
<line x1="58.2" y1="413.2" x2="237.4" y2="413.2" stroke="#2a2a2a" stroke-width="1.35" />
<line x1="56.0" y1="269.5" x2="58.2" y2="269.5" stroke="#2a2a2a" stroke-width="1.35" />
<line x1="58.2" y1="413.2" x2="58.2" y2="415.59999999999997" stroke="#2a2a2a" stroke-width="1.35" />
<line x1="56.0" y1="298.24" x2="58.2" y2="298.24" stroke="#2a2a2a" stroke-width="1.35" />
<line x1="94.03999999999999" y1="413.2" x2="94.03999999999999" y2="415.59999999999997" stroke="#2a2a2a" stroke-width="1.35" />
<line x1="56.0" y1="326.98" x2="58.2" y2="326.98" stroke="#2a2a2a" stroke-width="1.35" />
<line x1="129.88" y1="413.2" x2="129.88" y2="415.59999999999997" stroke="#2a2a2a" stroke-width="1.35" />
<line x1="56.0" y1="355.72" x2="58.2" y2="355.72" stroke="#2a2a2a" stroke-width="1.35" />
<line x1="165.71999999999997" y1="413.2" x2="165.71999999999997" y2="415.59999999999997" stroke="#2a2a2a" stroke-width="1.35" />
<line x1="56.0" y1="384.46" x2="58.2" y2="384.46" stroke="#2a2a2a" stroke-width="1.35" />
<line x1="201.56" y1="413.2" x2="201.56" y2="415.59999999999997" stroke="#2a2a2a" stroke-width="1.35" />
<line x1="56.0" y1="413.2" x2="58.2" y2="413.2" stroke="#2a2a2a" stroke-width="1.35" />
<line x1="237.39999999999998" y1="413.2" x2="237.39999999999998" y2="415.59999999999997" stroke="#2a2a2a" stroke-width="1.35" />
<text x="50.8" y="273.6" font-size="12" text-anchor="end" >639</text>
<text x="61.5" y="428.6" font-size="12" text-anchor="middle" >639</text>
<text x="50.8" y="302.1" font-size="12" text-anchor="end" >843</text>
<text x="95.4" y="428.6" font-size="12" text-anchor="middle" >843</text>
<text x="50.8" y="330.8" font-size="12" text-anchor="end" >1047</text>
<text x="126.2" y="428.6" font-size="12" text-anchor="middle" >1047</text>
<text x="50.8" y="359.40000000000003" font-size="12" text-anchor="end" >1251</text>
<text x="164" y="428.6" font-size="12" text-anchor="middle" >1251</text>
<text x="50.8" y="388.0" font-size="12" text-anchor="end" >1455</text>
<text x="198.7" y="428.6" font-size="12" text-anchor="middle" >1455</text>
<text x="50.8" y="416.70000000000005" font-size="12" text-anchor="end" >1661</text>
<text x="232.2" y="428.6" font-size="12" text-anchor="middle" >1661</text>
<text x="94.4" y="443.4" font-size="15.5" text-anchor="start" >Wavelength (nm)</text>
<text x="0" y="0" font-size="15.5" text-anchor="middle" transform="translate(21.3,341.5) rotate(-90)">Wavelength (nm)</text>
<text x="58.5" y="257" font-size="20" text-anchor="start" >C</text>
<rect x="258.6" y="270" width="13.799999999999955" height="137.60000000000002" fill="url(#jet)"/>
<line x1="277.5" y1="270.6" x2="277.5" y2="406.7" stroke="#2a2a2a" stroke-width="1.35" />
<line x1="277.5" y1="270.6" x2="279.7" y2="270.6" stroke="#2a2a2a" stroke-width="1.35" />
<text x="283.4" y="272.70000000000005" font-size="12" text-anchor="start" >0.177</text>
<line x1="277.5" y1="293.28333333333336" x2="279.7" y2="293.28333333333336" stroke="#2a2a2a" stroke-width="1.35" />
<text x="283.4" y="296.45000000000005" font-size="12" text-anchor="start" >0.148</text>
<line x1="277.5" y1="315.9666666666667" x2="279.7" y2="315.9666666666667" stroke="#2a2a2a" stroke-width="1.35" />
<text x="283.4" y="320.20000000000005" font-size="12" text-anchor="start" >0.119</text>
<line x1="277.5" y1="338.65" x2="279.7" y2="338.65" stroke="#2a2a2a" stroke-width="1.35" />
<text x="283.4" y="343.95000000000005" font-size="12" text-anchor="start" >0.090</text>
<line x1="277.5" y1="361.3333333333333" x2="279.7" y2="361.3333333333333" stroke="#2a2a2a" stroke-width="1.35" />
<text x="283.4" y="367.70000000000005" font-size="12" text-anchor="start" >0.061</text>
<line x1="277.5" y1="384.01666666666665" x2="279.7" y2="384.01666666666665" stroke="#2a2a2a" stroke-width="1.35" />
<text x="283.4" y="391.45000000000005" font-size="12" text-anchor="start" >0.032</text>
<line x1="277.5" y1="406.7" x2="279.7" y2="406.7" stroke="#2a2a2a" stroke-width="1.35" />
<text x="283.4" y="415.20000000000005" font-size="12" text-anchor="start" >0.003</text>
<line x1="411.7" y1="43.2" x2="411.7" y2="185.04000000000002" stroke="#2a2a2a" stroke-width="1.35" />
<line x1="348.2" y1="149.6" x2="538.4" y2="149.6" stroke="#2a2a2a" stroke-width="1.35" />
<line x1="409.7" y1="43.2" x2="413.7" y2="43.2" stroke="#2a2a2a" stroke-width="1.35" />
<text x="405" y="47.300000000000004" font-size="12" text-anchor="end" >0.12</text>
<line x1="409.7" y1="60.93000000000001" x2="413.7" y2="60.93000000000001" stroke="#2a2a2a" stroke-width="1.35" />
<text x="405" y="65.03" font-size="12" text-anchor="end" >0.10</text>
<line x1="409.7" y1="78.66" x2="413.7" y2="78.66" stroke="#2a2a2a" stroke-width="1.35" />
<text x="405" y="82.75999999999999" font-size="12" text-anchor="end" >0.08</text>
<line x1="409.7" y1="96.39" x2="413.7" y2="96.39" stroke="#2a2a2a" stroke-width="1.35" />
<text x="405" y="100.49" font-size="12" text-anchor="end" >0.06</text>
<line x1="409.7" y1="114.12" x2="413.7" y2="114.12" stroke="#2a2a2a" stroke-width="1.35" />
<text x="405" y="118.22" font-size="12" text-anchor="end" >0.04</text>
<line x1="409.7" y1="131.85000000000002" x2="413.7" y2="131.85000000000002" stroke="#2a2a2a" stroke-width="1.35" />
<text x="405" y="135.95000000000002" font-size="12" text-anchor="end" >0.02</text>
<line x1="409.7" y1="149.57999999999998" x2="413.7" y2="149.57999999999998" stroke="#2a2a2a" stroke-width="1.35" />
<text x="405" y="153.67999999999998" font-size="12" text-anchor="end" >0.00</text>
<line x1="409.7" y1="167.31" x2="413.7" y2="167.31" stroke="#2a2a2a" stroke-width="1.35" />
<text x="405" y="171.41" font-size="12" text-anchor="end" >-0.02</text>
<line x1="409.7" y1="185.04000000000002" x2="413.7" y2="185.04000000000002" stroke="#2a2a2a" stroke-width="1.35" />
<text x="405" y="189.14000000000001" font-size="12" text-anchor="end" >-0.04</text>
<line x1="348.2" y1="147.6" x2="348.2" y2="151.6" stroke="#2a2a2a" stroke-width="1.35" />
<text x="347" y="166.4" font-size="12" text-anchor="middle" >-2</text>
<line x1="379.9" y1="147.6" x2="379.9" y2="151.6" stroke="#2a2a2a" stroke-width="1.35" />
<text x="378" y="166.4" font-size="12" text-anchor="middle" >-1</text>
<line x1="411.59999999999997" y1="147.6" x2="411.59999999999997" y2="151.6" stroke="#2a2a2a" stroke-width="1.35" />
<text x="410" y="166.4" font-size="12" text-anchor="middle" >0</text>
<line x1="443.29999999999995" y1="147.6" x2="443.29999999999995" y2="151.6" stroke="#2a2a2a" stroke-width="1.35" />
<text x="441" y="166.4" font-size="12" text-anchor="middle" >1</text>
<line x1="475.0" y1="147.6" x2="475.0" y2="151.6" stroke="#2a2a2a" stroke-width="1.35" />
<text x="474.7" y="166.4" font-size="12" text-anchor="middle" >2</text>
<line x1="506.7" y1="147.6" x2="506.7" y2="151.6" stroke="#2a2a2a" stroke-width="1.35" />
<text x="506" y="166.4" font-size="12" text-anchor="middle" >3</text>
<line x1="538.4" y1="147.6" x2="538.4" y2="151.6" stroke="#2a2a2a" stroke-width="1.35" />
<text x="536.5" y="166.4" font-size="12" text-anchor="middle" >4</text>
<text x="360.6" y="221" font-size="15.3" text-anchor="start" >Standardized g<tspan font-size="9" dy="5">sw</tspan><tspan dy="-5"> (R.U.)</tspan></text>
<text x="0" y="0" font-size="15" text-anchor="middle" transform="translate(334.5,108.8) rotate(-90)">NDI' (g<tspan font-size="9" dy="4.5">sw</tspan><tspan dy="-4.5">) (R.U.)</tspan></text>
<text x="409.8" y="20.4" font-size="20" text-anchor="start" >B</text>
<text x="494.3" y="59" font-size="12.5" text-anchor="start" >R<tspan font-size="8" dy="-4">2</tspan><tspan dy="4">=0.19</tspan></text>
<path d="M380.9 152.3h2v2h-2zM381.2 156.3h2v2h-2zM373.4 155.8h2v2h-2zM396.1 152.7h2v2h-2zM395.3 153.6h2v2h-2zM388.1 153.9h2v2h-2zM365.3 150.6h2v2h-2zM389.4 152.4h2v2h-2zM365.0 163.3h2v2h-2zM373.9 157.1h2v2h-2zM387.1 155.0h2v2h-2zM389.5 157.9h2v2h-2zM387.2 152.9h2v2h-2zM376.4 146.4h2v2h-2zM389.9 149.0h2v2h-2zM376.9 158.4h2v2h-2zM379.9 155.3h2v2h-2zM390.8 153.6h2v2h-2zM378.8 159.5h2v2h-2zM378.0 148.9h2v2h-2zM374.8 153.6h2v2h-2zM388.5 162.1h2v2h-2zM384.3 148.4h2v2h-2zM380.2 155.3h2v2h-2zM374.7 152.4h2v2h-2zM383.1 161.9h2v2h-2zM392.9 151.5h2v2h-2zM394.2 147.8h2v2h-2zM387.8 154.2h2v2h-2zM369.3 151.8h2v2h-2zM377.0 157.0h2v2h-2zM369.7 159.5h2v2h-2zM377.9 148.5h2v2h-2zM367.6 153.6h2v2h-2zM399.8 152.0h2v2h-2zM387.7 158.4h2v2h-2zM371.3 150.0h2v2h-2zM396.0 154.0h2v2h-2zM386.5 152.7h2v2h-2zM401.4 151.8h2v2h-2zM389.5 152.1h2v2h-2zM366.4 148.6h2v2h-2zM394.4 152.2h2v2h-2zM376.7 150.7h2v2h-2zM381.7 149.8h2v2h-2zM369.2 147.0h2v2h-2zM389.9 155.5h2v2h-2zM387.4 151.6h2v2h-2zM385.1 149.2h2v2h-2zM376.4 156.8h2v2h-2zM395.3 154.7h2v2h-2zM374.0 150.2h2v2h-2zM400.0 157.0h2v2h-2zM368.4 155.5h2v2h-2zM382.1 156.3h2v2h-2zM399.3 159.8h2v2h-2zM397.7 161.0h2v2h-2zM375.0 151.7h2v2h-2zM396.3 150.6h2v2h-2zM387.6 154.1h2v2h-2zM385.4 152.0h2v2h-2zM381.8 153.5h2v2h-2zM390.1 154.8h2v2h-2zM392.2 152.0h2v2h-2zM387.4 156.9h2v2h-2zM379.6 154.9h2v2h-2zM394.0 156.4h2v2h-2zM388.0 145.8h2v2h-2zM371.3 153.6h2v2h-2zM388.2 153.6h2v2h-2zM379.0 151.6h2v2h-2zM386.9 157.4h2v2h-2zM387.7 157.5h2v2h-2zM382.7 155.9h2v2h-2zM383.1 157.2h2v2h-2zM394.9 160.5h2v2h-2zM383.0 150.2h2v2h-2zM393.3 147.5h2v2h-2zM364.9 156.5h2v2h-2zM380.0 151.8h2v2h-2zM395.9 149.5h2v2h-2zM367.7 151.5h2v2h-2zM367.2 153.9h2v2h-2zM397.0 155.5h2v2h-2zM385.9 150.9h2v2h-2zM385.3 155.2h2v2h-2zM400.8 149.7h2v2h-2zM380.5 160.4h2v2h-2zM393.9 156.1h2v2h-2zM385.2 151.4h2v2h-2zM386.2 151.7h2v2h-2zM366.8 162.2h2v2h-2zM390.6 159.5h2v2h-2zM372.4 162.0h2v2h-2zM397.8 151.2h2v2h-2zM400.1 159.4h2v2h-2zM383.8 160.4h2v2h-2zM392.3 147.1h2v2h-2zM373.9 147.2h2v2h-2zM394.7 155.7h2v2h-2zM399.4 155.3h2v2h-2zM377.1 152.9h2v2h-2zM388.3 147.5h2v2h-2zM372.4 149.3h2v2h-2zM400.3 147.7h2v2h-2zM381.8 158.4h2v2h-2zM395.1 154.2h2v2h-2zM385.1 147.9h2v2h-2zM380.8 166.0h2v2h-2zM379.5 163.8h2v2h-2zM392.8 153.3h2v2h-2zM377.0 154.9h2v2h-2zM393.0 154.4h2v2h-2zM398.5 155.1h2v2h-2zM395.3 147.5h2v2h-2zM401.6 158.1h2v2h-2zM393.5 164.0h2v2h-2zM371.7 164.4h2v2h-2zM395.6 160.8h2v2h-2zM383.6 155.7h2v2h-2zM383.4 157.7h2v2h-2zM386.3 146.1h2v2h-2zM384.2 152.2h2v2h-2zM394.9 155.8h2v2h-2zM369.8 157.5h2v2h-2zM395.7 162.8h2v2h-2zM377.1 149.9h2v2h-2zM392.6 154.8h2v2h-2zM392.7 154.0h2v2h-2zM370.7 162.4h2v2h-2zM376.7 150.3h2v2h-2zM377.5 159.2h2v2h-2zM375.2 162.3h2v2h-2zM382.5 160.6h2v2h-2zM387.8 166.3h2v2h-2zM387.4 157.9h2v2h-2zM391.8 156.1h2v2h-2zM374.0 153.4h2v2h-2zM378.7 151.0h2v2h-2zM392.0 151.6h2v2h-2zM387.4 148.3h2v2h-2zM391.1 152.6h2v2h-2zM393.7 148.4h2v2h-2zM380.5 157.1h2v2h-2zM389.0 159.3h2v2h-2zM391.4 145.6h2v2h-2zM382.4 152.1h2v2h-2zM393.8 159.2h2v2h-2zM382.8 153.4h2v2h-2zM392.9 155.0h2v2h-2zM381.6 159.8h2v2h-2zM379.8 150.5h2v2h-2zM384.9 159.0h2v2h-2zM374.4 149.2h2v2h-2zM390.8 151.8h2v2h-2zM389.1 146.6h2v2h-2zM388.5 155.1h2v2h-2zM389.6 164.3h2v2h-2zM395.2 153.2h2v2h-2zM376.0 148.3h2v2h-2zM403.8 161.6h2v2h-2zM376.4 153.4h2v2h-2zM385.8 156.7h2v2h-2zM372.9 144.5h2v2h-2zM395.3 160.6h2v2h-2zM368.8 146.5h2v2h-2zM394.7 145.9h2v2h-2zM392.7 159.1h2v2h-2zM386.6 165.3h2v2h-2zM375.5 155.1h2v2h-2zM389.6 158.4h2v2h-2zM382.4 152.6h2v2h-2zM387.9 151.7h2v2h-2zM386.1 156.4h2v2h-2zM392.5 154.6h2v2h-2zM374.6 157.9h2v2h-2zM383.8 155.3h2v2h-2zM385.5 154.8h2v2h-2zM385.7 155.5h2v2h-2zM369.8 152.8h2v2h-2zM395.4 152.7h2v2h-2zM381.7 152.6h2v2h-2zM373.0 164.1h2v2h-2zM384.4 159.3h2v2h-2zM392.0 160.1h2v2h-2zM372.2 147.1h2v2h-2zM379.5 161.5h2v2h-2zM375.3 152.3h2v2h-2zM389.3 153.9h2v2h-2zM400.2 151.4h2v2h-2zM383.5 151.9h2v2h-2zM402.1 150.1h2v2h-2zM395.1 160.1h2v2h-2zM382.1 151.2h2v2h-2zM380.5 149.6h2v2h-2zM390.4 150.4h2v2h-2zM381.4 148.8h2v2h-2zM381.4 154.4h2v2h-2zM379.9 150.5h2v2h-2zM394.6 154.8h2v2h-2zM379.0 103.2h2v2h-2zM408.0 97.8h2v2h-2zM416.1 104.1h2v2h-2zM417.4 101.2h2v2h-2zM405.1 104.0h2v2h-2zM396.6 100.3h2v2h-2zM381.1 107.9h2v2h-2zM401.3 112.7h2v2h-2zM392.9 115.9h2v2h-2zM388.2 101.0h2v2h-2zM412.0 104.6h2v2h-2zM396.8 112.4h2v2h-2zM436.0 101.3h2v2h-2zM422.0 109.4h2v2h-2zM397.7 114.8h2v2h-2zM416.0 98.9h2v2h-2zM365.1 104.6h2v2h-2zM413.2 114.4h2v2h-2zM366.5 110.4h2v2h-2zM389.2 112.4h2v2h-2zM401.8 102.8h2v2h-2zM413.2 100.2h2v2h-2zM429.8 97.6h2v2h-2zM376.2 107.2h2v2h-2zM381.0 110.5h2v2h-2zM399.6 104.2h2v2h-2zM410.5 113.4h2v2h-2zM377.7 104.4h2v2h-2zM397.4 106.1h2v2h-2zM400.0 108.7h2v2h-2zM414.5 102.2h2v2h-2zM399.5 108.1h2v2h-2zM397.9 109.9h2v2h-2zM401.9 112.9h2v2h-2zM405.0 103.4h2v2h-2zM375.0 105.7h2v2h-2zM395.2 101.6h2v2h-2zM412.8 104.5h2v2h-2zM385.0 105.1h2v2h-2zM399.9 100.0h2v2h-2zM406.8 108.4h2v2h-2zM375.4 106.4h2v2h-2zM387.1 110.7h2v2h-2zM399.0 107.1h2v2h-2zM403.2 101.3h2v2h-2zM393.3 106.1h2v2h-2zM422.1 103.6h2v2h-2zM422.4 108.6h2v2h-2zM405.9 100.8h2v2h-2zM445.6 102.4h2v2h-2zM425.5 99.9h2v2h-2zM419.2 101.3h2v2h-2zM398.2 101.3h2v2h-2zM380.7 97.5h2v2h-2zM381.8 102.8h2v2h-2zM441.5 105.6h2v2h-2zM401.6 97.6h2v2h-2zM401.7 108.9h2v2h-2zM406.1 100.9h2v2h-2zM414.7 108.7h2v2h-2zM434.5 94.7h2v2h-2zM401.5 102.7h2v2h-2zM393.0 96.1h2v2h-2zM387.8 100.4h2v2h-2zM392.1 108.3h2v2h-2zM414.9 96.6h2v2h-2zM401.0 108.2h2v2h-2zM416.6 104.6h2v2h-2zM407.1 95.5h2v2h-2zM422.7 107.3h2v2h-2zM444.6 104.3h2v2h-2zM416.1 108.0h2v2h-2zM400.3 114.4h2v2h-2zM435.2 96.4h2v2h-2zM378.1 112.9h2v2h-2zM370.4 97.5h2v2h-2zM392.4 104.6h2v2h-2zM395.2 105.0h2v2h-2zM380.5 104.1h2v2h-2zM373.8 104.7h2v2h-2zM407.1 101.6h2v2h-2zM396.8 109.5h2v2h-2zM404.2 107.1h2v2h-2zM431.0 99.9h2v2h-2zM399.0 107.0h2v2h-2zM387.8 109.7h2v2h-2zM394.5 102.6h2v2h-2zM411.0 101.0h2v2h-2zM441.1 108.3h2v2h-2zM401.4 115.0h2v2h-2zM391.3 103.3h2v2h-2zM404.1 101.9h2v2h-2zM396.6 102.2h2v2h-2zM402.2 99.8h2v2h-2zM365.2 109.4h2v2h-2zM401.1 110.2h2v2h-2zM381.3 100.7h2v2h-2zM388.8 100.6h2v2h-2zM415.4 102.5h2v2h-2zM410.9 104.9h2v2h-2zM374.4 104.4h2v2h-2zM409.8 107.3h2v2h-2zM399.3 100.0h2v2h-2zM384.5 100.6h2v2h-2zM436.6 107.5h2v2h-2zM404.0 105.1h2v2h-2zM430.5 102.5h2v2h-2zM418.3 108.3h2v2h-2zM400.9 104.3h2v2h-2zM367.4 96.0h2v2h-2zM418.3 114.4h2v2h-2zM415.3 105.0h2v2h-2zM409.7 102.2h2v2h-2zM372.7 105.5h2v2h-2zM429.6 107.6h2v2h-2zM381.7 112.1h2v2h-2zM378.0 102.3h2v2h-2zM433.4 101.8h2v2h-2zM405.9 107.3h2v2h-2zM388.4 101.2h2v2h-2zM411.6 110.1h2v2h-2zM378.9 102.6h2v2h-2zM405.9 111.8h2v2h-2zM397.3 107.4h2v2h-2zM409.9 104.9h2v2h-2zM399.6 106.3h2v2h-2zM421.2 96.3h2v2h-2zM394.2 99.4h2v2h-2zM386.8 103.9h2v2h-2zM415.5 95.5h2v2h-2zM404.2 86.6h2v2h-2zM443.4 73.9h2v2h-2zM417.9 82.7h2v2h-2zM412.2 65.2h2v2h-2zM451.5 89.3h2v2h-2zM436.4 82.6h2v2h-2zM418.8 73.6h2v2h-2zM428.4 71.6h2v2h-2zM456.8 79.7h2v2h-2zM432.5 86.4h2v2h-2zM421.7 89.5h2v2h-2zM397.2 70.9h2v2h-2zM396.5 80.0h2v2h-2zM420.8 82.8h2v2h-2zM430.5 74.2h2v2h-2zM427.4 83.6h2v2h-2zM409.4 89.8h2v2h-2zM427.7 95.4h2v2h-2zM411.6 95.1h2v2h-2zM371.4 66.6h2v2h-2zM447.5 71.9h2v2h-2zM413.0 85.8h2v2h-2zM437.3 71.4h2v2h-2zM468.5 96.1h2v2h-2zM401.2 84.3h2v2h-2zM392.6 85.7h2v2h-2zM414.8 87.5h2v2h-2zM415.6 85.0h2v2h-2zM426.4 63.8h2v2h-2zM410.3 90.0h2v2h-2zM384.6 68.8h2v2h-2zM450.8 82.2h2v2h-2zM441.2 84.3h2v2h-2zM422.6 65.4h2v2h-2zM422.3 66.2h2v2h-2zM436.5 96.1h2v2h-2zM374.6 70.7h2v2h-2zM438.5 95.8h2v2h-2zM422.8 65.4h2v2h-2zM415.9 88.3h2v2h-2zM412.9 85.5h2v2h-2zM405.0 75.9h2v2h-2zM410.8 86.2h2v2h-2zM454.0 87.7h2v2h-2zM456.4 65.5h2v2h-2zM414.9 75.3h2v2h-2zM419.1 89.1h2v2h-2zM411.9 80.8h2v2h-2zM397.0 83.8h2v2h-2zM413.7 80.1h2v2h-2zM440.8 65.1h2v2h-2zM432.6 71.7h2v2h-2zM455.6 68.7h2v2h-2zM418.8 85.8h2v2h-2zM379.6 86.1h2v2h-2zM385.2 94.5h2v2h-2zM447.7 90.4h2v2h-2zM414.2 94.9h2v2h-2zM394.8 96.0h2v2h-2zM392.6 63.3h2v2h-2zM406.6 66.6h2v2h-2zM433.7 94.3h2v2h-2zM412.3 93.8h2v2h-2zM374.0 81.7h2v2h-2zM414.3 89.1h2v2h-2zM383.3 73.9h2v2h-2zM431.5 71.3h2v2h-2zM435.3 93.0h2v2h-2zM383.1 68.1h2v2h-2zM405.0 84.3h2v2h-2zM445.4 71.7h2v2h-2zM419.9 88.7h2v2h-2zM432.0 91.9h2v2h-2zM438.8 85.9h2v2h-2zM391.7 83.5h2v2h-2zM444.0 89.2h2v2h-2zM412.4 69.2h2v2h-2zM436.9 68.9h2v2h-2zM431.1 68.1h2v2h-2zM420.1 87.0h2v2h-2zM410.1 93.1h2v2h-2zM439.1 77.0h2v2h-2zM436.0 67.2h2v2h-2zM403.5 81.7h2v2h-2zM411.1 64.5h2v2h-2zM457.8 93.5h2v2h-2zM384.8 89.7h2v2h-2zM393.8 84.4h2v2h-2zM424.7 88.4h2v2h-2zM427.2 76.5h2v2h-2zM404.0 96.8h2v2h-2zM399.9 85.9h2v2h-2zM406.8 86.4h2v2h-2zM399.3 90.2h2v2h-2zM422.8 95.0h2v2h-2zM383.2 93.7h2v2h-2zM388.5 75.1h2v2h-2zM433.5 94.0h2v2h-2zM434.1 83.0h2v2h-2zM447.4 87.4h2v2h-2zM391.7 86.4h2v2h-2zM392.1 82.8h2v2h-2zM404.2 67.3h2v2h-2zM438.0 90.4h2v2h-2zM413.4 72.0h2v2h-2zM458.4 87.0h2v2h-2zM468.9 93.4h2v2h-2zM487.7 99.0h2v2h-2zM470.7 90.1h2v2h-2zM456.5 89.7h2v2h-2zM479.2 93.3h2v2h-2zM492.0 90.0h2v2h-2zM466.4 91.3h2v2h-2zM472.7 92.1h2v2h-2zM473.5 91.6h2v2h-2zM492.7 90.8h2v2h-2zM487.0 91.4h2v2h-2zM494.7 93.1h2v2h-2zM493.6 92.1h2v2h-2zM495.1 94.7h2v2h-2zM492.8 93.5h2v2h-2zM467.2 90.1h2v2h-2zM487.9 96.1h2v2h-2zM456.4 93.1h2v2h-2zM468.0 95.8h2v2h-2zM489.0 92.7h2v2h-2zM459.1 95.4h2v2h-2zM467.7 96.7h2v2h-2zM454.6 94.0h2v2h-2zM460.5 94.7h2v2h-2zM450.7 100.2h2v2h-2zM475.5 93.6h2v2h-2zM488.6 94.5h2v2h-2zM454.3 96.8h2v2h-2zM478.6 95.9h2v2h-2zM463.3 97.2h2v2h-2zM469.0 91.7h2v2h-2zM480.1 96.8h2v2h-2zM449.9 92.5h2v2h-2zM478.2 95.9h2v2h-2zM485.0 93.5h2v2h-2zM485.8 95.5h2v2h-2zM471.2 93.1h2v2h-2zM453.8 91.4h2v2h-2zM453.1 91.3h2v2h-2zM469.8 94.5h2v2h-2zM479.0 93.7h2v2h-2zM452.7 94.2h2v2h-2zM473.1 99.0h2v2h-2zM451.3 96.7h2v2h-2zM511.2 92.4h2v2h-2zM509.4 84.8h2v2h-2zM507.0 86.4h2v2h-2zM496.8 84.9h2v2h-2zM424.3 114.4h2v2h-2zM460.6 136.8h2v2h-2zM449.6 115.1h2v2h-2zM387.8 131.6h2v2h-2zM446.9 137.0h2v2h-2zM458.9 133.7h2v2h-2zM452.0 137.4h2v2h-2zM425.2 115.4h2v2h-2zM400.0 134.1h2v2h-2zM425.5 132.5h2v2h-2zM385.3 136.3h2v2h-2zM396.0 114.9h2v2h-2zM440.3 116.1h2v2h-2zM396.6 119.2h2v2h-2zM392.0 126.5h2v2h-2zM436.6 131.3h2v2h-2zM456.9 125.8h2v2h-2zM431.8 116.5h2v2h-2zM391.1 113.3h2v2h-2zM436.1 130.3h2v2h-2zM450.4 134.0h2v2h-2zM466.9 125.1h2v2h-2zM413.0 119.8h2v2h-2zM420.0 136.5h2v2h-2zM445.8 140.1h2v2h-2zM452.3 134.3h2v2h-2zM436.9 113.6h2v2h-2zM432.3 122.7h2v2h-2zM408.9 141.5h2v2h-2zM385.1 137.3h2v2h-2zM434.9 129.2h2v2h-2zM426.1 116.1h2v2h-2zM393.5 135.1h2v2h-2zM438.1 140.9h2v2h-2zM382.4 131.4h2v2h-2zM391.3 131.4h2v2h-2zM401.4 125.0h2v2h-2zM432.6 135.7h2v2h-2zM435.6 128.0h2v2h-2zM393.7 114.9h2v2h-2zM403.0 137.3h2v2h-2zM390.4 123.4h2v2h-2zM456.7 119.3h2v2h-2zM416.6 134.0h2v2h-2zM383.2 123.2h2v2h-2zM430.3 131.6h2v2h-2zM437.4 128.9h2v2h-2zM462.4 120.7h2v2h-2zM403.4 115.9h2v2h-2zM385.9 126.4h2v2h-2zM426.1 154.9h2v2h-2zM435.0 145.0h2v2h-2zM439.4 146.6h2v2h-2zM428.6 149.9h2v2h-2zM422.4 150.3h2v2h-2zM453.3 158.5h2v2h-2zM425.3 151.1h2v2h-2zM414.8 153.5h2v2h-2zM442.8 143.3h2v2h-2zM439.5 150.7h2v2h-2zM466.3 151.8h2v2h-2zM425.9 157.1h2v2h-2zM425.4 157.0h2v2h-2zM428.0 150.1h2v2h-2zM427.2 150.9h2v2h-2zM456.0 155.0h2v2h-2zM422.7 155.5h2v2h-2zM419.2 150.9h2v2h-2zM423.7 145.8h2v2h-2zM440.6 152.8h2v2h-2zM429.2 152.7h2v2h-2zM425.6 148.9h2v2h-2zM424.6 162.8h2v2h-2zM426.1 156.1h2v2h-2zM440.0 154.9h2v2h-2zM429.6 142.5h2v2h-2zM434.1 155.0h2v2h-2zM439.3 155.6h2v2h-2zM419.0 150.7h2v2h-2zM454.5 143.5h2v2h-2zM447.8 151.5h2v2h-2zM430.3 144.2h2v2h-2zM456.0 153.5h2v2h-2zM436.0 150.9h2v2h-2zM427.6 154.4h2v2h-2zM415.5 159.0h2v2h-2zM451.8 149.8h2v2h-2zM455.3 148.2h2v2h-2zM464.5 148.6h2v2h-2zM469.1 157.6h2v2h-2zM437.5 150.3h2v2h-2zM430.7 151.4h2v2h-2zM360.0 68.8h2v2h-2zM363.1 70.6h2v2h-2zM474.1 134.4h2v2h-2zM483.6 134.4h2v2h-2zM509.0 77.7h2v2h-2zM502.6 82.1h2v2h-2zM493.1 68.8h2v2h-2zM467.8 68.8h2v2h-2zM518.5 88.3h2v2h-2zM528.0 101.6h2v2h-2zM534.3 103.4h2v2h-2z" fill="#7c7c7c"/>
<line x1="368" y1="141.2" x2="527.5" y2="75.7" stroke="#333" stroke-width="1.1" stroke-dasharray="1.2 1"/>
<path d="M395.7 392.5h2.4v2.4h-2.4zM394.9 395.1h2.4v2.4h-2.4zM388.2 393.4h2.4v2.4h-2.4zM369.7 392.6h2.4v2.4h-2.4zM392.6 392.9h2.4v2.4h-2.4zM381.0 392.0h2.4v2.4h-2.4zM367.1 393.3h2.4v2.4h-2.4zM391.2 392.1h2.4v2.4h-2.4zM379.1 394.8h2.4v2.4h-2.4zM383.8 389.9h2.4v2.4h-2.4zM395.9 393.5h2.4v2.4h-2.4zM380.7 393.5h2.4v2.4h-2.4zM381.5 393.1h2.4v2.4h-2.4zM390.8 394.6h2.4v2.4h-2.4zM385.0 392.7h2.4v2.4h-2.4zM369.5 390.5h2.4v2.4h-2.4zM394.8 393.2h2.4v2.4h-2.4zM373.4 393.2h2.4v2.4h-2.4zM392.8 393.1h2.4v2.4h-2.4zM383.4 393.3h2.4v2.4h-2.4zM383.4 393.0h2.4v2.4h-2.4zM383.5 394.1h2.4v2.4h-2.4zM378.4 392.7h2.4v2.4h-2.4zM399.1 394.2h2.4v2.4h-2.4zM376.2 392.8h2.4v2.4h-2.4zM383.6 391.1h2.4v2.4h-2.4zM370.2 393.6h2.4v2.4h-2.4zM393.7 393.7h2.4v2.4h-2.4zM390.5 392.8h2.4v2.4h-2.4zM378.7 395.2h2.4v2.4h-2.4zM380.3 395.6h2.4v2.4h-2.4zM369.3 391.4h2.4v2.4h-2.4zM397.1 392.3h2.4v2.4h-2.4zM375.5 393.1h2.4v2.4h-2.4zM397.6 394.6h2.4v2.4h-2.4zM397.0 393.3h2.4v2.4h-2.4zM374.4 395.0h2.4v2.4h-2.4zM392.5 392.8h2.4v2.4h-2.4zM392.4 394.1h2.4v2.4h-2.4zM377.7 394.3h2.4v2.4h-2.4zM371.7 392.1h2.4v2.4h-2.4zM392.1 395.0h2.4v2.4h-2.4zM372.2 395.5h2.4v2.4h-2.4zM386.4 392.3h2.4v2.4h-2.4zM370.7 396.1h2.4v2.4h-2.4zM374.6 392.5h2.4v2.4h-2.4zM373.0 394.0h2.4v2.4h-2.4zM395.6 391.1h2.4v2.4h-2.4zM371.7 392.6h2.4v2.4h-2.4zM377.7 392.3h2.4v2.4h-2.4zM384.4 392.6h2.4v2.4h-2.4zM372.9 392.2h2.4v2.4h-2.4zM400.1 393.3h2.4v2.4h-2.4zM399.7 393.9h2.4v2.4h-2.4zM369.9 390.5h2.4v2.4h-2.4zM393.9 393.4h2.4v2.4h-2.4zM373.1 394.8h2.4v2.4h-2.4zM388.5 392.5h2.4v2.4h-2.4zM379.8 392.6h2.4v2.4h-2.4zM367.5 395.3h2.4v2.4h-2.4zM390.4 391.7h2.4v2.4h-2.4zM383.7 394.3h2.4v2.4h-2.4zM371.3 394.4h2.4v2.4h-2.4zM387.3 395.2h2.4v2.4h-2.4zM397.8 391.9h2.4v2.4h-2.4zM381.3 395.4h2.4v2.4h-2.4zM380.9 394.3h2.4v2.4h-2.4zM374.3 393.8h2.4v2.4h-2.4zM393.2 396.2h2.4v2.4h-2.4zM390.6 391.9h2.4v2.4h-2.4zM388.6 395.0h2.4v2.4h-2.4zM382.1 394.0h2.4v2.4h-2.4zM369.7 391.4h2.4v2.4h-2.4zM380.9 392.8h2.4v2.4h-2.4zM388.2 395.5h2.4v2.4h-2.4zM375.0 394.7h2.4v2.4h-2.4zM387.9 392.5h2.4v2.4h-2.4zM380.5 394.7h2.4v2.4h-2.4zM372.7 396.2h2.4v2.4h-2.4zM389.0 393.0h2.4v2.4h-2.4zM383.3 394.6h2.4v2.4h-2.4zM400.1 391.5h2.4v2.4h-2.4zM371.9 392.8h2.4v2.4h-2.4zM393.4 391.6h2.4v2.4h-2.4zM369.9 393.9h2.4v2.4h-2.4zM386.3 395.5h2.4v2.4h-2.4zM384.1 393.8h2.4v2.4h-2.4zM388.5 392.4h2.4v2.4h-2.4zM380.6 394.8h2.4v2.4h-2.4zM399.2 392.7h2.4v2.4h-2.4zM379.9 391.1h2.4v2.4h-2.4zM392.8 390.3h2.4v2.4h-2.4zM378.7 390.4h2.4v2.4h-2.4zM368.3 393.5h2.4v2.4h-2.4zM366.8 391.8h2.4v2.4h-2.4zM380.9 395.2h2.4v2.4h-2.4zM378.6 392.2h2.4v2.4h-2.4zM375.5 392.9h2.4v2.4h-2.4zM398.9 390.9h2.4v2.4h-2.4zM384.6 392.7h2.4v2.4h-2.4zM379.9 390.7h2.4v2.4h-2.4zM373.7 391.5h2.4v2.4h-2.4zM394.4 391.4h2.4v2.4h-2.4zM388.3 395.1h2.4v2.4h-2.4zM374.2 392.9h2.4v2.4h-2.4zM399.7 394.5h2.4v2.4h-2.4zM394.7 391.6h2.4v2.4h-2.4zM394.6 394.4h2.4v2.4h-2.4zM385.3 393.0h2.4v2.4h-2.4zM370.7 392.6h2.4v2.4h-2.4zM395.8 394.4h2.4v2.4h-2.4zM375.6 394.0h2.4v2.4h-2.4zM381.1 392.5h2.4v2.4h-2.4zM372.8 391.0h2.4v2.4h-2.4zM376.1 393.2h2.4v2.4h-2.4zM374.8 393.8h2.4v2.4h-2.4zM381.2 391.7h2.4v2.4h-2.4zM388.4 394.0h2.4v2.4h-2.4zM398.5 394.4h2.4v2.4h-2.4zM396.0 390.7h2.4v2.4h-2.4zM397.7 392.3h2.4v2.4h-2.4zM393.5 391.5h2.4v2.4h-2.4zM388.3 391.2h2.4v2.4h-2.4zM366.9 389.7h2.4v2.4h-2.4zM389.1 393.0h2.4v2.4h-2.4zM375.0 392.6h2.4v2.4h-2.4zM374.4 392.8h2.4v2.4h-2.4zM393.2 393.7h2.4v2.4h-2.4zM397.7 392.6h2.4v2.4h-2.4zM393.8 391.8h2.4v2.4h-2.4zM387.4 390.6h2.4v2.4h-2.4zM393.4 394.7h2.4v2.4h-2.4zM393.7 395.9h2.4v2.4h-2.4zM395.4 392.5h2.4v2.4h-2.4zM384.7 391.2h2.4v2.4h-2.4zM392.1 396.0h2.4v2.4h-2.4zM385.6 392.1h2.4v2.4h-2.4zM375.5 393.2h2.4v2.4h-2.4zM383.4 392.5h2.4v2.4h-2.4zM368.4 394.0h2.4v2.4h-2.4zM383.4 393.1h2.4v2.4h-2.4zM383.6 396.0h2.4v2.4h-2.4zM366.6 394.0h2.4v2.4h-2.4zM395.5 395.1h2.4v2.4h-2.4zM389.4 392.9h2.4v2.4h-2.4zM395.5 394.3h2.4v2.4h-2.4zM399.6 392.2h2.4v2.4h-2.4zM369.0 394.6h2.4v2.4h-2.4zM367.3 394.8h2.4v2.4h-2.4zM387.5 394.6h2.4v2.4h-2.4zM377.8 396.3h2.4v2.4h-2.4zM400.4 394.9h2.4v2.4h-2.4zM397.5 393.4h2.4v2.4h-2.4zM367.5 393.6h2.4v2.4h-2.4zM378.1 395.2h2.4v2.4h-2.4zM396.2 394.3h2.4v2.4h-2.4zM384.6 392.0h2.4v2.4h-2.4zM393.1 392.9h2.4v2.4h-2.4zM381.0 391.8h2.4v2.4h-2.4zM385.5 392.7h2.4v2.4h-2.4zM395.0 394.3h2.4v2.4h-2.4zM380.3 394.4h2.4v2.4h-2.4zM383.9 393.3h2.4v2.4h-2.4zM400.1 394.7h2.4v2.4h-2.4zM377.8 395.3h2.4v2.4h-2.4zM377.3 393.8h2.4v2.4h-2.4zM388.3 391.4h2.4v2.4h-2.4zM393.5 391.0h2.4v2.4h-2.4zM397.0 392.7h2.4v2.4h-2.4zM385.2 392.1h2.4v2.4h-2.4zM366.6 392.9h2.4v2.4h-2.4zM372.9 391.5h2.4v2.4h-2.4zM389.2 394.2h2.4v2.4h-2.4zM393.7 391.6h2.4v2.4h-2.4zM387.7 394.3h2.4v2.4h-2.4zM388.1 393.9h2.4v2.4h-2.4zM389.9 395.1h2.4v2.4h-2.4zM373.7 394.0h2.4v2.4h-2.4zM392.8 394.6h2.4v2.4h-2.4zM369.9 393.1h2.4v2.4h-2.4zM393.2 392.9h2.4v2.4h-2.4zM398.0 394.0h2.4v2.4h-2.4zM394.9 394.4h2.4v2.4h-2.4zM393.6 394.3h2.4v2.4h-2.4zM376.8 393.7h2.4v2.4h-2.4zM381.0 393.9h2.4v2.4h-2.4zM388.6 391.9h2.4v2.4h-2.4zM398.7 391.5h2.4v2.4h-2.4zM367.7 392.6h2.4v2.4h-2.4zM370.5 392.6h2.4v2.4h-2.4zM398.2 395.0h2.4v2.4h-2.4zM381.8 391.8h2.4v2.4h-2.4zM386.9 393.1h2.4v2.4h-2.4zM398.8 391.6h2.4v2.4h-2.4zM380.6 393.4h2.4v2.4h-2.4zM369.9 393.9h2.4v2.4h-2.4zM371.6 394.0h2.4v2.4h-2.4zM366.9 391.1h2.4v2.4h-2.4zM370.6 393.2h2.4v2.4h-2.4zM399.8 390.8h2.4v2.4h-2.4zM370.8 391.7h2.4v2.4h-2.4zM367.0 393.5h2.4v2.4h-2.4zM391.8 394.3h2.4v2.4h-2.4zM372.8 390.9h2.4v2.4h-2.4zM391.1 392.5h2.4v2.4h-2.4zM396.0 393.3h2.4v2.4h-2.4zM388.1 393.8h2.4v2.4h-2.4zM390.9 392.4h2.4v2.4h-2.4zM375.2 391.0h2.4v2.4h-2.4zM366.7 393.8h2.4v2.4h-2.4zM366.9 394.8h2.4v2.4h-2.4zM369.1 395.4h2.4v2.4h-2.4zM377.1 393.4h2.4v2.4h-2.4zM396.2 394.1h2.4v2.4h-2.4zM383.2 392.0h2.4v2.4h-2.4zM386.3 392.7h2.4v2.4h-2.4zM381.6 393.6h2.4v2.4h-2.4zM394.0 394.0h2.4v2.4h-2.4zM378.9 394.5h2.4v2.4h-2.4zM380.8 394.8h2.4v2.4h-2.4zM379.7 392.5h2.4v2.4h-2.4zM393.5 394.3h2.4v2.4h-2.4zM368.5 393.7h2.4v2.4h-2.4zM400.1 394.0h2.4v2.4h-2.4zM377.9 395.8h2.4v2.4h-2.4zM387.3 390.6h2.4v2.4h-2.4zM387.2 393.6h2.4v2.4h-2.4zM377.0 396.0h2.4v2.4h-2.4zM379.4 391.9h2.4v2.4h-2.4zM390.1 395.7h2.4v2.4h-2.4zM374.3 369.6h2.4v2.4h-2.4zM383.0 362.5h2.4v2.4h-2.4zM396.4 378.4h2.4v2.4h-2.4zM407.1 355.8h2.4v2.4h-2.4zM427.9 353.8h2.4v2.4h-2.4zM409.4 381.8h2.4v2.4h-2.4zM383.8 373.5h2.4v2.4h-2.4zM414.9 376.4h2.4v2.4h-2.4zM381.0 373.1h2.4v2.4h-2.4zM402.3 381.9h2.4v2.4h-2.4zM386.0 364.4h2.4v2.4h-2.4zM423.7 353.2h2.4v2.4h-2.4zM391.0 379.8h2.4v2.4h-2.4zM380.1 377.5h2.4v2.4h-2.4zM398.8 366.7h2.4v2.4h-2.4zM425.2 356.6h2.4v2.4h-2.4zM377.7 356.4h2.4v2.4h-2.4zM412.7 361.6h2.4v2.4h-2.4zM383.8 380.1h2.4v2.4h-2.4zM412.1 370.7h2.4v2.4h-2.4zM373.4 370.8h2.4v2.4h-2.4zM400.5 359.8h2.4v2.4h-2.4zM407.6 350.0h2.4v2.4h-2.4zM381.7 360.9h2.4v2.4h-2.4zM379.2 364.4h2.4v2.4h-2.4zM399.4 363.6h2.4v2.4h-2.4zM413.0 362.7h2.4v2.4h-2.4zM415.5 353.3h2.4v2.4h-2.4zM398.6 371.8h2.4v2.4h-2.4zM383.2 375.4h2.4v2.4h-2.4zM392.8 368.0h2.4v2.4h-2.4zM407.3 356.4h2.4v2.4h-2.4zM381.4 377.7h2.4v2.4h-2.4zM390.7 366.4h2.4v2.4h-2.4zM378.3 355.5h2.4v2.4h-2.4zM386.5 358.7h2.4v2.4h-2.4zM396.2 364.1h2.4v2.4h-2.4zM399.6 360.0h2.4v2.4h-2.4zM401.1 364.0h2.4v2.4h-2.4zM383.9 363.8h2.4v2.4h-2.4zM401.6 367.4h2.4v2.4h-2.4zM382.0 376.2h2.4v2.4h-2.4zM428.2 341.6h2.4v2.4h-2.4zM395.3 354.4h2.4v2.4h-2.4zM368.8 378.6h2.4v2.4h-2.4zM381.1 376.2h2.4v2.4h-2.4zM399.5 372.5h2.4v2.4h-2.4zM397.1 363.9h2.4v2.4h-2.4zM395.7 357.8h2.4v2.4h-2.4zM427.0 371.2h2.4v2.4h-2.4zM399.1 368.7h2.4v2.4h-2.4zM402.4 380.4h2.4v2.4h-2.4zM365.8 369.5h2.4v2.4h-2.4zM399.6 365.3h2.4v2.4h-2.4zM389.8 375.9h2.4v2.4h-2.4zM371.8 366.2h2.4v2.4h-2.4zM405.7 364.6h2.4v2.4h-2.4zM405.2 370.5h2.4v2.4h-2.4zM397.5 366.1h2.4v2.4h-2.4zM405.9 365.1h2.4v2.4h-2.4zM393.8 368.8h2.4v2.4h-2.4zM385.1 347.7h2.4v2.4h-2.4zM405.2 360.3h2.4v2.4h-2.4zM436.0 342.8h2.4v2.4h-2.4zM369.3 366.9h2.4v2.4h-2.4zM410.8 344.5h2.4v2.4h-2.4zM419.1 353.4h2.4v2.4h-2.4zM375.9 380.6h2.4v2.4h-2.4zM400.9 360.7h2.4v2.4h-2.4zM378.6 375.2h2.4v2.4h-2.4zM389.3 368.0h2.4v2.4h-2.4zM402.1 368.2h2.4v2.4h-2.4zM374.8 360.1h2.4v2.4h-2.4zM423.9 360.8h2.4v2.4h-2.4zM414.0 357.9h2.4v2.4h-2.4zM407.7 359.2h2.4v2.4h-2.4zM383.1 364.6h2.4v2.4h-2.4zM413.8 371.2h2.4v2.4h-2.4zM430.3 337.5h2.4v2.4h-2.4zM427.9 339.1h2.4v2.4h-2.4zM409.1 366.9h2.4v2.4h-2.4zM385.9 377.5h2.4v2.4h-2.4zM398.3 366.6h2.4v2.4h-2.4zM407.9 341.0h2.4v2.4h-2.4zM435.7 357.0h2.4v2.4h-2.4zM408.0 359.1h2.4v2.4h-2.4zM401.0 367.7h2.4v2.4h-2.4zM394.1 375.5h2.4v2.4h-2.4zM399.4 366.3h2.4v2.4h-2.4zM401.8 373.8h2.4v2.4h-2.4zM397.0 366.2h2.4v2.4h-2.4zM406.7 374.6h2.4v2.4h-2.4zM403.5 355.3h2.4v2.4h-2.4zM406.6 367.8h2.4v2.4h-2.4zM387.8 371.3h2.4v2.4h-2.4zM408.9 348.3h2.4v2.4h-2.4zM393.5 373.9h2.4v2.4h-2.4zM402.8 363.1h2.4v2.4h-2.4zM380.5 378.1h2.4v2.4h-2.4zM394.5 360.7h2.4v2.4h-2.4zM375.6 367.2h2.4v2.4h-2.4zM375.1 371.2h2.4v2.4h-2.4zM402.4 366.4h2.4v2.4h-2.4zM378.6 371.9h2.4v2.4h-2.4zM390.5 365.0h2.4v2.4h-2.4zM381.7 359.8h2.4v2.4h-2.4zM367.3 376.0h2.4v2.4h-2.4zM396.4 357.3h2.4v2.4h-2.4zM385.7 364.1h2.4v2.4h-2.4zM386.5 362.1h2.4v2.4h-2.4zM426.4 363.1h2.4v2.4h-2.4zM403.9 374.0h2.4v2.4h-2.4zM413.1 350.6h2.4v2.4h-2.4zM396.9 377.9h2.4v2.4h-2.4zM403.2 353.7h2.4v2.4h-2.4zM415.2 354.0h2.4v2.4h-2.4zM384.5 355.8h2.4v2.4h-2.4zM375.0 361.1h2.4v2.4h-2.4zM428.9 351.0h2.4v2.4h-2.4zM415.7 365.1h2.4v2.4h-2.4zM375.0 373.3h2.4v2.4h-2.4zM392.8 368.2h2.4v2.4h-2.4zM408.3 365.2h2.4v2.4h-2.4zM399.6 361.8h2.4v2.4h-2.4zM396.2 348.7h2.4v2.4h-2.4zM403.9 364.0h2.4v2.4h-2.4zM392.7 373.9h2.4v2.4h-2.4zM419.6 359.4h2.4v2.4h-2.4zM377.6 377.2h2.4v2.4h-2.4zM393.9 371.8h2.4v2.4h-2.4zM415.1 373.5h2.4v2.4h-2.4zM404.8 363.2h2.4v2.4h-2.4zM375.9 371.6h2.4v2.4h-2.4zM394.6 362.3h2.4v2.4h-2.4zM388.5 365.8h2.4v2.4h-2.4zM367.4 366.5h2.4v2.4h-2.4zM414.3 362.3h2.4v2.4h-2.4zM385.9 358.8h2.4v2.4h-2.4zM382.4 363.7h2.4v2.4h-2.4zM407.6 374.1h2.4v2.4h-2.4zM421.4 358.9h2.4v2.4h-2.4zM380.7 370.3h2.4v2.4h-2.4zM411.9 351.9h2.4v2.4h-2.4zM409.1 355.9h2.4v2.4h-2.4zM365.4 363.5h2.4v2.4h-2.4zM403.2 342.8h2.4v2.4h-2.4zM385.7 369.5h2.4v2.4h-2.4zM414.4 368.5h2.4v2.4h-2.4zM384.1 373.6h2.4v2.4h-2.4zM395.0 377.8h2.4v2.4h-2.4zM404.7 359.3h2.4v2.4h-2.4zM397.5 349.7h2.4v2.4h-2.4zM390.6 355.4h2.4v2.4h-2.4zM386.8 361.8h2.4v2.4h-2.4zM399.7 367.7h2.4v2.4h-2.4zM387.7 375.1h2.4v2.4h-2.4zM390.3 375.5h2.4v2.4h-2.4zM385.9 374.9h2.4v2.4h-2.4zM387.2 379.6h2.4v2.4h-2.4zM393.9 359.7h2.4v2.4h-2.4zM391.9 372.8h2.4v2.4h-2.4zM419.8 351.2h2.4v2.4h-2.4zM412.2 351.3h2.4v2.4h-2.4zM390.6 369.6h2.4v2.4h-2.4zM415.6 367.4h2.4v2.4h-2.4zM394.2 363.6h2.4v2.4h-2.4zM402.7 367.9h2.4v2.4h-2.4zM413.3 364.2h2.4v2.4h-2.4zM408.8 353.0h2.4v2.4h-2.4zM407.7 356.7h2.4v2.4h-2.4zM376.2 378.1h2.4v2.4h-2.4zM404.5 349.9h2.4v2.4h-2.4zM375.1 369.2h2.4v2.4h-2.4zM381.5 377.8h2.4v2.4h-2.4zM391.5 361.2h2.4v2.4h-2.4zM400.0 354.2h2.4v2.4h-2.4zM379.2 362.4h2.4v2.4h-2.4zM412.4 362.0h2.4v2.4h-2.4zM404.5 370.3h2.4v2.4h-2.4zM377.4 375.7h2.4v2.4h-2.4zM385.1 341.2h2.4v2.4h-2.4zM387.9 352.7h2.4v2.4h-2.4zM399.8 362.9h2.4v2.4h-2.4zM409.2 371.2h2.4v2.4h-2.4zM412.2 359.0h2.4v2.4h-2.4zM370.0 367.6h2.4v2.4h-2.4zM405.8 359.9h2.4v2.4h-2.4zM423.7 363.9h2.4v2.4h-2.4zM405.1 357.2h2.4v2.4h-2.4zM380.7 359.0h2.4v2.4h-2.4zM371.1 368.1h2.4v2.4h-2.4zM377.4 372.8h2.4v2.4h-2.4zM367.8 373.5h2.4v2.4h-2.4zM376.6 368.5h2.4v2.4h-2.4zM369.7 369.2h2.4v2.4h-2.4zM391.7 367.4h2.4v2.4h-2.4zM395.1 365.8h2.4v2.4h-2.4zM373.4 372.4h2.4v2.4h-2.4zM380.1 375.5h2.4v2.4h-2.4zM403.7 372.5h2.4v2.4h-2.4zM385.7 380.0h2.4v2.4h-2.4zM401.9 366.8h2.4v2.4h-2.4zM382.1 380.2h2.4v2.4h-2.4zM410.3 369.8h2.4v2.4h-2.4zM406.4 359.8h2.4v2.4h-2.4zM377.5 371.6h2.4v2.4h-2.4zM402.2 357.6h2.4v2.4h-2.4zM410.2 353.1h2.4v2.4h-2.4zM389.8 370.6h2.4v2.4h-2.4zM409.7 367.6h2.4v2.4h-2.4zM414.6 377.8h2.4v2.4h-2.4zM407.6 365.6h2.4v2.4h-2.4zM413.2 359.4h2.4v2.4h-2.4zM396.6 377.4h2.4v2.4h-2.4zM388.2 354.0h2.4v2.4h-2.4zM381.9 379.0h2.4v2.4h-2.4zM375.5 373.5h2.4v2.4h-2.4zM389.5 377.6h2.4v2.4h-2.4zM381.7 360.2h2.4v2.4h-2.4zM371.3 353.9h2.4v2.4h-2.4zM386.8 380.0h2.4v2.4h-2.4zM409.9 357.8h2.4v2.4h-2.4zM378.2 364.1h2.4v2.4h-2.4zM380.3 359.8h2.4v2.4h-2.4zM391.8 380.8h2.4v2.4h-2.4zM405.2 355.5h2.4v2.4h-2.4zM395.9 370.3h2.4v2.4h-2.4zM403.5 357.4h2.4v2.4h-2.4zM428.4 361.1h2.4v2.4h-2.4zM387.9 369.4h2.4v2.4h-2.4zM417.2 370.8h2.4v2.4h-2.4zM418.9 353.2h2.4v2.4h-2.4zM384.6 365.3h2.4v2.4h-2.4zM408.2 375.4h2.4v2.4h-2.4zM394.8 364.8h2.4v2.4h-2.4zM406.4 373.4h2.4v2.4h-2.4zM379.1 346.2h2.4v2.4h-2.4zM392.9 369.9h2.4v2.4h-2.4zM370.4 364.3h2.4v2.4h-2.4zM387.0 355.0h2.4v2.4h-2.4zM411.0 362.8h2.4v2.4h-2.4zM408.9 374.6h2.4v2.4h-2.4zM390.6 374.0h2.4v2.4h-2.4zM374.3 372.3h2.4v2.4h-2.4zM393.8 353.3h2.4v2.4h-2.4zM384.6 378.9h2.4v2.4h-2.4zM388.2 364.7h2.4v2.4h-2.4zM403.3 364.8h2.4v2.4h-2.4zM388.1 364.1h2.4v2.4h-2.4zM402.5 367.8h2.4v2.4h-2.4zM372.5 371.5h2.4v2.4h-2.4zM397.3 365.4h2.4v2.4h-2.4zM381.1 372.7h2.4v2.4h-2.4zM380.5 367.1h2.4v2.4h-2.4zM408.2 346.5h2.4v2.4h-2.4zM418.2 369.2h2.4v2.4h-2.4zM388.3 378.1h2.4v2.4h-2.4zM401.6 345.9h2.4v2.4h-2.4zM408.6 376.1h2.4v2.4h-2.4zM373.9 367.5h2.4v2.4h-2.4zM396.3 363.9h2.4v2.4h-2.4zM427.1 367.1h2.4v2.4h-2.4zM381.6 351.2h2.4v2.4h-2.4zM402.2 373.0h2.4v2.4h-2.4zM369.9 372.9h2.4v2.4h-2.4zM397.0 356.8h2.4v2.4h-2.4zM393.9 374.3h2.4v2.4h-2.4zM383.4 351.4h2.4v2.4h-2.4zM365.7 373.0h2.4v2.4h-2.4zM396.7 360.6h2.4v2.4h-2.4zM389.3 363.7h2.4v2.4h-2.4zM410.4 364.7h2.4v2.4h-2.4zM388.3 370.7h2.4v2.4h-2.4zM379.6 373.2h2.4v2.4h-2.4zM391.0 366.1h2.4v2.4h-2.4zM419.4 348.0h2.4v2.4h-2.4zM388.6 362.9h2.4v2.4h-2.4zM401.4 358.0h2.4v2.4h-2.4zM396.6 364.1h2.4v2.4h-2.4zM388.2 376.7h2.4v2.4h-2.4zM411.4 350.1h2.4v2.4h-2.4zM407.7 359.6h2.4v2.4h-2.4zM400.9 370.1h2.4v2.4h-2.4zM365.4 368.2h2.4v2.4h-2.4zM399.7 371.4h2.4v2.4h-2.4zM379.6 358.5h2.4v2.4h-2.4zM365.0 357.5h2.4v2.4h-2.4zM407.4 340.6h2.4v2.4h-2.4zM383.8 370.2h2.4v2.4h-2.4zM387.5 367.5h2.4v2.4h-2.4zM392.6 375.1h2.4v2.4h-2.4zM414.9 369.8h2.4v2.4h-2.4zM387.5 363.6h2.4v2.4h-2.4zM387.0 373.5h2.4v2.4h-2.4zM402.4 368.9h2.4v2.4h-2.4zM374.7 373.4h2.4v2.4h-2.4zM392.5 351.0h2.4v2.4h-2.4zM377.3 362.1h2.4v2.4h-2.4zM382.7 373.8h2.4v2.4h-2.4zM390.6 365.6h2.4v2.4h-2.4zM411.2 345.7h2.4v2.4h-2.4zM385.2 356.5h2.4v2.4h-2.4zM413.5 354.4h2.4v2.4h-2.4zM383.1 361.3h2.4v2.4h-2.4zM394.4 363.8h2.4v2.4h-2.4zM391.6 361.5h2.4v2.4h-2.4zM415.6 350.7h2.4v2.4h-2.4zM392.7 357.9h2.4v2.4h-2.4zM421.4 369.6h2.4v2.4h-2.4zM421.8 373.5h2.4v2.4h-2.4zM405.7 358.6h2.4v2.4h-2.4zM422.0 357.5h2.4v2.4h-2.4zM387.9 376.8h2.4v2.4h-2.4zM374.6 364.8h2.4v2.4h-2.4zM392.2 375.0h2.4v2.4h-2.4zM405.5 372.0h2.4v2.4h-2.4zM388.7 373.3h2.4v2.4h-2.4zM424.9 345.1h2.4v2.4h-2.4zM393.5 364.8h2.4v2.4h-2.4zM397.5 363.1h2.4v2.4h-2.4zM406.1 367.5h2.4v2.4h-2.4zM412.3 354.5h2.4v2.4h-2.4zM399.9 369.9h2.4v2.4h-2.4zM387.9 362.1h2.4v2.4h-2.4zM377.2 373.3h2.4v2.4h-2.4zM383.3 364.2h2.4v2.4h-2.4zM395.8 366.6h2.4v2.4h-2.4zM411.4 377.7h2.4v2.4h-2.4zM395.1 364.3h2.4v2.4h-2.4zM410.7 373.8h2.4v2.4h-2.4zM408.7 361.5h2.4v2.4h-2.4zM419.8 349.6h2.4v2.4h-2.4zM405.8 343.2h2.4v2.4h-2.4zM396.3 371.0h2.4v2.4h-2.4zM390.4 377.6h2.4v2.4h-2.4zM395.8 367.8h2.4v2.4h-2.4zM403.7 355.2h2.4v2.4h-2.4zM390.3 354.7h2.4v2.4h-2.4zM385.0 371.1h2.4v2.4h-2.4zM383.1 378.0h2.4v2.4h-2.4zM425.8 364.3h2.4v2.4h-2.4zM453.4 370.3h2.4v2.4h-2.4zM496.8 350.7h2.4v2.4h-2.4zM425.3 350.4h2.4v2.4h-2.4zM468.9 358.9h2.4v2.4h-2.4zM456.0 367.9h2.4v2.4h-2.4zM506.2 368.6h2.4v2.4h-2.4zM436.5 369.9h2.4v2.4h-2.4zM426.1 367.1h2.4v2.4h-2.4zM433.8 354.1h2.4v2.4h-2.4zM440.2 352.1h2.4v2.4h-2.4zM466.0 350.7h2.4v2.4h-2.4zM435.9 360.8h2.4v2.4h-2.4zM448.8 350.5h2.4v2.4h-2.4zM498.3 365.8h2.4v2.4h-2.4zM489.6 355.2h2.4v2.4h-2.4zM430.5 368.8h2.4v2.4h-2.4zM480.5 364.4h2.4v2.4h-2.4zM456.1 361.0h2.4v2.4h-2.4zM465.6 366.8h2.4v2.4h-2.4zM460.0 376.2h2.4v2.4h-2.4zM482.4 357.6h2.4v2.4h-2.4zM429.0 363.4h2.4v2.4h-2.4zM434.1 353.1h2.4v2.4h-2.4zM426.1 362.5h2.4v2.4h-2.4zM468.8 355.5h2.4v2.4h-2.4zM449.0 355.3h2.4v2.4h-2.4zM450.4 356.1h2.4v2.4h-2.4zM443.4 359.6h2.4v2.4h-2.4zM423.6 358.3h2.4v2.4h-2.4zM514.9 361.3h2.4v2.4h-2.4zM470.2 365.1h2.4v2.4h-2.4zM509.7 365.3h2.4v2.4h-2.4zM451.8 363.0h2.4v2.4h-2.4zM448.0 357.2h2.4v2.4h-2.4zM423.5 350.9h2.4v2.4h-2.4zM495.3 369.1h2.4v2.4h-2.4zM498.2 371.3h2.4v2.4h-2.4zM464.4 361.4h2.4v2.4h-2.4zM430.3 354.6h2.4v2.4h-2.4zM424.5 358.7h2.4v2.4h-2.4zM439.3 378.3h2.4v2.4h-2.4zM432.9 372.5h2.4v2.4h-2.4zM496.6 374.5h2.4v2.4h-2.4zM431.9 357.7h2.4v2.4h-2.4zM472.7 377.8h2.4v2.4h-2.4zM441.1 354.6h2.4v2.4h-2.4zM440.7 346.0h2.4v2.4h-2.4zM443.7 369.5h2.4v2.4h-2.4zM482.5 364.0h2.4v2.4h-2.4zM435.9 350.1h2.4v2.4h-2.4zM462.4 358.3h2.4v2.4h-2.4zM481.1 366.7h2.4v2.4h-2.4zM500.2 380.0h2.4v2.4h-2.4zM452.2 366.6h2.4v2.4h-2.4zM439.5 361.3h2.4v2.4h-2.4zM458.6 349.3h2.4v2.4h-2.4zM431.7 354.7h2.4v2.4h-2.4zM448.6 357.5h2.4v2.4h-2.4zM425.1 362.0h2.4v2.4h-2.4zM448.4 356.1h2.4v2.4h-2.4zM423.2 347.9h2.4v2.4h-2.4zM483.6 351.6h2.4v2.4h-2.4zM447.4 373.8h2.4v2.4h-2.4zM438.5 367.0h2.4v2.4h-2.4zM447.2 370.5h2.4v2.4h-2.4zM441.9 373.6h2.4v2.4h-2.4zM481.8 356.3h2.4v2.4h-2.4zM492.6 357.5h2.4v2.4h-2.4zM448.6 354.9h2.4v2.4h-2.4zM457.2 364.7h2.4v2.4h-2.4zM427.4 356.5h2.4v2.4h-2.4zM441.0 355.4h2.4v2.4h-2.4zM493.4 345.2h2.4v2.4h-2.4zM504.2 379.5h2.4v2.4h-2.4zM461.7 360.1h2.4v2.4h-2.4zM466.5 364.2h2.4v2.4h-2.4zM460.8 364.7h2.4v2.4h-2.4zM502.0 350.1h2.4v2.4h-2.4zM451.2 365.9h2.4v2.4h-2.4zM442.2 367.4h2.4v2.4h-2.4zM489.7 355.6h2.4v2.4h-2.4zM466.7 360.3h2.4v2.4h-2.4zM448.9 350.0h2.4v2.4h-2.4zM444.0 354.6h2.4v2.4h-2.4zM458.6 370.8h2.4v2.4h-2.4zM457.4 355.8h2.4v2.4h-2.4zM445.5 357.1h2.4v2.4h-2.4zM490.4 357.6h2.4v2.4h-2.4zM456.1 347.7h2.4v2.4h-2.4zM436.8 349.7h2.4v2.4h-2.4zM428.0 368.0h2.4v2.4h-2.4zM451.8 362.6h2.4v2.4h-2.4zM456.5 359.6h2.4v2.4h-2.4zM428.9 349.7h2.4v2.4h-2.4zM453.5 364.4h2.4v2.4h-2.4zM446.3 363.2h2.4v2.4h-2.4zM426.8 377.9h2.4v2.4h-2.4zM456.3 354.7h2.4v2.4h-2.4zM470.0 361.1h2.4v2.4h-2.4zM514.1 365.7h2.4v2.4h-2.4zM470.7 347.8h2.4v2.4h-2.4zM445.2 351.2h2.4v2.4h-2.4zM432.1 350.1h2.4v2.4h-2.4zM476.0 364.2h2.4v2.4h-2.4zM430.2 360.8h2.4v2.4h-2.4zM435.8 364.4h2.4v2.4h-2.4zM444.0 349.3h2.4v2.4h-2.4zM434.4 360.2h2.4v2.4h-2.4zM439.5 363.8h2.4v2.4h-2.4zM480.1 392.8h2.4v2.4h-2.4zM458.2 387.6h2.4v2.4h-2.4zM482.4 392.5h2.4v2.4h-2.4zM478.6 387.8h2.4v2.4h-2.4zM435.3 386.1h2.4v2.4h-2.4zM469.8 392.1h2.4v2.4h-2.4zM417.4 394.6h2.4v2.4h-2.4zM437.8 390.5h2.4v2.4h-2.4zM466.4 386.5h2.4v2.4h-2.4zM415.5 389.0h2.4v2.4h-2.4zM452.2 389.6h2.4v2.4h-2.4zM483.1 391.3h2.4v2.4h-2.4zM462.6 390.1h2.4v2.4h-2.4zM443.9 388.3h2.4v2.4h-2.4zM475.9 391.2h2.4v2.4h-2.4zM409.0 390.7h2.4v2.4h-2.4zM416.3 389.5h2.4v2.4h-2.4zM452.7 391.7h2.4v2.4h-2.4zM431.1 391.0h2.4v2.4h-2.4zM419.1 392.5h2.4v2.4h-2.4zM479.0 394.0h2.4v2.4h-2.4zM473.5 391.0h2.4v2.4h-2.4zM485.0 387.6h2.4v2.4h-2.4zM419.7 389.8h2.4v2.4h-2.4zM448.4 386.6h2.4v2.4h-2.4zM410.2 393.5h2.4v2.4h-2.4zM422.2 388.3h2.4v2.4h-2.4zM439.5 393.7h2.4v2.4h-2.4zM446.3 387.2h2.4v2.4h-2.4zM439.5 385.7h2.4v2.4h-2.4zM478.8 390.8h2.4v2.4h-2.4zM434.3 390.7h2.4v2.4h-2.4zM425.0 387.2h2.4v2.4h-2.4zM410.9 392.2h2.4v2.4h-2.4zM421.2 392.0h2.4v2.4h-2.4zM454.6 387.7h2.4v2.4h-2.4zM439.1 390.2h2.4v2.4h-2.4zM454.7 389.8h2.4v2.4h-2.4zM434.6 387.1h2.4v2.4h-2.4zM488.1 389.6h2.4v2.4h-2.4zM411.0 387.6h2.4v2.4h-2.4zM429.6 386.8h2.4v2.4h-2.4zM429.7 392.1h2.4v2.4h-2.4zM453.9 390.0h2.4v2.4h-2.4zM450.6 392.3h2.4v2.4h-2.4zM420.2 303.9h2.4v2.4h-2.4zM447.3 301.2h2.4v2.4h-2.4zM494.9 289.4h2.4v2.4h-2.4zM408.6 296.7h2.4v2.4h-2.4zM463.7 318.3h2.4v2.4h-2.4zM478.2 307.5h2.4v2.4h-2.4zM404.2 323.6h2.4v2.4h-2.4zM397.9 327.2h2.4v2.4h-2.4zM492.7 326.3h2.4v2.4h-2.4zM500.2 340.1h2.4v2.4h-2.4zM501.8 348.8h2.4v2.4h-2.4zM369.5 345.2h2.4v2.4h-2.4zM514.7 360.2h2.4v2.4h-2.4zM521.6 358.8h2.4v2.4h-2.4zM500.2 383.7h2.4v2.4h-2.4zM476.6 373.9h2.4v2.4h-2.4z" fill="#7a7a7a"/>
<line x1="367" y1="384" x2="523" y2="342.6" stroke="#333" stroke-width="1.1" stroke-dasharray="1.2 1"/>
<line x1="408.5" y1="271" x2="408.5" y2="414.52" stroke="#2a2a2a" stroke-width="1.35" />
<line x1="345.5" y1="396.6" x2="534.5" y2="396.6" stroke="#2a2a2a" stroke-width="1.35" />
<line x1="406.5" y1="271.0" x2="410.5" y2="271.0" stroke="#2a2a2a" stroke-width="1.35" />
<text x="401.8" y="279.1" font-size="12" text-anchor="end" >7</text>
<line x1="406.5" y1="288.94" x2="410.5" y2="288.94" stroke="#2a2a2a" stroke-width="1.35" />
<text x="401.8" y="295.90000000000003" font-size="12" text-anchor="end" >6</text>
<line x1="406.5" y1="306.88" x2="410.5" y2="306.88" stroke="#2a2a2a" stroke-width="1.35" />
<text x="401.8" y="312.70000000000005" font-size="12" text-anchor="end" >5</text>
<line x1="406.5" y1="324.82" x2="410.5" y2="324.82" stroke="#2a2a2a" stroke-width="1.35" />
<text x="401.8" y="329.5" font-size="12" text-anchor="end" >4</text>
<line x1="406.5" y1="342.76" x2="410.5" y2="342.76" stroke="#2a2a2a" stroke-width="1.35" />
<text x="401.8" y="346.3" font-size="12" text-anchor="end" >3</text>
<line x1="406.5" y1="360.7" x2="410.5" y2="360.7" stroke="#2a2a2a" stroke-width="1.35" />
<text x="401.8" y="363.1" font-size="12" text-anchor="end" >2</text>
<line x1="406.5" y1="378.64" x2="410.5" y2="378.64" stroke="#2a2a2a" stroke-width="1.35" />
<text x="401.8" y="379.90000000000003" font-size="12" text-anchor="end" >1</text>
<line x1="406.5" y1="396.58000000000004" x2="410.5" y2="396.58000000000004" stroke="#2a2a2a" stroke-width="1.35" />
<text x="401.8" y="396.70000000000005" font-size="12" text-anchor="end" >0</text>
<line x1="406.5" y1="414.52" x2="410.5" y2="414.52" stroke="#2a2a2a" stroke-width="1.35" />
<text x="401.8" y="411.6" font-size="12" text-anchor="end" >-1</text>
<line x1="345.5" y1="394.6" x2="345.5" y2="398.6" stroke="#2a2a2a" stroke-width="1.35" />
<text x="344.8" y="411.8" font-size="12" text-anchor="middle" >-2</text>
<line x1="377.0" y1="394.6" x2="377.0" y2="398.6" stroke="#2a2a2a" stroke-width="1.35" />
<text x="372.5" y="411.8" font-size="12" text-anchor="middle" >-1</text>
<line x1="408.5" y1="394.6" x2="408.5" y2="398.6" stroke="#2a2a2a" stroke-width="1.35" />
<text x="402" y="411.8" font-size="12" text-anchor="middle" >0</text>
<line x1="440.0" y1="394.6" x2="440.0" y2="398.6" stroke="#2a2a2a" stroke-width="1.35" />
<text x="439" y="411.8" font-size="12" text-anchor="middle" >1</text>
<line x1="471.5" y1="394.6" x2="471.5" y2="398.6" stroke="#2a2a2a" stroke-width="1.35" />
<text x="471" y="411.8" font-size="12" text-anchor="middle" >2</text>
<line x1="503.0" y1="394.6" x2="503.0" y2="398.6" stroke="#2a2a2a" stroke-width="1.35" />
<text x="502.5" y="411.8" font-size="12" text-anchor="middle" >3</text>
<line x1="534.5" y1="394.6" x2="534.5" y2="398.6" stroke="#2a2a2a" stroke-width="1.35" />
<text x="532" y="411.8" font-size="12" text-anchor="middle" >4</text>
<text x="360.2" y="441.8" font-size="15.3" text-anchor="start" >Standardized g<tspan font-size="9" dy="5">sw</tspan><tspan dy="-5"> (R.U.)</tspan></text>
<text x="0" y="0" font-size="15" text-anchor="middle" transform="translate(334.5,329.5) rotate(-90)">NDI (g<tspan font-size="9" dy="4.5">sw</tspan><tspan dy="-4.5">) (R.U.)</tspan></text>
<text x="409.3" y="257" font-size="20" text-anchor="start" >D</text>
<text x="493.9" y="317" font-size="12.5" text-anchor="start" >R<tspan font-size="8" dy="-4">2</tspan><tspan dy="4">=0.18</tspan></text>
</svg></body></html>
